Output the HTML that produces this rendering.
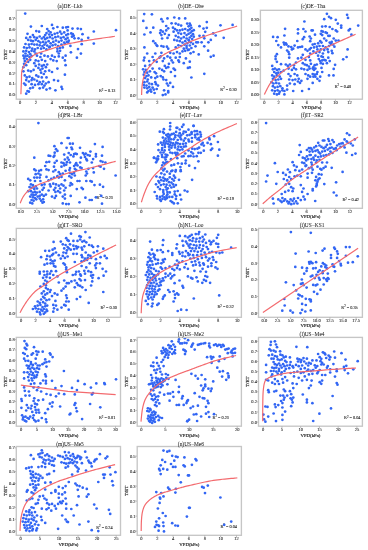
<!DOCTYPE html><html><head><meta charset="utf-8"><style>html,body{margin:0;padding:0;background:#fff;width:368px;height:550px;overflow:hidden}svg{display:block}text{font-family:"Liberation Serif",serif;fill:#262626;stroke:#262626;stroke-width:0.18px}.tk{stroke-width:0.08px}.ti{stroke-width:0.05px}.xl{stroke-width:0.16px}.r2{stroke-width:0.1px}</style></head><body><svg width="368" height="550" viewBox="0 0 368 550"><rect width="368" height="550" fill="#fff"/><g><clipPath id="ca"><rect x="16.30" y="10.30" width="104.20" height="88.90"/></clipPath><text class="r2" x="115.40" y="92.40" font-size="4.25" text-anchor="end">R<tspan font-size="3.2" dy="-1.6">2</tspan><tspan dy="1.6"> = 0.13</tspan></text><g clip-path="url(#ca)" fill="#3266f4"><circle cx="30.9" cy="26.6" r="1.36"/><circle cx="41.8" cy="26.0" r="1.36"/><circle cx="52.0" cy="24.9" r="1.36"/><circle cx="57.4" cy="27.0" r="1.36"/><circle cx="62.8" cy="27.7" r="1.36"/><circle cx="66.2" cy="27.4" r="1.36"/><circle cx="53.3" cy="28.3" r="1.36"/><circle cx="36.3" cy="31.1" r="1.36"/><circle cx="39.1" cy="31.7" r="1.36"/><circle cx="27.5" cy="33.8" r="1.36"/><circle cx="47.2" cy="29.0" r="1.36"/><circle cx="48.6" cy="31.1" r="1.36"/><circle cx="50.6" cy="32.4" r="1.36"/><circle cx="46.5" cy="33.1" r="1.36"/><circle cx="49.2" cy="34.5" r="1.36"/><circle cx="45.2" cy="35.1" r="1.36"/><circle cx="52.0" cy="35.1" r="1.36"/><circle cx="54.7" cy="33.8" r="1.36"/><circle cx="57.4" cy="33.1" r="1.36"/><circle cx="60.1" cy="31.7" r="1.36"/><circle cx="61.5" cy="33.8" r="1.36"/><circle cx="64.2" cy="32.4" r="1.36"/><circle cx="66.2" cy="35.1" r="1.36"/><circle cx="67.6" cy="30.4" r="1.36"/><circle cx="32.9" cy="35.1" r="1.36"/><circle cx="30.2" cy="37.2" r="1.36"/><circle cx="26.2" cy="37.9" r="1.36"/><circle cx="34.3" cy="37.2" r="1.36"/><circle cx="37.0" cy="37.9" r="1.36"/><circle cx="39.7" cy="36.5" r="1.36"/><circle cx="41.8" cy="38.5" r="1.36"/><circle cx="43.8" cy="37.2" r="1.36"/><circle cx="45.2" cy="39.2" r="1.36"/><circle cx="47.2" cy="37.9" r="1.36"/><circle cx="49.9" cy="37.2" r="1.36"/><circle cx="52.6" cy="38.5" r="1.36"/><circle cx="55.4" cy="37.2" r="1.36"/><circle cx="58.1" cy="36.5" r="1.36"/><circle cx="60.8" cy="37.9" r="1.36"/><circle cx="63.5" cy="37.2" r="1.36"/><circle cx="65.6" cy="39.2" r="1.36"/><circle cx="67.6" cy="37.9" r="1.36"/><circle cx="28.2" cy="39.9" r="1.36"/><circle cx="30.9" cy="40.6" r="1.36"/><circle cx="32.9" cy="41.2" r="1.36"/><circle cx="35.7" cy="39.9" r="1.36"/><circle cx="38.4" cy="41.2" r="1.36"/><circle cx="40.4" cy="42.6" r="1.36"/><circle cx="43.1" cy="41.9" r="1.36"/><circle cx="45.9" cy="42.6" r="1.36"/><circle cx="48.6" cy="41.2" r="1.36"/><circle cx="50.6" cy="43.3" r="1.36"/><circle cx="53.3" cy="41.9" r="1.36"/><circle cx="56.0" cy="40.6" r="1.36"/><circle cx="58.8" cy="41.9" r="1.36"/><circle cx="61.5" cy="40.6" r="1.36"/><circle cx="64.2" cy="42.6" r="1.36"/><circle cx="66.9" cy="41.9" r="1.36"/><circle cx="25.5" cy="44.0" r="1.36"/><circle cx="28.9" cy="44.6" r="1.36"/><circle cx="31.6" cy="44.0" r="1.36"/><circle cx="34.3" cy="44.6" r="1.36"/><circle cx="37.0" cy="44.6" r="1.36"/><circle cx="39.7" cy="45.3" r="1.36"/><circle cx="42.5" cy="46.0" r="1.36"/><circle cx="44.5" cy="44.6" r="1.36"/><circle cx="47.2" cy="45.6" r="1.36"/><circle cx="49.9" cy="46.7" r="1.36"/><circle cx="52.6" cy="45.3" r="1.36"/><circle cx="55.4" cy="44.6" r="1.36"/><circle cx="58.1" cy="46.0" r="1.36"/><circle cx="61.5" cy="44.6" r="1.36"/><circle cx="64.9" cy="44.0" r="1.36"/><circle cx="24.1" cy="47.4" r="1.36"/><circle cx="26.8" cy="48.0" r="1.36"/><circle cx="29.5" cy="47.4" r="1.36"/><circle cx="32.3" cy="48.7" r="1.36"/><circle cx="35.0" cy="49.4" r="1.36"/><circle cx="37.7" cy="48.0" r="1.36"/><circle cx="41.1" cy="48.7" r="1.36"/><circle cx="43.8" cy="48.0" r="1.36"/><circle cx="46.5" cy="49.4" r="1.36"/><circle cx="49.2" cy="47.4" r="1.36"/><circle cx="57.4" cy="48.7" r="1.36"/><circle cx="60.1" cy="48.0" r="1.36"/><circle cx="62.8" cy="47.4" r="1.36"/><circle cx="23.4" cy="51.4" r="1.36"/><circle cx="26.2" cy="50.8" r="1.36"/><circle cx="28.9" cy="52.1" r="1.36"/><circle cx="31.6" cy="50.8" r="1.36"/><circle cx="34.3" cy="51.4" r="1.36"/><circle cx="25.5" cy="53.5" r="1.36"/><circle cx="30.2" cy="54.2" r="1.36"/><circle cx="35.7" cy="53.5" r="1.36"/><circle cx="41.1" cy="53.5" r="1.36"/><circle cx="57.4" cy="51.4" r="1.36"/><circle cx="60.1" cy="50.8" r="1.36"/><circle cx="58.8" cy="53.5" r="1.36"/><circle cx="23.4" cy="55.7" r="1.36"/><circle cx="25.5" cy="56.4" r="1.36"/><circle cx="27.5" cy="55.7" r="1.36"/><circle cx="29.5" cy="57.0" r="1.36"/><circle cx="31.6" cy="56.1" r="1.36"/><circle cx="24.1" cy="58.4" r="1.36"/><circle cx="26.8" cy="59.1" r="1.36"/><circle cx="30.2" cy="59.8" r="1.36"/><circle cx="24.8" cy="61.1" r="1.36"/><circle cx="28.2" cy="61.8" r="1.36"/><circle cx="24.1" cy="63.8" r="1.36"/><circle cx="26.2" cy="65.2" r="1.36"/><circle cx="23.4" cy="67.2" r="1.36"/><circle cx="37.0" cy="55.7" r="1.36"/><circle cx="40.4" cy="57.0" r="1.36"/><circle cx="44.5" cy="55.7" r="1.36"/><circle cx="47.9" cy="56.4" r="1.36"/><circle cx="52.0" cy="55.7" r="1.36"/><circle cx="54.7" cy="57.0" r="1.36"/><circle cx="58.8" cy="56.4" r="1.36"/><circle cx="62.8" cy="57.7" r="1.36"/><circle cx="65.6" cy="55.7" r="1.36"/><circle cx="35.7" cy="60.4" r="1.36"/><circle cx="38.4" cy="61.1" r="1.36"/><circle cx="41.8" cy="59.8" r="1.36"/><circle cx="45.2" cy="61.1" r="1.36"/><circle cx="50.6" cy="59.1" r="1.36"/><circle cx="53.3" cy="60.4" r="1.36"/><circle cx="56.7" cy="61.1" r="1.36"/><circle cx="64.9" cy="60.4" r="1.36"/><circle cx="39.1" cy="64.5" r="1.36"/><circle cx="41.8" cy="65.9" r="1.36"/><circle cx="43.8" cy="65.2" r="1.36"/><circle cx="45.9" cy="67.2" r="1.36"/><circle cx="42.5" cy="68.6" r="1.36"/><circle cx="40.4" cy="69.9" r="1.36"/><circle cx="38.4" cy="67.9" r="1.36"/><circle cx="34.3" cy="63.2" r="1.36"/><circle cx="35.7" cy="65.9" r="1.36"/><circle cx="47.2" cy="64.5" r="1.36"/><circle cx="65.6" cy="65.2" r="1.36"/><circle cx="57.4" cy="68.6" r="1.36"/><circle cx="23.4" cy="71.3" r="1.36"/><circle cx="28.2" cy="70.6" r="1.36"/><circle cx="30.9" cy="71.3" r="1.36"/><circle cx="33.6" cy="69.9" r="1.36"/><circle cx="45.2" cy="71.3" r="1.36"/><circle cx="49.2" cy="70.6" r="1.36"/><circle cx="52.0" cy="72.0" r="1.36"/><circle cx="41.1" cy="72.7" r="1.36"/><circle cx="43.8" cy="74.0" r="1.36"/><circle cx="24.8" cy="75.4" r="1.36"/><circle cx="26.8" cy="77.4" r="1.36"/><circle cx="29.5" cy="76.7" r="1.36"/><circle cx="32.3" cy="78.1" r="1.36"/><circle cx="36.3" cy="75.4" r="1.36"/><circle cx="38.4" cy="76.7" r="1.36"/><circle cx="41.8" cy="77.4" r="1.36"/><circle cx="46.5" cy="77.4" r="1.36"/><circle cx="64.9" cy="74.7" r="1.36"/><circle cx="26.2" cy="80.1" r="1.36"/><circle cx="28.9" cy="81.5" r="1.36"/><circle cx="31.6" cy="80.1" r="1.36"/><circle cx="34.3" cy="79.5" r="1.36"/><circle cx="37.0" cy="80.8" r="1.36"/><circle cx="39.7" cy="82.2" r="1.36"/><circle cx="43.1" cy="81.5" r="1.36"/><circle cx="45.9" cy="83.5" r="1.36"/><circle cx="48.6" cy="82.2" r="1.36"/><circle cx="54.0" cy="80.1" r="1.36"/><circle cx="58.1" cy="80.8" r="1.36"/><circle cx="24.1" cy="83.5" r="1.36"/><circle cx="25.5" cy="84.9" r="1.36"/><circle cx="31.6" cy="84.2" r="1.36"/><circle cx="35.0" cy="84.9" r="1.36"/><circle cx="38.4" cy="84.2" r="1.36"/><circle cx="41.8" cy="84.2" r="1.36"/><circle cx="44.5" cy="85.6" r="1.36"/><circle cx="61.5" cy="86.9" r="1.36"/><circle cx="62.2" cy="89.0" r="1.36"/><circle cx="32.9" cy="87.6" r="1.36"/><circle cx="30.2" cy="88.3" r="1.36"/><circle cx="39.7" cy="88.3" r="1.36"/><circle cx="43.1" cy="87.6" r="1.36"/><circle cx="46.5" cy="89.6" r="1.36"/><circle cx="49.9" cy="88.3" r="1.36"/><circle cx="55.4" cy="90.3" r="1.36"/><circle cx="27.5" cy="91.0" r="1.36"/><circle cx="26.2" cy="93.7" r="1.36"/><circle cx="28.9" cy="91.7" r="1.36"/><circle cx="25.2" cy="13.6" r="1.36"/><circle cx="68.0" cy="27.0" r="1.36"/><circle cx="72.5" cy="28.6" r="1.36"/><circle cx="77.7" cy="28.6" r="1.36"/><circle cx="80.9" cy="29.1" r="1.36"/><circle cx="93.8" cy="31.5" r="1.36"/><circle cx="116.0" cy="30.2" r="1.36"/><circle cx="68.0" cy="34.2" r="1.36"/><circle cx="71.2" cy="33.4" r="1.36"/><circle cx="72.8" cy="34.2" r="1.36"/><circle cx="73.7" cy="35.8" r="1.36"/><circle cx="72.0" cy="36.7" r="1.36"/><circle cx="74.5" cy="38.3" r="1.36"/><circle cx="78.5" cy="38.3" r="1.36"/><circle cx="82.5" cy="34.2" r="1.36"/><circle cx="81.7" cy="39.9" r="1.36"/><circle cx="88.2" cy="37.8" r="1.36"/><circle cx="68.8" cy="40.7" r="1.36"/><circle cx="68.0" cy="42.3" r="1.36"/><circle cx="70.4" cy="45.9" r="1.36"/><circle cx="81.7" cy="44.2" r="1.36"/><circle cx="93.8" cy="43.6" r="1.36"/><circle cx="78.0" cy="49.1" r="1.36"/><circle cx="70.9" cy="52.3" r="1.36"/><circle cx="80.9" cy="53.6" r="1.36"/><circle cx="76.9" cy="57.7" r="1.36"/></g><polyline clip-path="url(#ca)" points="20.90,94.30 20.92,93.70 20.95,92.96 20.99,92.08 21.02,91.10 21.06,90.03 21.11,88.90 21.15,87.73 21.20,86.53 21.25,85.34 21.30,84.17 21.35,83.05 21.40,82.00 21.44,80.98 21.46,79.94 21.47,78.89 21.48,77.83 21.49,76.78 21.50,75.73 21.53,74.70 21.58,73.69 21.65,72.71 21.76,71.77 21.91,70.86 22.10,70.00 22.34,69.19 22.62,68.41 22.93,67.66 23.27,66.95 23.64,66.27 24.04,65.61 24.45,64.97 24.87,64.35 25.30,63.74 25.74,63.15 26.17,62.57 26.60,62.00 27.04,61.44 27.49,60.88 27.96,60.35 28.44,59.83 28.93,59.32 29.42,58.83 29.92,58.36 30.41,57.91 30.90,57.47 31.38,57.06 31.85,56.67 32.30,56.30 32.72,55.96 33.12,55.65 33.49,55.38 33.85,55.12 34.20,54.89 34.56,54.67 34.92,54.46 35.31,54.26 35.72,54.05 36.17,53.85 36.66,53.63 37.20,53.40 37.76,53.18 38.29,52.97 38.82,52.78 39.36,52.60 39.93,52.42 40.54,52.24 41.21,52.04 41.95,51.82 42.79,51.57 43.73,51.29 44.80,50.97 46.00,50.60 47.35,50.17 48.83,49.69 50.43,49.15 52.14,48.58 53.93,47.98 55.81,47.37 57.74,46.75 59.73,46.13 61.75,45.53 63.80,44.95 65.85,44.40 67.90,43.90 70.00,43.43 72.20,42.98 74.48,42.54 76.82,42.11 79.19,41.70 81.58,41.31 83.96,40.92 86.31,40.55 88.62,40.19 90.85,39.85 92.98,39.52 95.00,39.20 96.97,38.89 98.95,38.59 100.93,38.30 102.87,38.02 104.77,37.76 106.59,37.51 108.32,37.27 109.94,37.06 111.41,36.86 112.73,36.68 113.87,36.53 114.80,36.40" fill="none" stroke="#f36a6e" stroke-width="1.2" stroke-linejoin="round"/><rect x="16.30" y="10.30" width="104.20" height="88.90" fill="none" stroke="#c6c6c6" stroke-width="1.35"/><text class="tk" x="20.05" y="103.80" font-size="4.50" text-anchor="middle">0</text><text class="tk" x="35.95" y="103.80" font-size="4.50" text-anchor="middle">2</text><text class="tk" x="51.85" y="103.80" font-size="4.50" text-anchor="middle">4</text><text class="tk" x="67.75" y="103.80" font-size="4.50" text-anchor="middle">6</text><text class="tk" x="83.65" y="103.80" font-size="4.50" text-anchor="middle">8</text><text class="tk" x="99.55" y="103.80" font-size="4.50" text-anchor="middle">10</text><text class="tk" x="115.45" y="103.80" font-size="4.50" text-anchor="middle">12</text><text class="tk" x="14.70" y="96.40" font-size="4.50" text-anchor="end">0.0</text><text class="tk" x="14.70" y="85.49" font-size="4.50" text-anchor="end">0.1</text><text class="tk" x="14.70" y="74.58" font-size="4.50" text-anchor="end">0.2</text><text class="tk" x="14.70" y="63.67" font-size="4.50" text-anchor="end">0.3</text><text class="tk" x="14.70" y="52.76" font-size="4.50" text-anchor="end">0.4</text><text class="tk" x="14.70" y="41.85" font-size="4.50" text-anchor="end">0.5</text><text class="tk" x="14.70" y="30.94" font-size="4.50" text-anchor="end">0.6</text><text class="tk" x="14.70" y="20.03" font-size="4.50" text-anchor="end">0.7</text><path d="M20.05 99.50v1.6M35.95 99.50v1.6M51.85 99.50v1.6M67.75 99.50v1.6M83.65 99.50v1.6M99.55 99.50v1.6M115.45 99.50v1.6M16.00 94.90h-1.6M16.00 83.99h-1.6M16.00 73.08h-1.6M16.00 62.17h-1.6M16.00 51.26h-1.6M16.00 40.35h-1.6M16.00 29.44h-1.6M16.00 18.53h-1.6" stroke="#8a8a8a" stroke-width="0.55" fill="none"/><text class="ti" x="70.00" y="7.70" font-size="5.40" text-anchor="middle">(a)DE−Lkb</text><text class="xl" x="68.40" y="108.90" font-size="4.80" text-anchor="middle">VPD(kPa)</text><text transform="translate(6.60 54.75) rotate(-90)" font-size="4.90" text-anchor="middle">T/ET</text></g><g><clipPath id="cb"><rect x="137.20" y="10.30" width="104.20" height="88.90"/></clipPath><text class="r2" x="236.70" y="90.80" font-size="4.25" text-anchor="end">R<tspan font-size="3.2" dy="-1.6">2</tspan><tspan dy="1.6"> = 0.30</tspan></text><g clip-path="url(#cb)" fill="#3266f4"><circle cx="144.2" cy="14.1" r="1.36"/><circle cx="151.9" cy="14.3" r="1.36"/><circle cx="143.3" cy="20.9" r="1.36"/><circle cx="161.4" cy="19.2" r="1.36"/><circle cx="162.8" cy="21.5" r="1.36"/><circle cx="167.5" cy="18.4" r="1.36"/><circle cx="174.3" cy="17.5" r="1.36"/><circle cx="179.1" cy="18.4" r="1.36"/><circle cx="185.2" cy="18.4" r="1.36"/><circle cx="171.6" cy="23.3" r="1.36"/><circle cx="175.7" cy="23.6" r="1.36"/><circle cx="178.4" cy="24.7" r="1.36"/><circle cx="181.1" cy="25.6" r="1.36"/><circle cx="187.2" cy="23.6" r="1.36"/><circle cx="188.6" cy="26.3" r="1.36"/><circle cx="146.5" cy="27.9" r="1.36"/><circle cx="153.3" cy="27.7" r="1.36"/><circle cx="166.2" cy="26.0" r="1.36"/><circle cx="168.2" cy="28.3" r="1.36"/><circle cx="166.2" cy="30.4" r="1.36"/><circle cx="160.7" cy="30.4" r="1.36"/><circle cx="162.8" cy="31.7" r="1.36"/><circle cx="160.1" cy="33.1" r="1.36"/><circle cx="164.8" cy="33.8" r="1.36"/><circle cx="161.4" cy="35.1" r="1.36"/><circle cx="173.0" cy="27.7" r="1.36"/><circle cx="175.0" cy="29.0" r="1.36"/><circle cx="173.6" cy="31.7" r="1.36"/><circle cx="177.0" cy="30.4" r="1.36"/><circle cx="179.8" cy="30.4" r="1.36"/><circle cx="182.5" cy="29.7" r="1.36"/><circle cx="185.2" cy="29.0" r="1.36"/><circle cx="187.9" cy="30.4" r="1.36"/><circle cx="178.4" cy="33.1" r="1.36"/><circle cx="181.1" cy="33.8" r="1.36"/><circle cx="184.5" cy="33.1" r="1.36"/><circle cx="186.6" cy="35.1" r="1.36"/><circle cx="188.6" cy="33.8" r="1.36"/><circle cx="150.5" cy="32.4" r="1.36"/><circle cx="144.4" cy="34.5" r="1.36"/><circle cx="168.9" cy="35.1" r="1.36"/><circle cx="167.5" cy="37.9" r="1.36"/><circle cx="162.1" cy="38.5" r="1.36"/><circle cx="175.7" cy="35.8" r="1.36"/><circle cx="178.4" cy="37.2" r="1.36"/><circle cx="181.1" cy="38.5" r="1.36"/><circle cx="183.8" cy="37.2" r="1.36"/><circle cx="186.6" cy="38.5" r="1.36"/><circle cx="188.6" cy="39.9" r="1.36"/><circle cx="174.3" cy="39.9" r="1.36"/><circle cx="177.0" cy="40.6" r="1.36"/><circle cx="179.8" cy="41.2" r="1.36"/><circle cx="185.2" cy="41.2" r="1.36"/><circle cx="182.5" cy="42.6" r="1.36"/><circle cx="187.2" cy="43.3" r="1.36"/><circle cx="153.3" cy="41.2" r="1.36"/><circle cx="155.3" cy="43.3" r="1.36"/><circle cx="156.7" cy="45.3" r="1.36"/><circle cx="161.4" cy="46.0" r="1.36"/><circle cx="163.5" cy="46.7" r="1.36"/><circle cx="166.9" cy="46.7" r="1.36"/><circle cx="144.4" cy="47.4" r="1.36"/><circle cx="157.3" cy="46.0" r="1.36"/><circle cx="168.2" cy="48.7" r="1.36"/><circle cx="175.7" cy="47.4" r="1.36"/><circle cx="178.4" cy="45.3" r="1.36"/><circle cx="181.1" cy="46.0" r="1.36"/><circle cx="184.5" cy="44.6" r="1.36"/><circle cx="186.6" cy="46.0" r="1.36"/><circle cx="147.2" cy="53.5" r="1.36"/><circle cx="161.4" cy="52.8" r="1.36"/><circle cx="155.3" cy="53.5" r="1.36"/><circle cx="170.2" cy="52.8" r="1.36"/><circle cx="173.6" cy="53.5" r="1.36"/><circle cx="177.0" cy="52.1" r="1.36"/><circle cx="179.8" cy="53.5" r="1.36"/><circle cx="182.5" cy="51.4" r="1.36"/><circle cx="185.2" cy="50.8" r="1.36"/><circle cx="187.9" cy="50.1" r="1.36"/><circle cx="183.8" cy="48.7" r="1.36"/><circle cx="186.6" cy="48.0" r="1.36"/><circle cx="144.4" cy="57.7" r="1.36"/><circle cx="143.8" cy="60.4" r="1.36"/><circle cx="149.2" cy="61.1" r="1.36"/><circle cx="152.6" cy="57.0" r="1.36"/><circle cx="153.9" cy="60.4" r="1.36"/><circle cx="156.7" cy="61.8" r="1.36"/><circle cx="159.4" cy="57.7" r="1.36"/><circle cx="160.7" cy="56.4" r="1.36"/><circle cx="164.1" cy="58.4" r="1.36"/><circle cx="162.8" cy="61.1" r="1.36"/><circle cx="167.5" cy="56.4" r="1.36"/><circle cx="170.2" cy="57.7" r="1.36"/><circle cx="171.6" cy="60.4" r="1.36"/><circle cx="173.0" cy="62.5" r="1.36"/><circle cx="175.7" cy="57.7" r="1.36"/><circle cx="178.4" cy="60.4" r="1.36"/><circle cx="179.8" cy="57.0" r="1.36"/><circle cx="179.1" cy="61.8" r="1.36"/><circle cx="185.9" cy="58.4" r="1.36"/><circle cx="183.8" cy="63.2" r="1.36"/><circle cx="187.9" cy="67.9" r="1.36"/><circle cx="145.1" cy="65.9" r="1.36"/><circle cx="149.9" cy="65.2" r="1.36"/><circle cx="152.6" cy="68.6" r="1.36"/><circle cx="143.1" cy="69.3" r="1.36"/><circle cx="145.8" cy="69.9" r="1.36"/><circle cx="144.4" cy="72.0" r="1.36"/><circle cx="147.2" cy="72.7" r="1.36"/><circle cx="149.9" cy="71.3" r="1.36"/><circle cx="154.6" cy="72.0" r="1.36"/><circle cx="156.0" cy="73.3" r="1.36"/><circle cx="159.4" cy="68.6" r="1.36"/><circle cx="162.1" cy="69.9" r="1.36"/><circle cx="164.1" cy="71.3" r="1.36"/><circle cx="166.2" cy="67.9" r="1.36"/><circle cx="168.2" cy="67.2" r="1.36"/><circle cx="170.9" cy="72.0" r="1.36"/><circle cx="173.6" cy="68.6" r="1.36"/><circle cx="175.0" cy="69.9" r="1.36"/><circle cx="164.8" cy="65.9" r="1.36"/><circle cx="168.9" cy="63.8" r="1.36"/><circle cx="143.8" cy="74.7" r="1.36"/><circle cx="146.5" cy="76.1" r="1.36"/><circle cx="148.5" cy="75.4" r="1.36"/><circle cx="145.1" cy="78.1" r="1.36"/><circle cx="147.8" cy="79.5" r="1.36"/><circle cx="151.2" cy="77.4" r="1.36"/><circle cx="155.3" cy="78.1" r="1.36"/><circle cx="157.3" cy="76.7" r="1.36"/><circle cx="160.7" cy="76.1" r="1.36"/><circle cx="162.8" cy="77.4" r="1.36"/><circle cx="163.5" cy="79.5" r="1.36"/><circle cx="166.2" cy="80.1" r="1.36"/><circle cx="175.0" cy="76.1" r="1.36"/><circle cx="144.4" cy="82.2" r="1.36"/><circle cx="147.2" cy="81.5" r="1.36"/><circle cx="143.8" cy="84.9" r="1.36"/><circle cx="146.5" cy="85.6" r="1.36"/><circle cx="149.2" cy="83.5" r="1.36"/><circle cx="151.9" cy="84.2" r="1.36"/><circle cx="155.3" cy="82.2" r="1.36"/><circle cx="156.0" cy="84.2" r="1.36"/><circle cx="158.0" cy="85.6" r="1.36"/><circle cx="166.9" cy="83.5" r="1.36"/><circle cx="170.2" cy="82.9" r="1.36"/><circle cx="168.2" cy="85.6" r="1.36"/><circle cx="173.0" cy="86.9" r="1.36"/><circle cx="144.4" cy="87.6" r="1.36"/><circle cx="147.2" cy="88.3" r="1.36"/><circle cx="149.2" cy="86.9" r="1.36"/><circle cx="150.5" cy="89.6" r="1.36"/><circle cx="152.6" cy="87.6" r="1.36"/><circle cx="153.9" cy="89.6" r="1.36"/><circle cx="156.7" cy="89.0" r="1.36"/><circle cx="148.5" cy="91.0" r="1.36"/><circle cx="151.2" cy="91.7" r="1.36"/><circle cx="147.2" cy="92.4" r="1.36"/><circle cx="154.6" cy="93.0" r="1.36"/><circle cx="164.1" cy="90.3" r="1.36"/><circle cx="168.2" cy="91.0" r="1.36"/><circle cx="168.2" cy="92.4" r="1.36"/><circle cx="162.8" cy="95.1" r="1.36"/><circle cx="165.5" cy="94.4" r="1.36"/><circle cx="189.8" cy="23.7" r="1.36"/><circle cx="190.6" cy="25.3" r="1.36"/><circle cx="191.4" cy="27.8" r="1.36"/><circle cx="189.8" cy="29.4" r="1.36"/><circle cx="192.2" cy="31.0" r="1.36"/><circle cx="190.6" cy="32.6" r="1.36"/><circle cx="193.0" cy="34.2" r="1.36"/><circle cx="191.4" cy="35.8" r="1.36"/><circle cx="189.8" cy="37.5" r="1.36"/><circle cx="192.2" cy="39.1" r="1.36"/><circle cx="189.0" cy="40.7" r="1.36"/><circle cx="190.6" cy="42.3" r="1.36"/><circle cx="193.0" cy="43.9" r="1.36"/><circle cx="189.8" cy="45.5" r="1.36"/><circle cx="191.4" cy="48.0" r="1.36"/><circle cx="189.0" cy="49.6" r="1.36"/><circle cx="193.8" cy="30.2" r="1.36"/><circle cx="193.8" cy="36.7" r="1.36"/><circle cx="196.3" cy="42.3" r="1.36"/><circle cx="195.5" cy="46.3" r="1.36"/><circle cx="193.5" cy="52.0" r="1.36"/><circle cx="190.6" cy="53.3" r="1.36"/><circle cx="199.5" cy="26.2" r="1.36"/><circle cx="203.5" cy="28.6" r="1.36"/><circle cx="206.8" cy="22.1" r="1.36"/><circle cx="206.8" cy="27.8" r="1.36"/><circle cx="205.2" cy="31.8" r="1.36"/><circle cx="203.5" cy="35.8" r="1.36"/><circle cx="204.3" cy="38.3" r="1.36"/><circle cx="199.5" cy="35.8" r="1.36"/><circle cx="201.6" cy="42.3" r="1.36"/><circle cx="197.9" cy="42.3" r="1.36"/><circle cx="208.4" cy="42.3" r="1.36"/><circle cx="210.8" cy="39.9" r="1.36"/><circle cx="213.2" cy="33.4" r="1.36"/><circle cx="215.7" cy="35.5" r="1.36"/><circle cx="220.5" cy="25.3" r="1.36"/><circle cx="232.6" cy="24.9" r="1.36"/><circle cx="223.7" cy="37.8" r="1.36"/><circle cx="204.3" cy="46.3" r="1.36"/><circle cx="208.1" cy="50.7" r="1.36"/><circle cx="198.7" cy="54.4" r="1.36"/><circle cx="210.8" cy="56.8" r="1.36"/><circle cx="213.6" cy="55.7" r="1.36"/><circle cx="189.8" cy="61.7" r="1.36"/><circle cx="189.8" cy="67.4" r="1.36"/><circle cx="204.3" cy="73.8" r="1.36"/><circle cx="191.4" cy="77.5" r="1.36"/></g><polyline clip-path="url(#cb)" points="141.60,95.00 141.62,94.59 141.63,94.08 141.65,93.48 141.67,92.81 141.69,92.08 141.71,91.31 141.74,90.50 141.78,89.69 141.82,88.88 141.87,88.08 141.93,87.32 142.00,86.60 142.08,85.91 142.16,85.22 142.25,84.52 142.34,83.83 142.45,83.14 142.56,82.45 142.67,81.77 142.80,81.09 142.94,80.43 143.08,79.77 143.23,79.13 143.40,78.50 143.57,77.89 143.75,77.29 143.93,76.71 144.13,76.14 144.33,75.57 144.54,75.02 144.76,74.47 145.00,73.92 145.25,73.37 145.51,72.82 145.80,72.26 146.10,71.70 146.42,71.13 146.76,70.56 147.11,69.98 147.47,69.41 147.85,68.83 148.24,68.26 148.65,67.68 149.07,67.11 149.51,66.55 149.96,65.99 150.42,65.44 150.90,64.90 151.39,64.37 151.89,63.84 152.40,63.33 152.92,62.81 153.45,62.31 154.01,61.81 154.57,61.31 155.16,60.81 155.76,60.31 156.39,59.81 157.03,59.31 157.70,58.80 158.39,58.29 159.11,57.77 159.85,57.24 160.62,56.72 161.40,56.19 162.20,55.67 163.01,55.15 163.84,54.64 164.67,54.13 165.51,53.64 166.35,53.16 167.20,52.70 168.05,52.26 168.91,51.84 169.78,51.44 170.66,51.05 171.55,50.67 172.44,50.30 173.35,49.93 174.26,49.55 175.19,49.16 176.12,48.76 177.05,48.34 178.00,47.90 178.92,47.44 179.80,46.99 180.65,46.52 181.50,46.05 182.35,45.57 183.22,45.07 184.15,44.57 185.13,44.05 186.18,43.52 187.34,42.96 188.60,42.39 190.00,41.80 191.54,41.18 193.21,40.52 195.00,39.83 196.88,39.13 198.84,38.40 200.86,37.67 202.92,36.93 205.00,36.20 207.09,35.47 209.16,34.76 211.21,34.07 213.20,33.40 215.24,32.74 217.42,32.05 219.69,31.35 222.00,30.64 224.32,29.95 226.60,29.27 228.80,28.63 230.88,28.02 232.79,27.47 234.49,26.97 235.94,26.54 237.10,26.20" fill="none" stroke="#f36a6e" stroke-width="1.2" stroke-linejoin="round"/><rect x="137.20" y="10.30" width="104.20" height="88.90" fill="none" stroke="#c6c6c6" stroke-width="1.35"/><text class="tk" x="141.40" y="103.80" font-size="4.50" text-anchor="middle">0</text><text class="tk" x="157.26" y="103.80" font-size="4.50" text-anchor="middle">2</text><text class="tk" x="173.12" y="103.80" font-size="4.50" text-anchor="middle">4</text><text class="tk" x="188.98" y="103.80" font-size="4.50" text-anchor="middle">6</text><text class="tk" x="204.84" y="103.80" font-size="4.50" text-anchor="middle">8</text><text class="tk" x="220.70" y="103.80" font-size="4.50" text-anchor="middle">10</text><text class="tk" x="236.56" y="103.80" font-size="4.50" text-anchor="middle">12</text><text class="tk" x="135.60" y="96.50" font-size="4.50" text-anchor="end">0.0</text><text class="tk" x="135.60" y="81.08" font-size="4.50" text-anchor="end">0.1</text><text class="tk" x="135.60" y="65.66" font-size="4.50" text-anchor="end">0.2</text><text class="tk" x="135.60" y="50.24" font-size="4.50" text-anchor="end">0.3</text><text class="tk" x="135.60" y="34.82" font-size="4.50" text-anchor="end">0.4</text><text class="tk" x="135.60" y="19.40" font-size="4.50" text-anchor="end">0.5</text><path d="M141.40 99.50v1.6M157.26 99.50v1.6M173.12 99.50v1.6M188.98 99.50v1.6M204.84 99.50v1.6M220.70 99.50v1.6M236.56 99.50v1.6M136.90 95.00h-1.6M136.90 79.58h-1.6M136.90 64.16h-1.6M136.90 48.74h-1.6M136.90 33.32h-1.6M136.90 17.90h-1.6" stroke="#8a8a8a" stroke-width="0.55" fill="none"/><text class="ti" x="190.90" y="7.70" font-size="5.40" text-anchor="middle">(b)DE−Obe</text><text class="xl" x="189.30" y="108.90" font-size="4.80" text-anchor="middle">VPD(kPa)</text><text transform="translate(127.50 54.75) rotate(-90)" font-size="4.90" text-anchor="middle">T/ET</text></g><g><clipPath id="cc"><rect x="260.40" y="10.30" width="102.00" height="88.90"/></clipPath><text class="r2" x="351.10" y="87.80" font-size="4.25" text-anchor="end">R<tspan font-size="3.2" dy="-1.6">2</tspan><tspan dy="1.6"> = 0.40</tspan></text><g clip-path="url(#cc)" fill="#3266f4"><circle cx="304.4" cy="21.5" r="1.36"/><circle cx="285.1" cy="28.8" r="1.36"/><circle cx="298.0" cy="29.3" r="1.36"/><circle cx="303.4" cy="29.0" r="1.36"/><circle cx="305.5" cy="31.5" r="1.36"/><circle cx="311.6" cy="30.4" r="1.36"/><circle cx="298.0" cy="33.4" r="1.36"/><circle cx="284.4" cy="35.5" r="1.36"/><circle cx="273.1" cy="36.9" r="1.36"/><circle cx="277.6" cy="37.2" r="1.36"/><circle cx="276.3" cy="41.0" r="1.36"/><circle cx="302.8" cy="39.2" r="1.36"/><circle cx="304.1" cy="37.2" r="1.36"/><circle cx="309.6" cy="36.5" r="1.36"/><circle cx="310.9" cy="38.5" r="1.36"/><circle cx="310.2" cy="41.2" r="1.36"/><circle cx="297.3" cy="41.0" r="1.36"/><circle cx="283.7" cy="42.6" r="1.36"/><circle cx="285.8" cy="43.3" r="1.36"/><circle cx="284.4" cy="44.6" r="1.36"/><circle cx="286.5" cy="44.6" r="1.36"/><circle cx="278.3" cy="45.1" r="1.36"/><circle cx="281.0" cy="47.4" r="1.36"/><circle cx="288.5" cy="46.4" r="1.36"/><circle cx="291.2" cy="47.0" r="1.36"/><circle cx="294.6" cy="45.6" r="1.36"/><circle cx="298.0" cy="47.4" r="1.36"/><circle cx="300.0" cy="47.0" r="1.36"/><circle cx="302.1" cy="46.7" r="1.36"/><circle cx="291.9" cy="49.4" r="1.36"/><circle cx="293.2" cy="48.7" r="1.36"/><circle cx="287.1" cy="50.5" r="1.36"/><circle cx="288.5" cy="52.1" r="1.36"/><circle cx="305.5" cy="49.4" r="1.36"/><circle cx="307.5" cy="50.8" r="1.36"/><circle cx="309.6" cy="49.4" r="1.36"/><circle cx="310.9" cy="48.0" r="1.36"/><circle cx="276.9" cy="54.2" r="1.36"/><circle cx="289.2" cy="54.2" r="1.36"/><circle cx="310.2" cy="53.5" r="1.36"/><circle cx="302.8" cy="54.8" r="1.36"/><circle cx="275.6" cy="56.4" r="1.36"/><circle cx="275.6" cy="59.1" r="1.36"/><circle cx="276.9" cy="61.8" r="1.36"/><circle cx="289.2" cy="57.7" r="1.36"/><circle cx="298.0" cy="58.4" r="1.36"/><circle cx="301.4" cy="57.7" r="1.36"/><circle cx="305.5" cy="59.8" r="1.36"/><circle cx="308.9" cy="57.0" r="1.36"/><circle cx="310.2" cy="60.4" r="1.36"/><circle cx="272.2" cy="65.9" r="1.36"/><circle cx="281.0" cy="64.2" r="1.36"/><circle cx="285.8" cy="64.5" r="1.36"/><circle cx="287.8" cy="65.9" r="1.36"/><circle cx="289.9" cy="64.5" r="1.36"/><circle cx="293.9" cy="65.2" r="1.36"/><circle cx="296.0" cy="62.5" r="1.36"/><circle cx="302.8" cy="63.2" r="1.36"/><circle cx="304.8" cy="64.5" r="1.36"/><circle cx="306.8" cy="65.2" r="1.36"/><circle cx="308.9" cy="66.5" r="1.36"/><circle cx="310.9" cy="63.8" r="1.36"/><circle cx="272.9" cy="69.3" r="1.36"/><circle cx="274.9" cy="68.6" r="1.36"/><circle cx="276.9" cy="69.9" r="1.36"/><circle cx="279.0" cy="69.3" r="1.36"/><circle cx="274.2" cy="72.0" r="1.36"/><circle cx="276.3" cy="73.3" r="1.36"/><circle cx="278.3" cy="72.7" r="1.36"/><circle cx="281.0" cy="72.0" r="1.36"/><circle cx="283.7" cy="70.6" r="1.36"/><circle cx="288.5" cy="68.6" r="1.36"/><circle cx="291.9" cy="69.9" r="1.36"/><circle cx="293.9" cy="67.9" r="1.36"/><circle cx="296.0" cy="69.3" r="1.36"/><circle cx="301.4" cy="68.6" r="1.36"/><circle cx="304.1" cy="69.3" r="1.36"/><circle cx="307.5" cy="69.9" r="1.36"/><circle cx="309.6" cy="68.6" r="1.36"/><circle cx="272.2" cy="75.4" r="1.36"/><circle cx="274.2" cy="76.7" r="1.36"/><circle cx="276.9" cy="75.4" r="1.36"/><circle cx="279.7" cy="76.7" r="1.36"/><circle cx="272.9" cy="78.8" r="1.36"/><circle cx="275.6" cy="80.1" r="1.36"/><circle cx="278.3" cy="79.5" r="1.36"/><circle cx="281.0" cy="78.8" r="1.36"/><circle cx="288.5" cy="74.0" r="1.36"/><circle cx="290.5" cy="76.1" r="1.36"/><circle cx="294.6" cy="74.0" r="1.36"/><circle cx="297.3" cy="75.4" r="1.36"/><circle cx="305.5" cy="74.0" r="1.36"/><circle cx="308.2" cy="75.4" r="1.36"/><circle cx="310.2" cy="76.7" r="1.36"/><circle cx="271.5" cy="82.2" r="1.36"/><circle cx="273.5" cy="83.5" r="1.36"/><circle cx="276.3" cy="82.9" r="1.36"/><circle cx="279.0" cy="83.5" r="1.36"/><circle cx="289.2" cy="79.5" r="1.36"/><circle cx="292.6" cy="80.1" r="1.36"/><circle cx="295.3" cy="79.5" r="1.36"/><circle cx="298.7" cy="78.8" r="1.36"/><circle cx="298.0" cy="81.5" r="1.36"/><circle cx="301.4" cy="80.8" r="1.36"/><circle cx="307.5" cy="78.8" r="1.36"/><circle cx="272.9" cy="86.2" r="1.36"/><circle cx="274.9" cy="87.6" r="1.36"/><circle cx="277.6" cy="86.9" r="1.36"/><circle cx="280.3" cy="86.2" r="1.36"/><circle cx="282.4" cy="88.3" r="1.36"/><circle cx="287.1" cy="85.6" r="1.36"/><circle cx="289.9" cy="83.5" r="1.36"/><circle cx="294.6" cy="84.2" r="1.36"/><circle cx="300.0" cy="82.9" r="1.36"/><circle cx="272.2" cy="90.3" r="1.36"/><circle cx="274.9" cy="91.0" r="1.36"/><circle cx="277.6" cy="90.3" r="1.36"/><circle cx="279.7" cy="91.7" r="1.36"/><circle cx="282.4" cy="90.3" r="1.36"/><circle cx="284.4" cy="91.0" r="1.36"/><circle cx="287.1" cy="89.6" r="1.36"/><circle cx="274.2" cy="93.7" r="1.36"/><circle cx="276.9" cy="94.4" r="1.36"/><circle cx="279.0" cy="93.7" r="1.36"/><circle cx="284.4" cy="94.4" r="1.36"/><circle cx="293.2" cy="91.0" r="1.36"/><circle cx="302.1" cy="91.0" r="1.36"/><circle cx="308.9" cy="89.0" r="1.36"/><circle cx="326.9" cy="13.8" r="1.36"/><circle cx="329.0" cy="16.8" r="1.36"/><circle cx="331.0" cy="18.2" r="1.36"/><circle cx="335.8" cy="19.8" r="1.36"/><circle cx="324.2" cy="19.2" r="1.36"/><circle cx="347.1" cy="14.8" r="1.36"/><circle cx="348.0" cy="17.9" r="1.36"/><circle cx="337.8" cy="23.6" r="1.36"/><circle cx="341.2" cy="25.6" r="1.36"/><circle cx="341.2" cy="27.7" r="1.36"/><circle cx="358.2" cy="25.6" r="1.36"/><circle cx="322.2" cy="26.6" r="1.36"/><circle cx="325.6" cy="26.3" r="1.36"/><circle cx="329.7" cy="27.0" r="1.36"/><circle cx="332.4" cy="29.0" r="1.36"/><circle cx="350.0" cy="29.0" r="1.36"/><circle cx="348.7" cy="30.4" r="1.36"/><circle cx="335.8" cy="30.4" r="1.36"/><circle cx="337.1" cy="31.5" r="1.36"/><circle cx="312.7" cy="30.4" r="1.36"/><circle cx="321.5" cy="31.1" r="1.36"/><circle cx="322.9" cy="31.7" r="1.36"/><circle cx="320.8" cy="33.8" r="1.36"/><circle cx="322.2" cy="35.1" r="1.36"/><circle cx="325.6" cy="32.4" r="1.36"/><circle cx="326.9" cy="33.1" r="1.36"/><circle cx="328.3" cy="35.8" r="1.36"/><circle cx="329.7" cy="35.8" r="1.36"/><circle cx="315.0" cy="34.7" r="1.36"/><circle cx="351.4" cy="34.7" r="1.36"/><circle cx="324.2" cy="38.5" r="1.36"/><circle cx="326.3" cy="40.6" r="1.36"/><circle cx="333.7" cy="38.5" r="1.36"/><circle cx="335.8" cy="40.6" r="1.36"/><circle cx="338.5" cy="40.6" r="1.36"/><circle cx="320.2" cy="41.2" r="1.36"/><circle cx="321.5" cy="42.6" r="1.36"/><circle cx="318.1" cy="43.3" r="1.36"/><circle cx="314.7" cy="44.0" r="1.36"/><circle cx="312.7" cy="44.6" r="1.36"/><circle cx="329.7" cy="42.6" r="1.36"/><circle cx="331.7" cy="41.9" r="1.36"/><circle cx="331.0" cy="44.0" r="1.36"/><circle cx="333.1" cy="44.6" r="1.36"/><circle cx="316.8" cy="46.7" r="1.36"/><circle cx="319.5" cy="46.0" r="1.36"/><circle cx="322.9" cy="46.0" r="1.36"/><circle cx="325.6" cy="47.4" r="1.36"/><circle cx="329.0" cy="46.0" r="1.36"/><circle cx="334.4" cy="46.7" r="1.36"/><circle cx="314.0" cy="47.4" r="1.36"/><circle cx="317.4" cy="49.4" r="1.36"/><circle cx="320.8" cy="49.4" r="1.36"/><circle cx="324.2" cy="50.1" r="1.36"/><circle cx="327.6" cy="49.4" r="1.36"/><circle cx="328.3" cy="52.1" r="1.36"/><circle cx="331.7" cy="50.8" r="1.36"/><circle cx="313.4" cy="51.4" r="1.36"/><circle cx="316.1" cy="52.8" r="1.36"/><circle cx="319.5" cy="52.1" r="1.36"/><circle cx="322.9" cy="53.5" r="1.36"/><circle cx="332.4" cy="53.2" r="1.36"/><circle cx="347.6" cy="49.4" r="1.36"/><circle cx="318.1" cy="55.7" r="1.36"/><circle cx="321.5" cy="56.4" r="1.36"/><circle cx="322.9" cy="57.0" r="1.36"/><circle cx="328.3" cy="57.7" r="1.36"/><circle cx="318.8" cy="59.1" r="1.36"/><circle cx="320.2" cy="61.1" r="1.36"/><circle cx="322.2" cy="60.4" r="1.36"/><circle cx="324.2" cy="59.8" r="1.36"/><circle cx="325.6" cy="60.4" r="1.36"/><circle cx="329.7" cy="61.1" r="1.36"/><circle cx="326.9" cy="63.2" r="1.36"/><circle cx="320.8" cy="63.2" r="1.36"/><circle cx="322.9" cy="63.8" r="1.36"/><circle cx="343.2" cy="59.3" r="1.36"/><circle cx="346.6" cy="57.0" r="1.36"/><circle cx="335.1" cy="64.8" r="1.36"/><circle cx="314.7" cy="65.2" r="1.36"/><circle cx="316.8" cy="64.5" r="1.36"/><circle cx="313.4" cy="67.2" r="1.36"/><circle cx="312.7" cy="68.6" r="1.36"/><circle cx="315.4" cy="68.6" r="1.36"/><circle cx="314.0" cy="69.9" r="1.36"/><circle cx="321.5" cy="67.9" r="1.36"/><circle cx="333.7" cy="68.9" r="1.36"/><circle cx="317.4" cy="72.0" r="1.36"/><circle cx="322.2" cy="72.0" r="1.36"/><circle cx="312.7" cy="74.0" r="1.36"/><circle cx="314.7" cy="74.7" r="1.36"/><circle cx="316.8" cy="74.0" r="1.36"/><circle cx="315.4" cy="76.7" r="1.36"/><circle cx="313.4" cy="76.7" r="1.36"/><circle cx="320.2" cy="76.7" r="1.36"/><circle cx="317.4" cy="78.8" r="1.36"/><circle cx="319.5" cy="80.8" r="1.36"/><circle cx="329.0" cy="75.4" r="1.36"/><circle cx="333.5" cy="75.4" r="1.36"/><circle cx="312.7" cy="82.9" r="1.36"/></g><polyline clip-path="url(#cc)" points="264.30,94.60 264.46,94.28 264.66,93.87 264.89,93.39 265.16,92.84 265.44,92.26 265.74,91.64 266.06,91.00 266.38,90.36 266.70,89.72 267.01,89.11 267.31,88.53 267.60,88.00 267.87,87.51 268.13,87.03 268.38,86.57 268.62,86.11 268.87,85.66 269.12,85.22 269.38,84.79 269.64,84.36 269.93,83.92 270.23,83.49 270.55,83.05 270.90,82.60 271.27,82.15 271.65,81.71 272.05,81.28 272.46,80.84 272.89,80.41 273.33,79.97 273.79,79.53 274.26,79.08 274.75,78.63 275.25,78.16 275.77,77.69 276.30,77.20 276.85,76.69 277.43,76.17 278.02,75.63 278.63,75.08 279.26,74.52 279.89,73.96 280.54,73.39 281.20,72.83 281.87,72.28 282.54,71.74 283.22,71.21 283.90,70.70 284.59,70.20 285.30,69.71 286.03,69.23 286.77,68.75 287.51,68.28 288.26,67.81 289.01,67.36 289.76,66.91 290.49,66.47 291.21,66.04 291.92,65.61 292.60,65.20 293.25,64.81 293.87,64.44 294.46,64.09 295.03,63.75 295.59,63.42 296.16,63.10 296.73,62.77 297.31,62.44 297.93,62.09 298.57,61.72 299.26,61.32 300.00,60.90 300.75,60.46 301.49,60.02 302.22,59.57 302.97,59.11 303.74,58.63 304.54,58.14 305.40,57.63 306.33,57.09 307.34,56.52 308.45,55.92 309.66,55.28 311.00,54.60 312.48,53.86 314.12,53.07 315.87,52.23 317.73,51.35 319.67,50.44 321.67,49.51 323.71,48.57 325.76,47.63 327.81,46.69 329.83,45.76 331.80,44.87 333.70,44.00 335.62,43.13 337.65,42.22 339.74,41.28 341.87,40.34 343.99,39.40 346.07,38.49 348.07,37.61 349.95,36.78 351.68,36.02 353.23,35.34 354.54,34.77 355.60,34.30" fill="none" stroke="#f36a6e" stroke-width="1.2" stroke-linejoin="round"/><rect x="260.40" y="10.30" width="102.00" height="88.90" fill="none" stroke="#c6c6c6" stroke-width="1.35"/><text class="tk" x="264.30" y="103.80" font-size="4.50" text-anchor="middle">0</text><text class="tk" x="278.52" y="103.80" font-size="4.50" text-anchor="middle">2</text><text class="tk" x="292.74" y="103.80" font-size="4.50" text-anchor="middle">4</text><text class="tk" x="306.96" y="103.80" font-size="4.50" text-anchor="middle">6</text><text class="tk" x="321.18" y="103.80" font-size="4.50" text-anchor="middle">8</text><text class="tk" x="335.40" y="103.80" font-size="4.50" text-anchor="middle">10</text><text class="tk" x="349.62" y="103.80" font-size="4.50" text-anchor="middle">12</text><text class="tk" x="258.80" y="96.10" font-size="4.50" text-anchor="end">0.00</text><text class="tk" x="258.80" y="83.63" font-size="4.50" text-anchor="end">0.05</text><text class="tk" x="258.80" y="71.17" font-size="4.50" text-anchor="end">0.10</text><text class="tk" x="258.80" y="58.70" font-size="4.50" text-anchor="end">0.15</text><text class="tk" x="258.80" y="46.24" font-size="4.50" text-anchor="end">0.20</text><text class="tk" x="258.80" y="33.77" font-size="4.50" text-anchor="end">0.25</text><text class="tk" x="258.80" y="21.31" font-size="4.50" text-anchor="end">0.30</text><path d="M264.30 99.50v1.6M278.52 99.50v1.6M292.74 99.50v1.6M306.96 99.50v1.6M321.18 99.50v1.6M335.40 99.50v1.6M349.62 99.50v1.6M260.10 94.60h-1.6M260.10 82.13h-1.6M260.10 69.67h-1.6M260.10 57.20h-1.6M260.10 44.74h-1.6M260.10 32.27h-1.6M260.10 19.81h-1.6" stroke="#8a8a8a" stroke-width="0.55" fill="none"/><text class="ti" x="313.00" y="7.70" font-size="5.40" text-anchor="middle">(c)DE−Tha</text><text class="xl" x="311.40" y="108.90" font-size="4.80" text-anchor="middle">VPD(kPa)</text><text transform="translate(248.80 54.75) rotate(-90)" font-size="4.90" text-anchor="middle">T/ET</text></g><g><clipPath id="cd"><rect x="16.30" y="119.30" width="104.20" height="89.00"/></clipPath><text class="r2" x="112.90" y="198.70" font-size="4.25" text-anchor="end">R<tspan font-size="3.2" dy="-1.6">2</tspan><tspan dy="1.6"> = 0.23</tspan></text><g clip-path="url(#cd)" fill="#3266f4"><circle cx="38.4" cy="123.1" r="1.36"/><circle cx="61.5" cy="143.2" r="1.36"/><circle cx="67.6" cy="138.0" r="1.36"/><circle cx="54.4" cy="146.2" r="1.36"/><circle cx="56.0" cy="149.2" r="1.36"/><circle cx="57.4" cy="150.9" r="1.36"/><circle cx="66.6" cy="147.8" r="1.36"/><circle cx="54.7" cy="152.7" r="1.36"/><circle cx="34.3" cy="157.7" r="1.36"/><circle cx="48.6" cy="155.7" r="1.36"/><circle cx="50.3" cy="156.0" r="1.36"/><circle cx="53.6" cy="156.8" r="1.36"/><circle cx="54.4" cy="155.7" r="1.36"/><circle cx="64.2" cy="154.6" r="1.36"/><circle cx="67.6" cy="157.7" r="1.36"/><circle cx="64.9" cy="159.5" r="1.36"/><circle cx="46.5" cy="162.2" r="1.36"/><circle cx="49.2" cy="161.8" r="1.36"/><circle cx="56.7" cy="160.8" r="1.36"/><circle cx="54.7" cy="162.8" r="1.36"/><circle cx="61.5" cy="162.5" r="1.36"/><circle cx="63.5" cy="163.2" r="1.36"/><circle cx="66.9" cy="162.2" r="1.36"/><circle cx="34.3" cy="169.4" r="1.36"/><circle cx="35.7" cy="170.5" r="1.36"/><circle cx="39.1" cy="170.8" r="1.36"/><circle cx="41.1" cy="170.1" r="1.36"/><circle cx="35.7" cy="174.2" r="1.36"/><circle cx="38.4" cy="173.5" r="1.36"/><circle cx="40.4" cy="174.9" r="1.36"/><circle cx="45.2" cy="166.0" r="1.36"/><circle cx="46.5" cy="169.4" r="1.36"/><circle cx="48.6" cy="170.1" r="1.36"/><circle cx="54.0" cy="166.7" r="1.36"/><circle cx="55.4" cy="170.1" r="1.36"/><circle cx="53.3" cy="171.5" r="1.36"/><circle cx="58.8" cy="172.2" r="1.36"/><circle cx="61.5" cy="166.7" r="1.36"/><circle cx="64.2" cy="165.4" r="1.36"/><circle cx="66.2" cy="164.7" r="1.36"/><circle cx="60.1" cy="174.2" r="1.36"/><circle cx="62.8" cy="173.5" r="1.36"/><circle cx="65.6" cy="170.8" r="1.36"/><circle cx="28.2" cy="178.9" r="1.36"/><circle cx="30.2" cy="180.3" r="1.36"/><circle cx="34.3" cy="177.6" r="1.36"/><circle cx="37.0" cy="177.6" r="1.36"/><circle cx="39.7" cy="177.6" r="1.36"/><circle cx="35.0" cy="181.0" r="1.36"/><circle cx="40.4" cy="181.0" r="1.36"/><circle cx="46.5" cy="176.9" r="1.36"/><circle cx="48.6" cy="180.3" r="1.36"/><circle cx="51.3" cy="178.9" r="1.36"/><circle cx="54.0" cy="177.6" r="1.36"/><circle cx="57.4" cy="176.2" r="1.36"/><circle cx="58.8" cy="177.6" r="1.36"/><circle cx="61.5" cy="176.9" r="1.36"/><circle cx="30.9" cy="184.4" r="1.36"/><circle cx="32.9" cy="185.1" r="1.36"/><circle cx="29.5" cy="187.1" r="1.36"/><circle cx="31.6" cy="187.8" r="1.36"/><circle cx="33.6" cy="187.1" r="1.36"/><circle cx="35.7" cy="186.4" r="1.36"/><circle cx="34.3" cy="189.1" r="1.36"/><circle cx="37.0" cy="188.5" r="1.36"/><circle cx="41.8" cy="185.1" r="1.36"/><circle cx="44.5" cy="184.4" r="1.36"/><circle cx="43.8" cy="187.8" r="1.36"/><circle cx="42.5" cy="189.8" r="1.36"/><circle cx="49.9" cy="184.4" r="1.36"/><circle cx="50.6" cy="186.4" r="1.36"/><circle cx="53.3" cy="183.7" r="1.36"/><circle cx="56.0" cy="184.4" r="1.36"/><circle cx="55.4" cy="187.8" r="1.36"/><circle cx="58.8" cy="185.7" r="1.36"/><circle cx="61.5" cy="184.4" r="1.36"/><circle cx="63.5" cy="185.7" r="1.36"/><circle cx="64.9" cy="180.3" r="1.36"/><circle cx="65.6" cy="187.8" r="1.36"/><circle cx="60.1" cy="188.5" r="1.36"/><circle cx="28.2" cy="191.2" r="1.36"/><circle cx="30.9" cy="191.2" r="1.36"/><circle cx="32.9" cy="192.5" r="1.36"/><circle cx="35.0" cy="191.9" r="1.36"/><circle cx="37.0" cy="192.5" r="1.36"/><circle cx="39.7" cy="191.9" r="1.36"/><circle cx="31.6" cy="194.6" r="1.36"/><circle cx="33.6" cy="195.2" r="1.36"/><circle cx="35.7" cy="194.6" r="1.36"/><circle cx="30.2" cy="196.6" r="1.36"/><circle cx="32.9" cy="197.3" r="1.36"/><circle cx="35.0" cy="198.0" r="1.36"/><circle cx="37.7" cy="196.6" r="1.36"/><circle cx="39.7" cy="195.9" r="1.36"/><circle cx="41.8" cy="194.6" r="1.36"/><circle cx="43.8" cy="195.9" r="1.36"/><circle cx="45.9" cy="194.6" r="1.36"/><circle cx="48.6" cy="190.5" r="1.36"/><circle cx="54.0" cy="189.8" r="1.36"/><circle cx="55.4" cy="191.9" r="1.36"/><circle cx="58.1" cy="191.2" r="1.36"/><circle cx="60.1" cy="192.5" r="1.36"/><circle cx="64.2" cy="190.5" r="1.36"/><circle cx="31.6" cy="200.0" r="1.36"/><circle cx="33.6" cy="200.7" r="1.36"/><circle cx="36.3" cy="199.3" r="1.36"/><circle cx="39.7" cy="198.6" r="1.36"/><circle cx="41.1" cy="200.7" r="1.36"/><circle cx="43.1" cy="199.3" r="1.36"/><circle cx="43.8" cy="202.0" r="1.36"/><circle cx="52.0" cy="196.6" r="1.36"/><circle cx="54.7" cy="198.0" r="1.36"/><circle cx="56.0" cy="195.9" r="1.36"/><circle cx="62.8" cy="196.6" r="1.36"/><circle cx="64.9" cy="194.6" r="1.36"/><circle cx="64.9" cy="198.6" r="1.36"/><circle cx="30.2" cy="202.7" r="1.36"/><circle cx="32.3" cy="203.4" r="1.36"/><circle cx="42.5" cy="202.7" r="1.36"/><circle cx="62.8" cy="203.4" r="1.36"/><circle cx="66.2" cy="204.1" r="1.36"/><circle cx="68.7" cy="138.0" r="1.36"/><circle cx="70.0" cy="143.7" r="1.36"/><circle cx="72.8" cy="143.7" r="1.36"/><circle cx="71.4" cy="147.5" r="1.36"/><circle cx="72.1" cy="149.2" r="1.36"/><circle cx="80.0" cy="147.8" r="1.36"/><circle cx="94.9" cy="144.1" r="1.36"/><circle cx="102.6" cy="146.9" r="1.36"/><circle cx="68.7" cy="153.0" r="1.36"/><circle cx="70.7" cy="155.0" r="1.36"/><circle cx="74.1" cy="154.1" r="1.36"/><circle cx="75.5" cy="153.6" r="1.36"/><circle cx="76.8" cy="154.1" r="1.36"/><circle cx="73.4" cy="156.4" r="1.36"/><circle cx="82.9" cy="153.0" r="1.36"/><circle cx="84.3" cy="154.6" r="1.36"/><circle cx="85.7" cy="153.6" r="1.36"/><circle cx="87.7" cy="155.0" r="1.36"/><circle cx="89.7" cy="155.7" r="1.36"/><circle cx="85.0" cy="157.0" r="1.36"/><circle cx="90.4" cy="151.6" r="1.36"/><circle cx="95.9" cy="154.1" r="1.36"/><circle cx="95.9" cy="156.4" r="1.36"/><circle cx="102.0" cy="155.7" r="1.36"/><circle cx="80.9" cy="157.7" r="1.36"/><circle cx="86.3" cy="159.1" r="1.36"/><circle cx="87.0" cy="160.4" r="1.36"/><circle cx="93.1" cy="159.1" r="1.36"/><circle cx="100.6" cy="161.1" r="1.36"/><circle cx="102.6" cy="161.8" r="1.36"/><circle cx="105.4" cy="162.5" r="1.36"/><circle cx="80.2" cy="162.5" r="1.36"/><circle cx="68.7" cy="159.8" r="1.36"/><circle cx="70.0" cy="162.5" r="1.36"/><circle cx="76.2" cy="163.2" r="1.36"/><circle cx="91.8" cy="162.5" r="1.36"/><circle cx="70.0" cy="168.1" r="1.36"/><circle cx="74.1" cy="166.0" r="1.36"/><circle cx="75.5" cy="164.7" r="1.36"/><circle cx="77.5" cy="165.4" r="1.36"/><circle cx="74.8" cy="168.8" r="1.36"/><circle cx="76.2" cy="170.1" r="1.36"/><circle cx="80.2" cy="167.4" r="1.36"/><circle cx="81.6" cy="168.1" r="1.36"/><circle cx="88.4" cy="168.8" r="1.36"/><circle cx="93.1" cy="168.1" r="1.36"/><circle cx="99.2" cy="166.0" r="1.36"/><circle cx="100.6" cy="166.7" r="1.36"/><circle cx="104.0" cy="168.8" r="1.36"/><circle cx="69.4" cy="170.1" r="1.36"/><circle cx="70.0" cy="172.8" r="1.36"/><circle cx="72.1" cy="174.2" r="1.36"/><circle cx="74.1" cy="172.8" r="1.36"/><circle cx="74.8" cy="175.5" r="1.36"/><circle cx="86.3" cy="171.5" r="1.36"/><circle cx="87.0" cy="173.5" r="1.36"/><circle cx="85.7" cy="175.5" r="1.36"/><circle cx="93.8" cy="172.4" r="1.36"/><circle cx="115.6" cy="175.5" r="1.36"/><circle cx="69.4" cy="176.2" r="1.36"/><circle cx="71.4" cy="177.6" r="1.36"/><circle cx="77.5" cy="181.0" r="1.36"/><circle cx="79.5" cy="181.0" r="1.36"/><circle cx="86.3" cy="181.0" r="1.36"/><circle cx="90.4" cy="181.0" r="1.36"/><circle cx="91.8" cy="181.7" r="1.36"/><circle cx="70.7" cy="183.0" r="1.36"/><circle cx="72.1" cy="184.4" r="1.36"/><circle cx="70.0" cy="185.5" r="1.36"/><circle cx="94.5" cy="185.1" r="1.36"/><circle cx="99.9" cy="184.7" r="1.36"/><circle cx="103.1" cy="186.8" r="1.36"/><circle cx="76.8" cy="189.1" r="1.36"/><circle cx="81.6" cy="187.8" r="1.36"/><circle cx="82.9" cy="189.1" r="1.36"/><circle cx="70.7" cy="195.9" r="1.36"/><circle cx="85.4" cy="197.7" r="1.36"/><circle cx="89.7" cy="200.0" r="1.36"/><circle cx="91.8" cy="200.0" r="1.36"/><circle cx="95.9" cy="197.3" r="1.36"/><circle cx="101.3" cy="195.9" r="1.36"/><circle cx="79.5" cy="202.3" r="1.36"/><circle cx="102.0" cy="203.7" r="1.36"/><circle cx="68.7" cy="204.1" r="1.36"/></g><polyline clip-path="url(#cd)" points="20.20,203.20 20.33,202.91 20.48,202.53 20.66,202.10 20.86,201.60 21.08,201.07 21.31,200.51 21.56,199.93 21.82,199.34 22.08,198.76 22.36,198.21 22.63,197.68 22.90,197.20 23.17,196.75 23.45,196.31 23.74,195.89 24.03,195.47 24.32,195.06 24.63,194.65 24.95,194.25 25.27,193.86 25.61,193.46 25.96,193.07 26.32,192.69 26.70,192.30 27.09,191.91 27.48,191.53 27.89,191.15 28.30,190.77 28.73,190.40 29.16,190.03 29.61,189.67 30.08,189.30 30.56,188.95 31.05,188.59 31.57,188.24 32.10,187.90 32.65,187.56 33.23,187.22 33.82,186.89 34.43,186.57 35.06,186.24 35.69,185.92 36.34,185.61 37.00,185.30 37.67,184.99 38.34,184.69 39.02,184.39 39.70,184.10 40.38,183.81 41.08,183.54 41.78,183.27 42.49,183.01 43.20,182.75 43.92,182.50 44.66,182.25 45.39,181.99 46.14,181.73 46.89,181.46 47.64,181.19 48.40,180.90 49.17,180.60 49.94,180.30 50.73,180.00 51.52,179.69 52.32,179.37 53.12,179.05 53.93,178.73 54.74,178.40 55.55,178.08 56.37,177.75 57.18,177.43 58.00,177.10 58.77,176.78 59.48,176.46 60.14,176.15 60.78,175.84 61.42,175.53 62.09,175.21 62.81,174.89 63.60,174.56 64.49,174.22 65.51,173.86 66.67,173.49 68.00,173.10 69.52,172.69 71.22,172.27 73.07,171.83 75.04,171.37 77.11,170.91 79.26,170.44 81.45,169.96 83.66,169.47 85.87,168.98 88.04,168.49 90.16,167.99 92.20,167.50 94.26,166.98 96.43,166.43 98.68,165.85 100.96,165.25 103.23,164.65 105.46,164.05 107.61,163.47 109.63,162.93 111.49,162.43 113.15,161.98 114.57,161.60 115.70,161.30" fill="none" stroke="#f36a6e" stroke-width="1.2" stroke-linejoin="round"/><rect x="16.30" y="119.30" width="104.20" height="89.00" fill="none" stroke="#c6c6c6" stroke-width="1.35"/><text class="tk" x="20.90" y="212.90" font-size="4.50" text-anchor="middle">0.0</text><text class="tk" x="36.83" y="212.90" font-size="4.50" text-anchor="middle">2.5</text><text class="tk" x="52.75" y="212.90" font-size="4.50" text-anchor="middle">5.0</text><text class="tk" x="68.67" y="212.90" font-size="4.50" text-anchor="middle">7.5</text><text class="tk" x="84.60" y="212.90" font-size="4.50" text-anchor="middle">10.0</text><text class="tk" x="100.53" y="212.90" font-size="4.50" text-anchor="middle">12.5</text><text class="tk" x="116.45" y="212.90" font-size="4.50" text-anchor="middle">15.0</text><text class="tk" x="14.70" y="205.60" font-size="4.50" text-anchor="end">0.0</text><text class="tk" x="14.70" y="186.25" font-size="4.50" text-anchor="end">0.1</text><text class="tk" x="14.70" y="166.90" font-size="4.50" text-anchor="end">0.2</text><text class="tk" x="14.70" y="147.55" font-size="4.50" text-anchor="end">0.3</text><text class="tk" x="14.70" y="128.20" font-size="4.50" text-anchor="end">0.4</text><path d="M20.90 208.60v1.6M36.83 208.60v1.6M52.75 208.60v1.6M68.67 208.60v1.6M84.60 208.60v1.6M100.53 208.60v1.6M116.45 208.60v1.6M16.00 204.10h-1.6M16.00 184.75h-1.6M16.00 165.40h-1.6M16.00 146.05h-1.6M16.00 126.70h-1.6" stroke="#8a8a8a" stroke-width="0.55" fill="none"/><text class="ti" x="70.00" y="117.20" font-size="5.40" text-anchor="middle">(d)FR−LBr</text><text class="xl" x="68.40" y="218.22" font-size="4.80" text-anchor="middle">VPD(kPa)</text><text transform="translate(6.60 163.80) rotate(-90)" font-size="4.90" text-anchor="middle">T/ET</text></g><g><clipPath id="ce"><rect x="137.20" y="119.30" width="104.20" height="89.00"/></clipPath><text class="r2" x="233.80" y="200.20" font-size="4.25" text-anchor="end">R<tspan font-size="3.2" dy="-1.6">2</tspan><tspan dy="1.6"> = 0.19</tspan></text><g clip-path="url(#ce)" fill="#3266f4"><circle cx="170.2" cy="123.0" r="1.36"/><circle cx="170.2" cy="126.4" r="1.36"/><circle cx="170.0" cy="129.5" r="1.36"/><circle cx="176.5" cy="127.8" r="1.36"/><circle cx="163.9" cy="129.2" r="1.36"/><circle cx="159.8" cy="131.7" r="1.36"/><circle cx="162.9" cy="131.9" r="1.36"/><circle cx="163.9" cy="133.1" r="1.36"/><circle cx="176.1" cy="131.9" r="1.36"/><circle cx="166.3" cy="134.9" r="1.36"/><circle cx="168.3" cy="134.2" r="1.36"/><circle cx="170.0" cy="135.3" r="1.36"/><circle cx="171.7" cy="134.2" r="1.36"/><circle cx="173.7" cy="133.6" r="1.36"/><circle cx="175.4" cy="135.3" r="1.36"/><circle cx="167.6" cy="136.6" r="1.36"/><circle cx="169.3" cy="137.3" r="1.36"/><circle cx="162.9" cy="137.6" r="1.36"/><circle cx="165.6" cy="138.7" r="1.36"/><circle cx="168.6" cy="139.0" r="1.36"/><circle cx="171.0" cy="139.3" r="1.36"/><circle cx="173.7" cy="139.3" r="1.36"/><circle cx="175.1" cy="137.3" r="1.36"/><circle cx="164.2" cy="140.7" r="1.36"/><circle cx="166.6" cy="141.4" r="1.36"/><circle cx="169.0" cy="141.4" r="1.36"/><circle cx="160.8" cy="142.7" r="1.36"/><circle cx="163.5" cy="142.7" r="1.36"/><circle cx="165.6" cy="143.4" r="1.36"/><circle cx="168.0" cy="143.8" r="1.36"/><circle cx="170.7" cy="142.7" r="1.36"/><circle cx="173.1" cy="143.4" r="1.36"/><circle cx="176.1" cy="142.7" r="1.36"/><circle cx="158.1" cy="144.4" r="1.36"/><circle cx="162.2" cy="144.8" r="1.36"/><circle cx="164.6" cy="145.1" r="1.36"/><circle cx="170.0" cy="145.1" r="1.36"/><circle cx="172.4" cy="145.5" r="1.36"/><circle cx="175.1" cy="144.8" r="1.36"/><circle cx="183.5" cy="124.7" r="1.36"/><circle cx="182.1" cy="126.8" r="1.36"/><circle cx="193.6" cy="125.9" r="1.36"/><circle cx="177.3" cy="127.8" r="1.36"/><circle cx="179.7" cy="129.5" r="1.36"/><circle cx="188.5" cy="129.7" r="1.36"/><circle cx="183.8" cy="131.5" r="1.36"/><circle cx="185.8" cy="131.9" r="1.36"/><circle cx="191.6" cy="132.2" r="1.36"/><circle cx="194.7" cy="131.2" r="1.36"/><circle cx="197.0" cy="131.2" r="1.36"/><circle cx="200.1" cy="132.2" r="1.36"/><circle cx="179.7" cy="133.2" r="1.36"/><circle cx="183.1" cy="133.6" r="1.36"/><circle cx="187.2" cy="135.3" r="1.36"/><circle cx="189.6" cy="134.9" r="1.36"/><circle cx="191.6" cy="133.9" r="1.36"/><circle cx="195.0" cy="134.9" r="1.36"/><circle cx="197.4" cy="134.2" r="1.36"/><circle cx="200.8" cy="134.6" r="1.36"/><circle cx="178.4" cy="135.6" r="1.36"/><circle cx="181.1" cy="135.3" r="1.36"/><circle cx="180.1" cy="137.3" r="1.36"/><circle cx="185.2" cy="138.3" r="1.36"/><circle cx="191.9" cy="138.0" r="1.36"/><circle cx="195.3" cy="137.3" r="1.36"/><circle cx="198.7" cy="138.0" r="1.36"/><circle cx="200.8" cy="136.6" r="1.36"/><circle cx="177.7" cy="140.0" r="1.36"/><circle cx="181.1" cy="139.3" r="1.36"/><circle cx="183.8" cy="140.7" r="1.36"/><circle cx="188.5" cy="139.7" r="1.36"/><circle cx="188.9" cy="141.4" r="1.36"/><circle cx="191.9" cy="141.7" r="1.36"/><circle cx="197.4" cy="139.3" r="1.36"/><circle cx="199.4" cy="140.0" r="1.36"/><circle cx="177.7" cy="143.4" r="1.36"/><circle cx="180.1" cy="144.1" r="1.36"/><circle cx="183.1" cy="143.8" r="1.36"/><circle cx="185.8" cy="143.4" r="1.36"/><circle cx="201.5" cy="144.4" r="1.36"/><circle cx="162.2" cy="148.0" r="1.36"/><circle cx="164.9" cy="147.0" r="1.36"/><circle cx="169.0" cy="146.7" r="1.36"/><circle cx="171.4" cy="147.7" r="1.36"/><circle cx="175.1" cy="147.4" r="1.36"/><circle cx="158.5" cy="150.1" r="1.36"/><circle cx="161.9" cy="150.1" r="1.36"/><circle cx="164.6" cy="150.4" r="1.36"/><circle cx="169.3" cy="149.7" r="1.36"/><circle cx="160.5" cy="152.5" r="1.36"/><circle cx="163.5" cy="152.5" r="1.36"/><circle cx="170.3" cy="152.5" r="1.36"/><circle cx="172.4" cy="153.1" r="1.36"/><circle cx="175.1" cy="152.8" r="1.36"/><circle cx="161.9" cy="154.8" r="1.36"/><circle cx="165.6" cy="154.5" r="1.36"/><circle cx="167.3" cy="155.2" r="1.36"/><circle cx="176.1" cy="154.8" r="1.36"/><circle cx="154.0" cy="157.5" r="1.36"/><circle cx="162.2" cy="156.9" r="1.36"/><circle cx="164.6" cy="157.5" r="1.36"/><circle cx="166.3" cy="156.9" r="1.36"/><circle cx="158.1" cy="158.9" r="1.36"/><circle cx="165.6" cy="159.6" r="1.36"/><circle cx="171.0" cy="159.2" r="1.36"/><circle cx="157.1" cy="160.6" r="1.36"/><circle cx="156.1" cy="162.3" r="1.36"/><circle cx="163.2" cy="162.6" r="1.36"/><circle cx="167.6" cy="162.0" r="1.36"/><circle cx="166.3" cy="162.3" r="1.36"/><circle cx="162.2" cy="165.4" r="1.36"/><circle cx="164.6" cy="163.7" r="1.36"/><circle cx="171.4" cy="165.4" r="1.36"/><circle cx="174.1" cy="164.7" r="1.36"/><circle cx="161.5" cy="168.4" r="1.36"/><circle cx="164.6" cy="168.8" r="1.36"/><circle cx="172.4" cy="170.5" r="1.36"/><circle cx="175.8" cy="170.1" r="1.36"/><circle cx="178.4" cy="146.7" r="1.36"/><circle cx="181.1" cy="147.0" r="1.36"/><circle cx="183.8" cy="146.7" r="1.36"/><circle cx="185.8" cy="146.3" r="1.36"/><circle cx="177.7" cy="149.4" r="1.36"/><circle cx="179.7" cy="150.1" r="1.36"/><circle cx="182.4" cy="149.4" r="1.36"/><circle cx="177.3" cy="152.8" r="1.36"/><circle cx="178.4" cy="154.5" r="1.36"/><circle cx="188.5" cy="150.4" r="1.36"/><circle cx="192.3" cy="148.7" r="1.36"/><circle cx="194.7" cy="149.1" r="1.36"/><circle cx="197.4" cy="148.7" r="1.36"/><circle cx="199.1" cy="147.7" r="1.36"/><circle cx="191.3" cy="152.1" r="1.36"/><circle cx="193.0" cy="153.5" r="1.36"/><circle cx="185.2" cy="153.5" r="1.36"/><circle cx="198.4" cy="152.8" r="1.36"/><circle cx="200.8" cy="152.8" r="1.36"/><circle cx="181.8" cy="156.5" r="1.36"/><circle cx="183.5" cy="156.2" r="1.36"/><circle cx="188.5" cy="156.2" r="1.36"/><circle cx="190.6" cy="155.9" r="1.36"/><circle cx="193.6" cy="156.5" r="1.36"/><circle cx="196.7" cy="156.2" r="1.36"/><circle cx="177.3" cy="158.2" r="1.36"/><circle cx="185.8" cy="160.6" r="1.36"/><circle cx="198.4" cy="161.3" r="1.36"/><circle cx="178.0" cy="163.3" r="1.36"/><circle cx="181.8" cy="163.7" r="1.36"/><circle cx="185.5" cy="163.3" r="1.36"/><circle cx="189.2" cy="165.7" r="1.36"/><circle cx="180.4" cy="167.1" r="1.36"/><circle cx="195.0" cy="168.1" r="1.36"/><circle cx="180.7" cy="170.1" r="1.36"/><circle cx="163.3" cy="170.4" r="1.36"/><circle cx="167.0" cy="171.6" r="1.36"/><circle cx="171.4" cy="171.2" r="1.36"/><circle cx="175.5" cy="171.6" r="1.36"/><circle cx="161.3" cy="173.3" r="1.36"/><circle cx="164.5" cy="174.5" r="1.36"/><circle cx="169.8" cy="173.7" r="1.36"/><circle cx="173.9" cy="175.7" r="1.36"/><circle cx="156.4" cy="176.5" r="1.36"/><circle cx="160.0" cy="177.3" r="1.36"/><circle cx="163.3" cy="177.7" r="1.36"/><circle cx="164.9" cy="179.0" r="1.36"/><circle cx="167.4" cy="179.4" r="1.36"/><circle cx="169.8" cy="177.3" r="1.36"/><circle cx="172.3" cy="179.0" r="1.36"/><circle cx="175.1" cy="177.7" r="1.36"/><circle cx="158.4" cy="181.0" r="1.36"/><circle cx="161.3" cy="180.2" r="1.36"/><circle cx="163.7" cy="181.0" r="1.36"/><circle cx="166.6" cy="180.6" r="1.36"/><circle cx="169.0" cy="182.2" r="1.36"/><circle cx="171.4" cy="182.6" r="1.36"/><circle cx="173.9" cy="180.6" r="1.36"/><circle cx="159.2" cy="182.6" r="1.36"/><circle cx="156.0" cy="184.3" r="1.36"/><circle cx="160.9" cy="185.1" r="1.36"/><circle cx="163.7" cy="184.3" r="1.36"/><circle cx="166.6" cy="184.7" r="1.36"/><circle cx="169.8" cy="185.5" r="1.36"/><circle cx="173.1" cy="184.3" r="1.36"/><circle cx="175.9" cy="185.1" r="1.36"/><circle cx="158.0" cy="187.1" r="1.36"/><circle cx="160.0" cy="189.2" r="1.36"/><circle cx="165.7" cy="187.1" r="1.36"/><circle cx="167.8" cy="188.3" r="1.36"/><circle cx="171.4" cy="187.5" r="1.36"/><circle cx="173.9" cy="186.7" r="1.36"/><circle cx="163.3" cy="190.0" r="1.36"/><circle cx="166.6" cy="189.6" r="1.36"/><circle cx="154.7" cy="192.0" r="1.36"/><circle cx="163.3" cy="192.0" r="1.36"/><circle cx="167.4" cy="192.0" r="1.36"/><circle cx="169.8" cy="192.4" r="1.36"/><circle cx="174.7" cy="191.6" r="1.36"/><circle cx="163.7" cy="194.0" r="1.36"/><circle cx="167.4" cy="194.4" r="1.36"/><circle cx="156.8" cy="196.1" r="1.36"/><circle cx="160.0" cy="196.9" r="1.36"/><circle cx="162.5" cy="196.1" r="1.36"/><circle cx="164.5" cy="197.3" r="1.36"/><circle cx="166.6" cy="196.1" r="1.36"/><circle cx="169.4" cy="196.9" r="1.36"/><circle cx="172.3" cy="196.9" r="1.36"/><circle cx="174.7" cy="194.4" r="1.36"/><circle cx="176.3" cy="196.1" r="1.36"/><circle cx="157.2" cy="198.5" r="1.36"/><circle cx="160.0" cy="199.7" r="1.36"/><circle cx="162.5" cy="198.9" r="1.36"/><circle cx="165.3" cy="199.3" r="1.36"/><circle cx="167.0" cy="198.1" r="1.36"/><circle cx="160.9" cy="201.0" r="1.36"/><circle cx="170.6" cy="201.0" r="1.36"/><circle cx="172.3" cy="202.2" r="1.36"/><circle cx="173.9" cy="203.4" r="1.36"/><circle cx="175.9" cy="198.9" r="1.36"/><circle cx="180.7" cy="171.2" r="1.36"/><circle cx="179.0" cy="179.8" r="1.36"/><circle cx="192.1" cy="179.8" r="1.36"/><circle cx="177.7" cy="191.0" r="1.36"/><circle cx="184.7" cy="190.5" r="1.36"/><circle cx="187.4" cy="191.6" r="1.36"/><circle cx="180.1" cy="194.9" r="1.36"/><circle cx="181.1" cy="199.5" r="1.36"/><circle cx="177.8" cy="203.3" r="1.36"/><circle cx="209.2" cy="138.0" r="1.36"/><circle cx="209.6" cy="139.4" r="1.36"/><circle cx="214.1" cy="136.2" r="1.36"/><circle cx="202.7" cy="142.9" r="1.36"/><circle cx="203.8" cy="145.6" r="1.36"/><circle cx="207.6" cy="142.9" r="1.36"/><circle cx="210.9" cy="144.2" r="1.36"/><circle cx="217.9" cy="142.0" r="1.36"/><circle cx="210.9" cy="150.0" r="1.36"/><circle cx="212.2" cy="148.6" r="1.36"/><circle cx="203.8" cy="150.7" r="1.36"/><circle cx="219.3" cy="149.7" r="1.36"/><circle cx="217.9" cy="155.7" r="1.36"/><circle cx="193.5" cy="125.8" r="1.36"/><circle cx="154.0" cy="157.9" r="1.36"/><circle cx="156.4" cy="158.7" r="1.36"/><circle cx="158.1" cy="156.3" r="1.36"/></g><polyline clip-path="url(#ce)" points="141.40,202.20 141.53,201.81 141.68,201.32 141.85,200.76 142.05,200.12 142.26,199.43 142.49,198.69 142.74,197.92 143.00,197.13 143.26,196.33 143.54,195.54 143.82,194.75 144.10,194.00 144.39,193.25 144.69,192.48 145.00,191.69 145.31,190.88 145.64,190.07 145.98,189.25 146.33,188.43 146.69,187.62 147.05,186.81 147.43,186.02 147.81,185.25 148.20,184.50 148.60,183.77 149.01,183.04 149.43,182.33 149.85,181.62 150.29,180.92 150.73,180.23 151.18,179.55 151.65,178.88 152.12,178.22 152.60,177.57 153.10,176.93 153.60,176.30 154.12,175.68 154.65,175.08 155.20,174.49 155.76,173.90 156.33,173.33 156.91,172.77 157.50,172.21 158.08,171.66 158.67,171.12 159.25,170.58 159.83,170.04 160.40,169.50 160.96,168.97 161.52,168.44 162.07,167.93 162.61,167.42 163.16,166.91 163.71,166.41 164.27,165.91 164.83,165.41 165.40,164.92 165.99,164.41 166.58,163.91 167.20,163.40 167.83,162.88 168.49,162.36 169.15,161.84 169.83,161.31 170.52,160.78 171.21,160.26 171.91,159.73 172.61,159.21 173.32,158.70 174.02,158.19 174.71,157.69 175.40,157.20 176.09,156.72 176.79,156.23 177.49,155.75 178.20,155.28 178.91,154.81 179.61,154.34 180.31,153.89 181.00,153.44 181.68,153.01 182.34,152.59 182.98,152.19 183.60,151.80 184.18,151.44 184.72,151.12 185.23,150.83 185.71,150.56 186.19,150.29 186.66,150.04 187.13,149.78 187.63,149.50 188.15,149.20 188.72,148.88 189.33,148.51 190.00,148.10 190.72,147.65 191.45,147.17 192.22,146.66 193.01,146.13 193.83,145.57 194.68,145.00 195.56,144.41 196.48,143.81 197.43,143.19 198.41,142.57 199.44,141.94 200.50,141.30 201.60,140.65 202.73,139.99 203.90,139.31 205.10,138.62 206.33,137.92 207.60,137.21 208.91,136.48 210.25,135.76 211.63,135.02 213.05,134.28 214.50,133.54 216.00,132.80 217.62,132.02 219.41,131.19 221.34,130.31 223.34,129.41 225.38,128.51 227.42,127.62 229.40,126.76 231.28,125.94 233.02,125.19 234.56,124.52 235.87,123.95 236.90,123.50" fill="none" stroke="#f36a6e" stroke-width="1.2" stroke-linejoin="round"/><rect x="137.20" y="119.30" width="104.20" height="89.00" fill="none" stroke="#c6c6c6" stroke-width="1.35"/><text class="tk" x="141.40" y="212.90" font-size="4.50" text-anchor="middle">0</text><text class="tk" x="160.56" y="212.90" font-size="4.50" text-anchor="middle">2</text><text class="tk" x="179.72" y="212.90" font-size="4.50" text-anchor="middle">4</text><text class="tk" x="198.88" y="212.90" font-size="4.50" text-anchor="middle">6</text><text class="tk" x="218.04" y="212.90" font-size="4.50" text-anchor="middle">8</text><text class="tk" x="237.20" y="212.90" font-size="4.50" text-anchor="middle">10</text><text class="tk" x="135.60" y="205.30" font-size="4.50" text-anchor="end">0.0</text><text class="tk" x="135.60" y="191.72" font-size="4.50" text-anchor="end">0.1</text><text class="tk" x="135.60" y="178.14" font-size="4.50" text-anchor="end">0.2</text><text class="tk" x="135.60" y="164.56" font-size="4.50" text-anchor="end">0.3</text><text class="tk" x="135.60" y="150.98" font-size="4.50" text-anchor="end">0.4</text><text class="tk" x="135.60" y="137.40" font-size="4.50" text-anchor="end">0.5</text><text class="tk" x="135.60" y="123.82" font-size="4.50" text-anchor="end">0.6</text><path d="M141.40 208.60v1.6M160.56 208.60v1.6M179.72 208.60v1.6M198.88 208.60v1.6M218.04 208.60v1.6M237.20 208.60v1.6M136.90 203.80h-1.6M136.90 190.22h-1.6M136.90 176.64h-1.6M136.90 163.06h-1.6M136.90 149.48h-1.6M136.90 135.90h-1.6M136.90 122.32h-1.6" stroke="#8a8a8a" stroke-width="0.55" fill="none"/><text class="ti" x="190.90" y="117.20" font-size="5.40" text-anchor="middle">(e)IT−Lav</text><text class="xl" x="189.30" y="218.22" font-size="4.80" text-anchor="middle">VPD(kPa)</text><text transform="translate(127.50 163.80) rotate(-90)" font-size="4.90" text-anchor="middle">T/ET</text></g><g><clipPath id="cf"><rect x="258.50" y="119.30" width="103.90" height="89.00"/></clipPath><text class="r2" x="358.90" y="201.30" font-size="4.25" text-anchor="end">R<tspan font-size="3.2" dy="-1.6">2</tspan><tspan dy="1.6"> = 0.42</tspan></text><g clip-path="url(#cf)" fill="#3266f4"><circle cx="266.1" cy="123.1" r="1.36"/><circle cx="299.7" cy="145.1" r="1.36"/><circle cx="300.8" cy="151.9" r="1.36"/><circle cx="299.1" cy="155.0" r="1.36"/><circle cx="306.9" cy="150.0" r="1.36"/><circle cx="308.9" cy="148.2" r="1.36"/><circle cx="309.6" cy="151.6" r="1.36"/><circle cx="302.8" cy="157.7" r="1.36"/><circle cx="304.8" cy="158.4" r="1.36"/><circle cx="306.9" cy="156.4" r="1.36"/><circle cx="308.2" cy="159.1" r="1.36"/><circle cx="306.2" cy="160.4" r="1.36"/><circle cx="302.1" cy="162.5" r="1.36"/><circle cx="304.2" cy="163.2" r="1.36"/><circle cx="292.6" cy="162.2" r="1.36"/><circle cx="274.9" cy="163.2" r="1.36"/><circle cx="309.6" cy="155.0" r="1.36"/><circle cx="347.0" cy="133.3" r="1.36"/><circle cx="349.4" cy="135.0" r="1.36"/><circle cx="344.6" cy="139.4" r="1.36"/><circle cx="346.7" cy="141.4" r="1.36"/><circle cx="348.0" cy="142.8" r="1.36"/><circle cx="350.8" cy="143.5" r="1.36"/><circle cx="352.8" cy="145.5" r="1.36"/><circle cx="354.8" cy="139.4" r="1.36"/><circle cx="352.1" cy="155.0" r="1.36"/><circle cx="355.5" cy="153.6" r="1.36"/><circle cx="346.4" cy="152.7" r="1.36"/><circle cx="322.9" cy="140.5" r="1.36"/><circle cx="324.3" cy="140.5" r="1.36"/><circle cx="328.3" cy="139.1" r="1.36"/><circle cx="329.0" cy="141.0" r="1.36"/><circle cx="332.4" cy="140.1" r="1.36"/><circle cx="333.8" cy="142.1" r="1.36"/><circle cx="330.4" cy="144.1" r="1.36"/><circle cx="327.0" cy="144.8" r="1.36"/><circle cx="325.6" cy="146.9" r="1.36"/><circle cx="323.6" cy="148.2" r="1.36"/><circle cx="321.5" cy="146.9" r="1.36"/><circle cx="319.5" cy="145.5" r="1.36"/><circle cx="318.2" cy="142.8" r="1.36"/><circle cx="316.1" cy="146.2" r="1.36"/><circle cx="314.1" cy="147.5" r="1.36"/><circle cx="312.0" cy="149.6" r="1.36"/><circle cx="310.7" cy="148.2" r="1.36"/><circle cx="312.7" cy="151.6" r="1.36"/><circle cx="315.4" cy="150.9" r="1.36"/><circle cx="317.5" cy="150.2" r="1.36"/><circle cx="318.8" cy="152.3" r="1.36"/><circle cx="320.2" cy="153.6" r="1.36"/><circle cx="322.2" cy="151.6" r="1.36"/><circle cx="324.9" cy="150.9" r="1.36"/><circle cx="327.7" cy="149.6" r="1.36"/><circle cx="329.7" cy="148.2" r="1.36"/><circle cx="331.7" cy="147.5" r="1.36"/><circle cx="333.8" cy="148.9" r="1.36"/><circle cx="335.8" cy="148.2" r="1.36"/><circle cx="337.2" cy="145.5" r="1.36"/><circle cx="339.2" cy="144.1" r="1.36"/><circle cx="341.2" cy="143.5" r="1.36"/><circle cx="342.6" cy="143.2" r="1.36"/><circle cx="344.0" cy="145.5" r="1.36"/><circle cx="344.6" cy="147.5" r="1.36"/><circle cx="340.6" cy="146.9" r="1.36"/><circle cx="336.5" cy="150.2" r="1.36"/><circle cx="330.4" cy="151.6" r="1.36"/><circle cx="332.4" cy="153.0" r="1.36"/><circle cx="329.0" cy="154.3" r="1.36"/><circle cx="326.3" cy="155.0" r="1.36"/><circle cx="323.6" cy="155.7" r="1.36"/><circle cx="320.9" cy="156.4" r="1.36"/><circle cx="318.2" cy="157.0" r="1.36"/><circle cx="315.4" cy="155.7" r="1.36"/><circle cx="313.4" cy="157.7" r="1.36"/><circle cx="311.4" cy="159.1" r="1.36"/><circle cx="310.7" cy="155.0" r="1.36"/><circle cx="314.1" cy="159.8" r="1.36"/><circle cx="316.8" cy="160.4" r="1.36"/><circle cx="319.5" cy="159.8" r="1.36"/><circle cx="316.1" cy="162.5" r="1.36"/><circle cx="322.2" cy="162.5" r="1.36"/><circle cx="327.0" cy="162.5" r="1.36"/><circle cx="311.4" cy="162.5" r="1.36"/><circle cx="312.0" cy="164.7" r="1.36"/><circle cx="311.4" cy="167.4" r="1.36"/><circle cx="312.7" cy="169.7" r="1.36"/><circle cx="312.0" cy="172.8" r="1.36"/><circle cx="317.5" cy="166.7" r="1.36"/><circle cx="320.2" cy="168.8" r="1.36"/><circle cx="321.5" cy="169.7" r="1.36"/><circle cx="323.6" cy="168.1" r="1.36"/><circle cx="325.6" cy="166.7" r="1.36"/><circle cx="331.7" cy="167.8" r="1.36"/><circle cx="318.8" cy="174.2" r="1.36"/><circle cx="321.5" cy="174.6" r="1.36"/><circle cx="342.6" cy="171.9" r="1.36"/><circle cx="316.1" cy="176.9" r="1.36"/><circle cx="319.5" cy="178.3" r="1.36"/><circle cx="318.2" cy="179.6" r="1.36"/><circle cx="315.4" cy="180.3" r="1.36"/><circle cx="317.5" cy="181.7" r="1.36"/><circle cx="316.8" cy="183.7" r="1.36"/><circle cx="316.8" cy="185.1" r="1.36"/><circle cx="316.1" cy="186.4" r="1.36"/><circle cx="312.7" cy="189.1" r="1.36"/><circle cx="312.7" cy="190.5" r="1.36"/><circle cx="324.3" cy="184.1" r="1.36"/><circle cx="336.1" cy="182.3" r="1.36"/><circle cx="333.8" cy="192.5" r="1.36"/><circle cx="336.5" cy="195.5" r="1.36"/><circle cx="315.2" cy="201.0" r="1.36"/><circle cx="277.7" cy="172.0" r="1.36"/><circle cx="267.5" cy="175.6" r="1.36"/><circle cx="266.1" cy="181.5" r="1.36"/><circle cx="276.3" cy="183.8" r="1.36"/><circle cx="283.1" cy="172.9" r="1.36"/><circle cx="287.9" cy="169.5" r="1.36"/><circle cx="285.8" cy="174.9" r="1.36"/><circle cx="289.9" cy="172.2" r="1.36"/><circle cx="294.0" cy="165.4" r="1.36"/><circle cx="296.7" cy="166.8" r="1.36"/><circle cx="305.5" cy="166.1" r="1.36"/><circle cx="295.3" cy="170.2" r="1.36"/><circle cx="299.4" cy="170.9" r="1.36"/><circle cx="302.1" cy="169.5" r="1.36"/><circle cx="307.6" cy="173.6" r="1.36"/><circle cx="289.2" cy="177.0" r="1.36"/><circle cx="287.2" cy="180.4" r="1.36"/><circle cx="291.2" cy="179.0" r="1.36"/><circle cx="294.6" cy="176.3" r="1.36"/><circle cx="297.4" cy="175.6" r="1.36"/><circle cx="300.8" cy="176.3" r="1.36"/><circle cx="307.6" cy="177.7" r="1.36"/><circle cx="283.8" cy="179.0" r="1.36"/><circle cx="285.8" cy="184.5" r="1.36"/><circle cx="289.2" cy="183.8" r="1.36"/><circle cx="291.2" cy="187.2" r="1.36"/><circle cx="293.3" cy="188.5" r="1.36"/><circle cx="285.1" cy="191.9" r="1.36"/><circle cx="288.5" cy="190.6" r="1.36"/><circle cx="281.7" cy="194.0" r="1.36"/><circle cx="292.6" cy="191.2" r="1.36"/><circle cx="300.8" cy="185.1" r="1.36"/><circle cx="303.5" cy="188.5" r="1.36"/><circle cx="302.1" cy="191.9" r="1.36"/><circle cx="307.6" cy="194.0" r="1.36"/><circle cx="272.9" cy="198.7" r="1.36"/><circle cx="273.6" cy="203.5" r="1.36"/><circle cx="278.3" cy="199.4" r="1.36"/><circle cx="280.4" cy="200.8" r="1.36"/><circle cx="282.4" cy="198.0" r="1.36"/><circle cx="283.8" cy="200.8" r="1.36"/><circle cx="281.7" cy="202.1" r="1.36"/><circle cx="285.1" cy="199.4" r="1.36"/><circle cx="287.2" cy="201.4" r="1.36"/><circle cx="289.2" cy="202.1" r="1.36"/><circle cx="290.6" cy="199.4" r="1.36"/><circle cx="292.6" cy="200.8" r="1.36"/><circle cx="294.0" cy="198.7" r="1.36"/><circle cx="296.0" cy="201.4" r="1.36"/><circle cx="298.0" cy="198.0" r="1.36"/><circle cx="300.8" cy="200.1" r="1.36"/><circle cx="303.5" cy="196.7" r="1.36"/><circle cx="304.8" cy="199.4" r="1.36"/><circle cx="288.5" cy="203.5" r="1.36"/><circle cx="291.2" cy="204.2" r="1.36"/><circle cx="297.4" cy="203.5" r="1.36"/><circle cx="294.0" cy="203.5" r="1.36"/><circle cx="306.2" cy="165.4" r="1.36"/><circle cx="308.9" cy="168.2" r="1.36"/></g><polyline clip-path="url(#cf)" points="262.70,203.80 263.09,203.46 263.58,203.03 264.14,202.53 264.78,201.97 265.47,201.37 266.21,200.72 266.98,200.05 267.77,199.36 268.57,198.67 269.36,197.99 270.15,197.33 270.90,196.70 271.65,196.09 272.41,195.48 273.18,194.87 273.97,194.25 274.77,193.63 275.57,193.01 276.38,192.39 277.19,191.76 277.99,191.13 278.80,190.49 279.60,189.85 280.40,189.20 281.19,188.54 281.97,187.88 282.74,187.20 283.51,186.52 284.29,185.84 285.06,185.15 285.84,184.46 286.63,183.78 287.43,183.10 288.24,182.42 289.06,181.76 289.90,181.10 290.76,180.45 291.66,179.80 292.57,179.15 293.49,178.50 294.43,177.86 295.37,177.22 296.31,176.60 297.24,175.97 298.16,175.36 299.07,174.76 299.95,174.17 300.80,173.60 301.59,173.06 302.31,172.58 302.98,172.14 303.61,171.72 304.24,171.31 304.87,170.89 305.53,170.46 306.24,169.99 307.02,169.48 307.90,168.90 308.88,168.25 310.00,167.50 311.23,166.67 312.54,165.78 313.91,164.84 315.37,163.84 316.89,162.80 318.48,161.71 320.14,160.58 321.87,159.41 323.66,158.22 325.51,157.00 327.43,155.76 329.40,154.50 331.56,153.15 333.98,151.65 336.59,150.05 339.34,148.38 342.15,146.68 344.96,144.99 347.71,143.34 350.31,141.77 352.72,140.33 354.87,139.04 356.68,137.95 358.10,137.10" fill="none" stroke="#f36a6e" stroke-width="1.2" stroke-linejoin="round"/><rect x="258.50" y="119.30" width="103.90" height="89.00" fill="none" stroke="#c6c6c6" stroke-width="1.35"/><text class="tk" x="263.40" y="212.90" font-size="4.50" text-anchor="middle">0</text><text class="tk" x="277.84" y="212.90" font-size="4.50" text-anchor="middle">2</text><text class="tk" x="292.28" y="212.90" font-size="4.50" text-anchor="middle">4</text><text class="tk" x="306.72" y="212.90" font-size="4.50" text-anchor="middle">6</text><text class="tk" x="321.16" y="212.90" font-size="4.50" text-anchor="middle">8</text><text class="tk" x="335.60" y="212.90" font-size="4.50" text-anchor="middle">10</text><text class="tk" x="350.04" y="212.90" font-size="4.50" text-anchor="middle">12</text><text class="tk" x="256.90" y="205.60" font-size="4.50" text-anchor="end">0.0</text><text class="tk" x="256.90" y="195.38" font-size="4.50" text-anchor="end">0.1</text><text class="tk" x="256.90" y="185.15" font-size="4.50" text-anchor="end">0.2</text><text class="tk" x="256.90" y="174.93" font-size="4.50" text-anchor="end">0.3</text><text class="tk" x="256.90" y="164.70" font-size="4.50" text-anchor="end">0.4</text><text class="tk" x="256.90" y="154.47" font-size="4.50" text-anchor="end">0.5</text><text class="tk" x="256.90" y="144.25" font-size="4.50" text-anchor="end">0.6</text><text class="tk" x="256.90" y="134.03" font-size="4.50" text-anchor="end">0.7</text><text class="tk" x="256.90" y="123.80" font-size="4.50" text-anchor="end">0.8</text><path d="M263.40 208.60v1.6M277.84 208.60v1.6M292.28 208.60v1.6M306.72 208.60v1.6M321.16 208.60v1.6M335.60 208.60v1.6M350.04 208.60v1.6M258.20 204.10h-1.6M258.20 193.88h-1.6M258.20 183.65h-1.6M258.20 173.43h-1.6M258.20 163.20h-1.6M258.20 152.97h-1.6M258.20 142.75h-1.6M258.20 132.53h-1.6M258.20 122.30h-1.6" stroke="#8a8a8a" stroke-width="0.55" fill="none"/><text class="ti" x="312.05" y="117.20" font-size="5.40" text-anchor="middle">(f)IT−SR2</text><text class="xl" x="310.45" y="218.22" font-size="4.80" text-anchor="middle">VPD(kPa)</text><text transform="translate(248.80 163.80) rotate(-90)" font-size="4.90" text-anchor="middle">T/ET</text></g><g><clipPath id="cg"><rect x="16.30" y="228.40" width="104.20" height="88.90"/></clipPath><text class="r2" x="116.90" y="309.20" font-size="4.25" text-anchor="end">R<tspan font-size="3.2" dy="-1.6">2</tspan><tspan dy="1.6"> = 0.30</tspan></text><g clip-path="url(#cg)" fill="#3266f4"><circle cx="66.2" cy="238.2" r="1.36"/><circle cx="67.6" cy="240.2" r="1.36"/><circle cx="53.6" cy="241.9" r="1.36"/><circle cx="60.8" cy="241.6" r="1.36"/><circle cx="62.8" cy="244.3" r="1.36"/><circle cx="65.6" cy="245.0" r="1.36"/><circle cx="67.6" cy="247.0" r="1.36"/><circle cx="54.7" cy="248.4" r="1.36"/><circle cx="52.6" cy="249.7" r="1.36"/><circle cx="64.2" cy="248.4" r="1.36"/><circle cx="66.9" cy="250.4" r="1.36"/><circle cx="45.2" cy="250.8" r="1.36"/><circle cx="49.2" cy="250.8" r="1.36"/><circle cx="56.0" cy="252.5" r="1.36"/><circle cx="58.8" cy="255.2" r="1.36"/><circle cx="63.5" cy="252.5" r="1.36"/><circle cx="66.2" cy="253.1" r="1.36"/><circle cx="41.1" cy="257.2" r="1.36"/><circle cx="47.2" cy="255.9" r="1.36"/><circle cx="49.9" cy="256.5" r="1.36"/><circle cx="52.0" cy="255.2" r="1.36"/><circle cx="53.3" cy="253.8" r="1.36"/><circle cx="62.8" cy="255.9" r="1.36"/><circle cx="64.9" cy="257.9" r="1.36"/><circle cx="67.6" cy="256.5" r="1.36"/><circle cx="46.5" cy="259.2" r="1.36"/><circle cx="50.6" cy="259.9" r="1.36"/><circle cx="52.6" cy="261.3" r="1.36"/><circle cx="54.7" cy="260.6" r="1.36"/><circle cx="60.8" cy="258.6" r="1.36"/><circle cx="50.6" cy="263.3" r="1.36"/><circle cx="53.3" cy="263.6" r="1.36"/><circle cx="47.2" cy="263.6" r="1.36"/><circle cx="44.5" cy="264.7" r="1.36"/><circle cx="54.0" cy="266.0" r="1.36"/><circle cx="55.4" cy="266.7" r="1.36"/><circle cx="63.5" cy="263.3" r="1.36"/><circle cx="64.9" cy="264.7" r="1.36"/><circle cx="66.2" cy="267.4" r="1.36"/><circle cx="39.7" cy="271.8" r="1.36"/><circle cx="43.8" cy="271.5" r="1.36"/><circle cx="47.2" cy="271.5" r="1.36"/><circle cx="51.3" cy="271.2" r="1.36"/><circle cx="56.0" cy="271.2" r="1.36"/><circle cx="66.2" cy="269.4" r="1.36"/><circle cx="66.9" cy="272.2" r="1.36"/><circle cx="39.7" cy="273.7" r="1.36"/><circle cx="44.5" cy="275.0" r="1.36"/><circle cx="47.2" cy="274.4" r="1.36"/><circle cx="49.9" cy="273.7" r="1.36"/><circle cx="53.3" cy="275.0" r="1.36"/><circle cx="57.4" cy="276.4" r="1.36"/><circle cx="43.1" cy="277.8" r="1.36"/><circle cx="46.5" cy="277.1" r="1.36"/><circle cx="49.9" cy="277.8" r="1.36"/><circle cx="45.2" cy="280.5" r="1.36"/><circle cx="47.2" cy="281.8" r="1.36"/><circle cx="43.8" cy="283.9" r="1.36"/><circle cx="45.9" cy="285.2" r="1.36"/><circle cx="40.4" cy="286.6" r="1.36"/><circle cx="58.8" cy="282.5" r="1.36"/><circle cx="64.2" cy="280.5" r="1.36"/><circle cx="66.9" cy="283.2" r="1.36"/><circle cx="65.6" cy="286.6" r="1.36"/><circle cx="61.5" cy="290.7" r="1.36"/><circle cx="63.5" cy="288.6" r="1.36"/><circle cx="45.9" cy="287.9" r="1.36"/><circle cx="47.9" cy="289.3" r="1.36"/><circle cx="50.6" cy="290.0" r="1.36"/><circle cx="49.9" cy="292.0" r="1.36"/><circle cx="43.8" cy="291.3" r="1.36"/><circle cx="41.8" cy="293.4" r="1.36"/><circle cx="45.2" cy="294.7" r="1.36"/><circle cx="47.2" cy="293.4" r="1.36"/><circle cx="54.7" cy="293.4" r="1.36"/><circle cx="57.4" cy="294.7" r="1.36"/><circle cx="52.0" cy="296.1" r="1.36"/><circle cx="66.2" cy="295.4" r="1.36"/><circle cx="66.9" cy="298.1" r="1.36"/><circle cx="43.1" cy="296.8" r="1.36"/><circle cx="41.1" cy="299.5" r="1.36"/><circle cx="44.5" cy="298.1" r="1.36"/><circle cx="46.5" cy="300.2" r="1.36"/><circle cx="49.2" cy="299.5" r="1.36"/><circle cx="55.4" cy="300.9" r="1.36"/><circle cx="37.7" cy="301.5" r="1.36"/><circle cx="39.7" cy="302.9" r="1.36"/><circle cx="43.1" cy="302.2" r="1.36"/><circle cx="45.2" cy="303.6" r="1.36"/><circle cx="66.2" cy="301.5" r="1.36"/><circle cx="64.2" cy="304.9" r="1.36"/><circle cx="35.0" cy="306.3" r="1.36"/><circle cx="37.7" cy="305.6" r="1.36"/><circle cx="40.4" cy="304.9" r="1.36"/><circle cx="42.5" cy="307.0" r="1.36"/><circle cx="45.2" cy="306.3" r="1.36"/><circle cx="47.2" cy="305.6" r="1.36"/><circle cx="53.3" cy="304.9" r="1.36"/><circle cx="56.0" cy="305.6" r="1.36"/><circle cx="32.9" cy="309.0" r="1.36"/><circle cx="35.7" cy="308.3" r="1.36"/><circle cx="38.4" cy="309.0" r="1.36"/><circle cx="41.1" cy="309.7" r="1.36"/><circle cx="43.8" cy="309.0" r="1.36"/><circle cx="46.5" cy="309.7" r="1.36"/><circle cx="54.0" cy="308.3" r="1.36"/><circle cx="57.4" cy="309.7" r="1.36"/><circle cx="61.5" cy="307.6" r="1.36"/><circle cx="65.6" cy="305.6" r="1.36"/><circle cx="37.0" cy="311.7" r="1.36"/><circle cx="39.7" cy="312.4" r="1.36"/><circle cx="42.5" cy="311.0" r="1.36"/><circle cx="45.2" cy="312.4" r="1.36"/><circle cx="47.2" cy="311.0" r="1.36"/><circle cx="53.3" cy="311.7" r="1.36"/><circle cx="40.4" cy="314.4" r="1.36"/><circle cx="43.8" cy="313.8" r="1.36"/><circle cx="71.0" cy="233.7" r="1.36"/><circle cx="85.4" cy="232.1" r="1.36"/><circle cx="79.5" cy="236.2" r="1.36"/><circle cx="80.9" cy="236.8" r="1.36"/><circle cx="89.7" cy="237.5" r="1.36"/><circle cx="68.7" cy="240.9" r="1.36"/><circle cx="73.4" cy="240.9" r="1.36"/><circle cx="77.5" cy="240.9" r="1.36"/><circle cx="80.2" cy="239.5" r="1.36"/><circle cx="82.3" cy="241.6" r="1.36"/><circle cx="84.3" cy="240.9" r="1.36"/><circle cx="86.3" cy="242.3" r="1.36"/><circle cx="70.0" cy="244.3" r="1.36"/><circle cx="73.4" cy="245.7" r="1.36"/><circle cx="76.2" cy="246.3" r="1.36"/><circle cx="78.2" cy="247.0" r="1.36"/><circle cx="81.6" cy="247.7" r="1.36"/><circle cx="84.3" cy="246.3" r="1.36"/><circle cx="89.1" cy="245.0" r="1.36"/><circle cx="91.8" cy="245.7" r="1.36"/><circle cx="93.1" cy="247.0" r="1.36"/><circle cx="97.9" cy="246.3" r="1.36"/><circle cx="103.3" cy="248.7" r="1.36"/><circle cx="68.7" cy="248.4" r="1.36"/><circle cx="70.7" cy="249.7" r="1.36"/><circle cx="74.1" cy="249.1" r="1.36"/><circle cx="76.8" cy="248.4" r="1.36"/><circle cx="82.3" cy="249.7" r="1.36"/><circle cx="85.7" cy="252.5" r="1.36"/><circle cx="93.8" cy="252.5" r="1.36"/><circle cx="97.2" cy="251.1" r="1.36"/><circle cx="73.4" cy="253.8" r="1.36"/><circle cx="76.8" cy="253.8" r="1.36"/><circle cx="81.6" cy="255.2" r="1.36"/><circle cx="88.4" cy="255.2" r="1.36"/><circle cx="90.4" cy="255.9" r="1.36"/><circle cx="82.3" cy="257.2" r="1.36"/><circle cx="85.0" cy="258.6" r="1.36"/><circle cx="87.7" cy="257.9" r="1.36"/><circle cx="91.1" cy="257.9" r="1.36"/><circle cx="100.6" cy="257.2" r="1.36"/><circle cx="104.7" cy="255.9" r="1.36"/><circle cx="106.7" cy="258.2" r="1.36"/><circle cx="95.9" cy="259.2" r="1.36"/><circle cx="74.8" cy="262.0" r="1.36"/><circle cx="81.6" cy="261.3" r="1.36"/><circle cx="84.3" cy="260.6" r="1.36"/><circle cx="87.0" cy="259.9" r="1.36"/><circle cx="89.7" cy="263.3" r="1.36"/><circle cx="96.5" cy="263.3" r="1.36"/><circle cx="99.9" cy="263.3" r="1.36"/><circle cx="95.2" cy="265.4" r="1.36"/><circle cx="81.6" cy="266.0" r="1.36"/><circle cx="86.3" cy="267.4" r="1.36"/><circle cx="95.9" cy="268.1" r="1.36"/><circle cx="102.6" cy="268.8" r="1.36"/><circle cx="76.2" cy="271.8" r="1.36"/><circle cx="78.9" cy="271.5" r="1.36"/><circle cx="84.3" cy="270.8" r="1.36"/><circle cx="88.4" cy="271.2" r="1.36"/><circle cx="91.1" cy="272.2" r="1.36"/><circle cx="106.0" cy="271.5" r="1.36"/><circle cx="72.8" cy="275.0" r="1.36"/><circle cx="75.5" cy="274.4" r="1.36"/><circle cx="80.2" cy="274.4" r="1.36"/><circle cx="80.9" cy="275.7" r="1.36"/><circle cx="85.0" cy="273.7" r="1.36"/><circle cx="91.1" cy="275.7" r="1.36"/><circle cx="93.1" cy="275.0" r="1.36"/><circle cx="92.5" cy="277.8" r="1.36"/><circle cx="98.6" cy="278.2" r="1.36"/><circle cx="103.6" cy="275.7" r="1.36"/><circle cx="71.4" cy="281.4" r="1.36"/><circle cx="74.8" cy="280.5" r="1.36"/><circle cx="79.5" cy="279.1" r="1.36"/><circle cx="80.9" cy="280.5" r="1.36"/><circle cx="85.0" cy="280.1" r="1.36"/><circle cx="92.2" cy="281.4" r="1.36"/><circle cx="68.7" cy="283.2" r="1.36"/><circle cx="76.8" cy="283.2" r="1.36"/><circle cx="78.2" cy="285.2" r="1.36"/><circle cx="80.2" cy="285.9" r="1.36"/><circle cx="82.3" cy="287.3" r="1.36"/><circle cx="74.8" cy="287.3" r="1.36"/><circle cx="91.1" cy="285.5" r="1.36"/><circle cx="85.7" cy="290.0" r="1.36"/><circle cx="103.3" cy="292.0" r="1.36"/><circle cx="80.2" cy="296.8" r="1.36"/><circle cx="76.8" cy="299.1" r="1.36"/><circle cx="88.7" cy="302.9" r="1.36"/><circle cx="68.7" cy="309.7" r="1.36"/><circle cx="68.7" cy="301.5" r="1.36"/></g><polyline clip-path="url(#cg)" points="20.00,312.70 20.16,312.41 20.35,312.06 20.56,311.65 20.80,311.19 21.07,310.69 21.36,310.16 21.66,309.59 21.99,309.01 22.32,308.41 22.67,307.80 23.03,307.20 23.40,306.60 23.78,305.99 24.18,305.36 24.60,304.70 25.03,304.03 25.48,303.34 25.94,302.64 26.41,301.93 26.89,301.23 27.38,300.53 27.88,299.84 28.39,299.16 28.90,298.50 29.42,297.85 29.94,297.19 30.48,296.53 31.02,295.88 31.58,295.23 32.14,294.58 32.71,293.95 33.29,293.32 33.88,292.71 34.48,292.12 35.08,291.55 35.70,291.00 36.33,290.48 36.96,289.99 37.60,289.54 38.25,289.10 38.91,288.67 39.58,288.26 40.26,287.84 40.95,287.43 41.65,287.00 42.35,286.56 43.07,286.09 43.80,285.60 44.53,285.09 45.24,284.57 45.95,284.05 46.67,283.51 47.40,282.97 48.14,282.41 48.90,281.85 49.70,281.27 50.53,280.67 51.40,280.07 52.32,279.44 53.30,278.80 54.31,278.15 55.34,277.50 56.39,276.84 57.46,276.17 58.58,275.49 59.73,274.79 60.94,274.07 62.20,273.32 63.54,272.54 64.94,271.73 66.43,270.89 68.00,270.00 69.69,269.06 71.49,268.06 73.39,267.02 75.37,265.94 77.43,264.83 79.52,263.70 81.66,262.56 83.80,261.41 85.95,260.28 88.07,259.16 90.16,258.06 92.20,257.00 94.28,255.93 96.48,254.80 98.76,253.65 101.07,252.48 103.39,251.32 105.66,250.19 107.85,249.10 109.91,248.07 111.81,247.13 113.50,246.29 114.95,245.58 116.10,245.00" fill="none" stroke="#f36a6e" stroke-width="1.2" stroke-linejoin="round"/><rect x="16.30" y="228.40" width="104.20" height="88.90" fill="none" stroke="#c6c6c6" stroke-width="1.35"/><text class="tk" x="21.10" y="321.90" font-size="4.50" text-anchor="middle">0</text><text class="tk" x="35.58" y="321.90" font-size="4.50" text-anchor="middle">2</text><text class="tk" x="50.06" y="321.90" font-size="4.50" text-anchor="middle">4</text><text class="tk" x="64.54" y="321.90" font-size="4.50" text-anchor="middle">6</text><text class="tk" x="79.02" y="321.90" font-size="4.50" text-anchor="middle">8</text><text class="tk" x="93.50" y="321.90" font-size="4.50" text-anchor="middle">10</text><text class="tk" x="107.98" y="321.90" font-size="4.50" text-anchor="middle">12</text><text class="tk" x="14.70" y="314.60" font-size="4.50" text-anchor="end">0.0</text><text class="tk" x="14.70" y="299.80" font-size="4.50" text-anchor="end">0.1</text><text class="tk" x="14.70" y="285.00" font-size="4.50" text-anchor="end">0.2</text><text class="tk" x="14.70" y="270.20" font-size="4.50" text-anchor="end">0.3</text><text class="tk" x="14.70" y="255.40" font-size="4.50" text-anchor="end">0.4</text><text class="tk" x="14.70" y="240.60" font-size="4.50" text-anchor="end">0.5</text><path d="M21.10 317.60v1.6M35.58 317.60v1.6M50.06 317.60v1.6M64.54 317.60v1.6M79.02 317.60v1.6M93.50 317.60v1.6M107.98 317.60v1.6M16.00 313.10h-1.6M16.00 298.30h-1.6M16.00 283.50h-1.6M16.00 268.70h-1.6M16.00 253.90h-1.6M16.00 239.10h-1.6" stroke="#8a8a8a" stroke-width="0.55" fill="none"/><text class="ti" x="70.00" y="226.80" font-size="5.40" text-anchor="middle">(g)IT−SRO</text><text class="xl" x="68.40" y="327.44" font-size="4.80" text-anchor="middle">VPD(kPa)</text><text transform="translate(6.60 272.85) rotate(-90)" font-size="4.90" text-anchor="middle">T/ET</text></g><g><clipPath id="ch"><rect x="137.20" y="228.40" width="104.20" height="88.90"/></clipPath><text class="r2" x="233.80" y="308.40" font-size="4.25" text-anchor="end">R<tspan font-size="3.2" dy="-1.6">2</tspan><tspan dy="1.6"> = 0.32</tspan></text><g clip-path="url(#ch)" fill="#3266f4"><circle cx="179.8" cy="235.9" r="1.36"/><circle cx="185.2" cy="236.2" r="1.36"/><circle cx="187.9" cy="237.5" r="1.36"/><circle cx="150.1" cy="241.6" r="1.36"/><circle cx="163.2" cy="240.2" r="1.36"/><circle cx="162.8" cy="245.0" r="1.36"/><circle cx="182.5" cy="240.9" r="1.36"/><circle cx="185.9" cy="241.6" r="1.36"/><circle cx="187.2" cy="243.6" r="1.36"/><circle cx="188.6" cy="245.7" r="1.36"/><circle cx="183.2" cy="245.7" r="1.36"/><circle cx="177.0" cy="244.3" r="1.36"/><circle cx="176.4" cy="248.4" r="1.36"/><circle cx="151.9" cy="249.7" r="1.36"/><circle cx="157.3" cy="250.4" r="1.36"/><circle cx="160.7" cy="250.0" r="1.36"/><circle cx="162.8" cy="252.2" r="1.36"/><circle cx="168.2" cy="251.1" r="1.36"/><circle cx="172.3" cy="253.1" r="1.36"/><circle cx="172.3" cy="254.9" r="1.36"/><circle cx="179.1" cy="251.8" r="1.36"/><circle cx="179.8" cy="253.8" r="1.36"/><circle cx="182.5" cy="252.5" r="1.36"/><circle cx="185.9" cy="251.1" r="1.36"/><circle cx="187.9" cy="253.1" r="1.36"/><circle cx="149.2" cy="253.1" r="1.36"/><circle cx="150.5" cy="254.5" r="1.36"/><circle cx="153.3" cy="253.8" r="1.36"/><circle cx="154.6" cy="255.2" r="1.36"/><circle cx="182.5" cy="255.9" r="1.36"/><circle cx="185.2" cy="256.5" r="1.36"/><circle cx="188.6" cy="255.2" r="1.36"/><circle cx="148.5" cy="257.2" r="1.36"/><circle cx="150.5" cy="258.6" r="1.36"/><circle cx="153.9" cy="257.2" r="1.36"/><circle cx="155.3" cy="259.2" r="1.36"/><circle cx="149.9" cy="260.6" r="1.36"/><circle cx="151.9" cy="261.3" r="1.36"/><circle cx="147.8" cy="262.0" r="1.36"/><circle cx="158.0" cy="259.9" r="1.36"/><circle cx="162.8" cy="259.9" r="1.36"/><circle cx="164.8" cy="259.2" r="1.36"/><circle cx="163.5" cy="262.0" r="1.36"/><circle cx="161.4" cy="263.3" r="1.36"/><circle cx="158.0" cy="263.3" r="1.36"/><circle cx="156.0" cy="264.0" r="1.36"/><circle cx="147.2" cy="264.7" r="1.36"/><circle cx="149.9" cy="265.4" r="1.36"/><circle cx="152.6" cy="264.7" r="1.36"/><circle cx="177.0" cy="260.6" r="1.36"/><circle cx="179.1" cy="262.6" r="1.36"/><circle cx="182.5" cy="261.3" r="1.36"/><circle cx="185.9" cy="264.0" r="1.36"/><circle cx="175.0" cy="264.7" r="1.36"/><circle cx="177.7" cy="265.4" r="1.36"/><circle cx="148.5" cy="267.4" r="1.36"/><circle cx="151.2" cy="268.1" r="1.36"/><circle cx="148.5" cy="270.1" r="1.36"/><circle cx="150.5" cy="271.5" r="1.36"/><circle cx="153.9" cy="268.8" r="1.36"/><circle cx="156.0" cy="270.8" r="1.36"/><circle cx="160.7" cy="267.4" r="1.36"/><circle cx="162.1" cy="268.8" r="1.36"/><circle cx="165.5" cy="268.1" r="1.36"/><circle cx="169.6" cy="266.7" r="1.36"/><circle cx="172.3" cy="268.8" r="1.36"/><circle cx="174.3" cy="270.1" r="1.36"/><circle cx="177.0" cy="268.1" r="1.36"/><circle cx="179.8" cy="269.4" r="1.36"/><circle cx="184.5" cy="267.4" r="1.36"/><circle cx="187.9" cy="268.8" r="1.36"/><circle cx="158.7" cy="271.5" r="1.36"/><circle cx="147.2" cy="272.2" r="1.36"/><circle cx="145.8" cy="275.0" r="1.36"/><circle cx="149.2" cy="274.4" r="1.36"/><circle cx="151.9" cy="273.7" r="1.36"/><circle cx="153.9" cy="275.0" r="1.36"/><circle cx="156.0" cy="275.7" r="1.36"/><circle cx="158.0" cy="274.4" r="1.36"/><circle cx="147.8" cy="277.1" r="1.36"/><circle cx="150.5" cy="277.8" r="1.36"/><circle cx="153.3" cy="277.1" r="1.36"/><circle cx="155.3" cy="278.4" r="1.36"/><circle cx="147.2" cy="279.8" r="1.36"/><circle cx="149.9" cy="280.5" r="1.36"/><circle cx="152.6" cy="279.8" r="1.36"/><circle cx="156.0" cy="280.5" r="1.36"/><circle cx="159.4" cy="279.1" r="1.36"/><circle cx="162.8" cy="278.4" r="1.36"/><circle cx="165.5" cy="277.1" r="1.36"/><circle cx="168.2" cy="275.7" r="1.36"/><circle cx="170.9" cy="278.4" r="1.36"/><circle cx="172.3" cy="276.4" r="1.36"/><circle cx="174.3" cy="275.0" r="1.36"/><circle cx="148.5" cy="282.5" r="1.36"/><circle cx="151.2" cy="283.2" r="1.36"/><circle cx="153.9" cy="282.5" r="1.36"/><circle cx="156.7" cy="283.9" r="1.36"/><circle cx="160.1" cy="282.5" r="1.36"/><circle cx="161.4" cy="281.2" r="1.36"/><circle cx="163.5" cy="280.5" r="1.36"/><circle cx="147.2" cy="285.2" r="1.36"/><circle cx="149.9" cy="285.9" r="1.36"/><circle cx="152.6" cy="285.9" r="1.36"/><circle cx="155.3" cy="286.6" r="1.36"/><circle cx="158.7" cy="285.9" r="1.36"/><circle cx="160.7" cy="285.2" r="1.36"/><circle cx="146.5" cy="287.9" r="1.36"/><circle cx="149.2" cy="288.6" r="1.36"/><circle cx="151.9" cy="288.6" r="1.36"/><circle cx="154.6" cy="289.3" r="1.36"/><circle cx="159.4" cy="289.3" r="1.36"/><circle cx="158.0" cy="290.7" r="1.36"/><circle cx="147.2" cy="291.3" r="1.36"/><circle cx="149.9" cy="292.0" r="1.36"/><circle cx="152.6" cy="291.3" r="1.36"/><circle cx="155.3" cy="292.0" r="1.36"/><circle cx="146.5" cy="294.1" r="1.36"/><circle cx="149.2" cy="294.7" r="1.36"/><circle cx="151.9" cy="294.1" r="1.36"/><circle cx="154.6" cy="294.7" r="1.36"/><circle cx="156.7" cy="294.1" r="1.36"/><circle cx="147.8" cy="296.8" r="1.36"/><circle cx="151.2" cy="297.5" r="1.36"/><circle cx="153.9" cy="296.8" r="1.36"/><circle cx="148.5" cy="298.8" r="1.36"/><circle cx="152.6" cy="299.5" r="1.36"/><circle cx="145.8" cy="300.9" r="1.36"/><circle cx="147.8" cy="304.2" r="1.36"/><circle cx="152.6" cy="303.6" r="1.36"/><circle cx="151.9" cy="306.3" r="1.36"/><circle cx="157.3" cy="304.9" r="1.36"/><circle cx="158.7" cy="303.6" r="1.36"/><circle cx="163.5" cy="296.8" r="1.36"/><circle cx="164.8" cy="295.4" r="1.36"/><circle cx="162.8" cy="298.8" r="1.36"/><circle cx="168.2" cy="290.0" r="1.36"/><circle cx="169.6" cy="292.0" r="1.36"/><circle cx="173.6" cy="291.3" r="1.36"/><circle cx="175.0" cy="294.7" r="1.36"/><circle cx="177.0" cy="293.4" r="1.36"/><circle cx="178.4" cy="294.7" r="1.36"/><circle cx="175.0" cy="298.1" r="1.36"/><circle cx="173.6" cy="301.5" r="1.36"/><circle cx="174.6" cy="283.2" r="1.36"/><circle cx="179.5" cy="280.5" r="1.36"/><circle cx="182.5" cy="285.9" r="1.36"/><circle cx="183.2" cy="287.7" r="1.36"/><circle cx="187.9" cy="276.4" r="1.36"/><circle cx="177.7" cy="311.0" r="1.36"/><circle cx="181.1" cy="309.7" r="1.36"/><circle cx="186.6" cy="310.0" r="1.36"/><circle cx="165.5" cy="273.7" r="1.36"/><circle cx="170.2" cy="273.7" r="1.36"/><circle cx="199.2" cy="232.1" r="1.36"/><circle cx="198.5" cy="234.1" r="1.36"/><circle cx="195.8" cy="234.1" r="1.36"/><circle cx="191.7" cy="234.8" r="1.36"/><circle cx="189.7" cy="236.2" r="1.36"/><circle cx="205.3" cy="234.5" r="1.36"/><circle cx="218.2" cy="234.8" r="1.36"/><circle cx="216.9" cy="237.8" r="1.36"/><circle cx="193.1" cy="238.2" r="1.36"/><circle cx="196.5" cy="238.9" r="1.36"/><circle cx="199.9" cy="238.2" r="1.36"/><circle cx="202.6" cy="236.8" r="1.36"/><circle cx="203.9" cy="239.5" r="1.36"/><circle cx="189.7" cy="240.2" r="1.36"/><circle cx="192.4" cy="240.9" r="1.36"/><circle cx="195.8" cy="241.6" r="1.36"/><circle cx="199.2" cy="241.6" r="1.36"/><circle cx="202.6" cy="241.6" r="1.36"/><circle cx="206.0" cy="242.9" r="1.36"/><circle cx="209.4" cy="240.9" r="1.36"/><circle cx="211.4" cy="242.3" r="1.36"/><circle cx="210.7" cy="244.3" r="1.36"/><circle cx="213.5" cy="240.9" r="1.36"/><circle cx="216.2" cy="243.6" r="1.36"/><circle cx="218.2" cy="244.0" r="1.36"/><circle cx="190.4" cy="244.3" r="1.36"/><circle cx="193.8" cy="245.0" r="1.36"/><circle cx="196.5" cy="245.7" r="1.36"/><circle cx="199.9" cy="245.0" r="1.36"/><circle cx="203.3" cy="245.7" r="1.36"/><circle cx="206.7" cy="247.0" r="1.36"/><circle cx="189.7" cy="247.7" r="1.36"/><circle cx="192.4" cy="248.4" r="1.36"/><circle cx="195.8" cy="248.4" r="1.36"/><circle cx="199.2" cy="247.7" r="1.36"/><circle cx="202.6" cy="249.1" r="1.36"/><circle cx="208.0" cy="249.1" r="1.36"/><circle cx="218.2" cy="247.0" r="1.36"/><circle cx="231.1" cy="247.7" r="1.36"/><circle cx="191.0" cy="251.1" r="1.36"/><circle cx="194.4" cy="251.1" r="1.36"/><circle cx="197.8" cy="251.8" r="1.36"/><circle cx="201.2" cy="251.1" r="1.36"/><circle cx="204.6" cy="252.5" r="1.36"/><circle cx="209.4" cy="252.5" r="1.36"/><circle cx="212.1" cy="251.8" r="1.36"/><circle cx="216.2" cy="252.5" r="1.36"/><circle cx="219.6" cy="253.1" r="1.36"/><circle cx="222.3" cy="252.5" r="1.36"/><circle cx="189.7" cy="254.5" r="1.36"/><circle cx="193.1" cy="255.2" r="1.36"/><circle cx="197.2" cy="255.2" r="1.36"/><circle cx="201.2" cy="254.5" r="1.36"/><circle cx="205.3" cy="254.5" r="1.36"/><circle cx="190.4" cy="258.6" r="1.36"/><circle cx="193.8" cy="257.9" r="1.36"/><circle cx="197.8" cy="259.2" r="1.36"/><circle cx="201.9" cy="257.9" r="1.36"/><circle cx="206.0" cy="257.2" r="1.36"/><circle cx="209.4" cy="258.6" r="1.36"/><circle cx="212.8" cy="257.2" r="1.36"/><circle cx="213.5" cy="259.9" r="1.36"/><circle cx="208.0" cy="260.6" r="1.36"/><circle cx="191.7" cy="262.0" r="1.36"/><circle cx="195.1" cy="261.3" r="1.36"/><circle cx="199.2" cy="262.6" r="1.36"/><circle cx="203.3" cy="263.3" r="1.36"/><circle cx="211.4" cy="263.3" r="1.36"/><circle cx="216.2" cy="262.0" r="1.36"/><circle cx="193.1" cy="265.4" r="1.36"/><circle cx="195.8" cy="264.7" r="1.36"/><circle cx="199.9" cy="265.4" r="1.36"/><circle cx="203.9" cy="264.7" r="1.36"/><circle cx="208.0" cy="266.7" r="1.36"/><circle cx="211.4" cy="266.0" r="1.36"/><circle cx="215.5" cy="267.4" r="1.36"/><circle cx="217.5" cy="268.8" r="1.36"/><circle cx="202.6" cy="268.8" r="1.36"/><circle cx="194.4" cy="270.8" r="1.36"/><circle cx="200.5" cy="271.5" r="1.36"/><circle cx="206.0" cy="271.8" r="1.36"/><circle cx="191.0" cy="277.8" r="1.36"/><circle cx="192.4" cy="278.7" r="1.36"/><circle cx="196.5" cy="277.3" r="1.36"/><circle cx="205.3" cy="276.0" r="1.36"/><circle cx="207.3" cy="276.8" r="1.36"/><circle cx="203.9" cy="279.8" r="1.36"/><circle cx="206.0" cy="280.9" r="1.36"/><circle cx="197.8" cy="281.4" r="1.36"/><circle cx="202.3" cy="282.8" r="1.36"/><circle cx="210.1" cy="282.8" r="1.36"/><circle cx="219.2" cy="295.4" r="1.36"/><circle cx="193.8" cy="298.5" r="1.36"/></g><polyline clip-path="url(#ch)" points="141.20,313.30 141.22,312.82 141.25,312.21 141.28,311.49 141.31,310.68 141.34,309.80 141.38,308.88 141.42,307.92 141.47,306.97 141.52,306.03 141.58,305.12 141.64,304.27 141.70,303.50 141.77,302.79 141.84,302.09 141.91,301.42 141.98,300.77 142.06,300.13 142.14,299.50 142.23,298.88 142.33,298.28 142.43,297.68 142.55,297.08 142.67,296.49 142.80,295.90 142.94,295.31 143.09,294.73 143.25,294.16 143.41,293.60 143.59,293.04 143.77,292.49 143.96,291.95 144.15,291.41 144.35,290.88 144.56,290.35 144.78,289.82 145.00,289.30 145.23,288.78 145.46,288.27 145.69,287.77 145.93,287.27 146.18,286.77 146.43,286.28 146.70,285.79 146.97,285.31 147.26,284.83 147.56,284.35 147.87,283.88 148.20,283.40 148.54,282.93 148.90,282.45 149.27,281.98 149.64,281.51 150.04,281.05 150.44,280.59 150.85,280.13 151.28,279.67 151.72,279.22 152.17,278.78 152.63,278.34 153.10,277.90 153.59,277.47 154.09,277.04 154.61,276.62 155.14,276.20 155.68,275.79 156.23,275.37 156.79,274.97 157.36,274.57 157.94,274.17 158.52,273.77 159.11,273.39 159.70,273.00 160.29,272.62 160.86,272.26 161.43,271.91 162.01,271.56 162.59,271.22 163.18,270.88 163.79,270.54 164.43,270.19 165.09,269.84 165.78,269.47 166.52,269.09 167.30,268.70 168.14,268.28 169.03,267.84 169.98,267.38 170.96,266.91 171.98,266.43 173.01,265.95 174.04,265.47 175.08,265.00 176.11,264.54 177.11,264.10 178.07,263.69 179.00,263.30 179.84,262.95 180.59,262.65 181.26,262.39 181.90,262.14 182.52,261.91 183.16,261.69 183.85,261.45 184.60,261.20 185.45,260.92 186.44,260.60 187.58,260.23 188.90,259.80 190.42,259.30 192.13,258.73 193.98,258.12 195.96,257.46 198.04,256.77 200.20,256.06 202.40,255.35 204.63,254.66 206.84,253.98 209.03,253.33 211.16,252.74 213.20,252.20 215.26,251.70 217.43,251.22 219.68,250.75 221.96,250.30 224.24,249.88 226.47,249.47 228.61,249.10 230.64,248.75 232.50,248.44 234.15,248.15 235.57,247.91 236.70,247.70" fill="none" stroke="#f36a6e" stroke-width="1.2" stroke-linejoin="round"/><rect x="137.20" y="228.40" width="104.20" height="88.90" fill="none" stroke="#c6c6c6" stroke-width="1.35"/><text class="tk" x="141.40" y="321.90" font-size="4.50" text-anchor="middle">0</text><text class="tk" x="160.56" y="321.90" font-size="4.50" text-anchor="middle">2</text><text class="tk" x="179.72" y="321.90" font-size="4.50" text-anchor="middle">4</text><text class="tk" x="198.88" y="321.90" font-size="4.50" text-anchor="middle">6</text><text class="tk" x="218.04" y="321.90" font-size="4.50" text-anchor="middle">8</text><text class="tk" x="237.20" y="321.90" font-size="4.50" text-anchor="middle">10</text><text class="tk" x="135.60" y="314.30" font-size="4.50" text-anchor="end">0.0</text><text class="tk" x="135.60" y="296.12" font-size="4.50" text-anchor="end">0.1</text><text class="tk" x="135.60" y="277.95" font-size="4.50" text-anchor="end">0.2</text><text class="tk" x="135.60" y="259.78" font-size="4.50" text-anchor="end">0.3</text><text class="tk" x="135.60" y="241.60" font-size="4.50" text-anchor="end">0.4</text><path d="M141.40 317.60v1.6M160.56 317.60v1.6M179.72 317.60v1.6M198.88 317.60v1.6M218.04 317.60v1.6M237.20 317.60v1.6M136.90 312.80h-1.6M136.90 294.62h-1.6M136.90 276.45h-1.6M136.90 258.28h-1.6M136.90 240.10h-1.6" stroke="#8a8a8a" stroke-width="0.55" fill="none"/><text class="ti" x="190.90" y="226.80" font-size="5.40" text-anchor="middle">(h)NL−Loo</text><text class="xl" x="189.30" y="327.44" font-size="4.80" text-anchor="middle">VPD(kPa)</text><text transform="translate(127.50 272.85) rotate(-90)" font-size="4.90" text-anchor="middle">T/ET</text></g><g><clipPath id="ci"><rect x="258.50" y="228.40" width="103.90" height="88.90"/></clipPath><text class="r2" x="357.70" y="308.70" font-size="4.25" text-anchor="end">R<tspan font-size="3.2" dy="-1.6">2</tspan><tspan dy="1.6"> = 0.35</tspan></text><g clip-path="url(#ci)" fill="#3266f4"><circle cx="290.9" cy="232.1" r="1.36"/><circle cx="295.6" cy="253.6" r="1.36"/><circle cx="308.6" cy="251.5" r="1.36"/><circle cx="309.1" cy="262.0" r="1.36"/><circle cx="309.5" cy="263.7" r="1.36"/><circle cx="295.3" cy="266.9" r="1.36"/><circle cx="302.1" cy="267.7" r="1.36"/><circle cx="306.9" cy="268.2" r="1.36"/><circle cx="306.6" cy="270.9" r="1.36"/><circle cx="304.2" cy="273.7" r="1.36"/><circle cx="285.9" cy="282.3" r="1.36"/><circle cx="301.8" cy="279.5" r="1.36"/><circle cx="293.7" cy="285.1" r="1.36"/><circle cx="300.9" cy="283.9" r="1.36"/><circle cx="302.6" cy="283.1" r="1.36"/><circle cx="303.7" cy="285.1" r="1.36"/><circle cx="306.6" cy="287.6" r="1.36"/><circle cx="296.1" cy="290.4" r="1.36"/><circle cx="298.5" cy="294.5" r="1.36"/><circle cx="299.8" cy="295.3" r="1.36"/><circle cx="302.1" cy="296.4" r="1.36"/><circle cx="298.2" cy="298.5" r="1.36"/><circle cx="305.8" cy="298.8" r="1.36"/><circle cx="309.5" cy="299.3" r="1.36"/><circle cx="284.3" cy="299.0" r="1.36"/><circle cx="302.1" cy="303.9" r="1.36"/><circle cx="305.8" cy="305.0" r="1.36"/><circle cx="284.7" cy="305.5" r="1.36"/><circle cx="282.3" cy="310.7" r="1.36"/><circle cx="290.4" cy="310.7" r="1.36"/><circle cx="292.8" cy="312.6" r="1.36"/><circle cx="300.5" cy="313.1" r="1.36"/><circle cx="305.3" cy="311.5" r="1.36"/><circle cx="302.1" cy="309.8" r="1.36"/><circle cx="310.8" cy="232.8" r="1.36"/><circle cx="324.5" cy="248.7" r="1.36"/><circle cx="322.6" cy="250.6" r="1.36"/><circle cx="315.7" cy="253.0" r="1.36"/><circle cx="334.2" cy="247.7" r="1.36"/><circle cx="335.0" cy="249.0" r="1.36"/><circle cx="337.1" cy="251.4" r="1.36"/><circle cx="337.8" cy="253.8" r="1.36"/><circle cx="345.9" cy="247.1" r="1.36"/><circle cx="349.6" cy="247.1" r="1.36"/><circle cx="331.0" cy="255.1" r="1.36"/><circle cx="331.0" cy="257.9" r="1.36"/><circle cx="337.1" cy="257.9" r="1.36"/><circle cx="345.9" cy="255.8" r="1.36"/><circle cx="357.8" cy="256.3" r="1.36"/><circle cx="310.8" cy="261.9" r="1.36"/><circle cx="312.4" cy="263.2" r="1.36"/><circle cx="316.1" cy="262.2" r="1.36"/><circle cx="322.9" cy="263.2" r="1.36"/><circle cx="324.5" cy="264.3" r="1.36"/><circle cx="326.2" cy="265.5" r="1.36"/><circle cx="339.1" cy="261.1" r="1.36"/><circle cx="340.7" cy="263.9" r="1.36"/><circle cx="341.0" cy="265.5" r="1.36"/><circle cx="348.0" cy="262.7" r="1.36"/><circle cx="352.8" cy="262.2" r="1.36"/><circle cx="332.6" cy="264.3" r="1.36"/><circle cx="333.4" cy="266.4" r="1.36"/><circle cx="334.2" cy="266.8" r="1.36"/><circle cx="321.3" cy="266.4" r="1.36"/><circle cx="325.3" cy="267.1" r="1.36"/><circle cx="327.0" cy="268.4" r="1.36"/><circle cx="313.2" cy="268.4" r="1.36"/><circle cx="315.7" cy="268.1" r="1.36"/><circle cx="319.7" cy="270.3" r="1.36"/><circle cx="318.1" cy="271.9" r="1.36"/><circle cx="322.9" cy="271.3" r="1.36"/><circle cx="322.6" cy="273.2" r="1.36"/><circle cx="327.8" cy="273.6" r="1.36"/><circle cx="335.0" cy="271.3" r="1.36"/><circle cx="310.8" cy="276.5" r="1.36"/><circle cx="312.4" cy="275.7" r="1.36"/><circle cx="314.8" cy="278.1" r="1.36"/><circle cx="318.9" cy="277.8" r="1.36"/><circle cx="316.5" cy="274.8" r="1.36"/><circle cx="319.7" cy="279.7" r="1.36"/><circle cx="323.7" cy="278.1" r="1.36"/><circle cx="326.2" cy="279.4" r="1.36"/><circle cx="327.8" cy="278.1" r="1.36"/><circle cx="328.6" cy="278.9" r="1.36"/><circle cx="327.0" cy="281.0" r="1.36"/><circle cx="313.2" cy="284.9" r="1.36"/><circle cx="315.7" cy="285.4" r="1.36"/><circle cx="317.3" cy="284.5" r="1.36"/><circle cx="323.7" cy="284.5" r="1.36"/><circle cx="320.5" cy="289.7" r="1.36"/><circle cx="314.0" cy="291.8" r="1.36"/><circle cx="317.3" cy="293.9" r="1.36"/><circle cx="310.8" cy="299.9" r="1.36"/><circle cx="310.8" cy="301.5" r="1.36"/><circle cx="310.8" cy="310.4" r="1.36"/></g><polyline clip-path="url(#ci)" points="262.90,312.60 358.10,248.20" fill="none" stroke="#f36a6e" stroke-width="1.2" stroke-linejoin="round"/><rect x="258.50" y="228.40" width="103.90" height="88.90" fill="none" stroke="#c6c6c6" stroke-width="1.35"/><text class="tk" x="264.40" y="321.90" font-size="4.50" text-anchor="middle">0.0</text><text class="tk" x="277.50" y="321.90" font-size="4.50" text-anchor="middle">2.5</text><text class="tk" x="290.60" y="321.90" font-size="4.50" text-anchor="middle">5.0</text><text class="tk" x="303.70" y="321.90" font-size="4.50" text-anchor="middle">7.5</text><text class="tk" x="316.80" y="321.90" font-size="4.50" text-anchor="middle">10.0</text><text class="tk" x="329.90" y="321.90" font-size="4.50" text-anchor="middle">12.5</text><text class="tk" x="343.00" y="321.90" font-size="4.50" text-anchor="middle">15.0</text><text class="tk" x="356.10" y="321.90" font-size="4.50" text-anchor="middle">17.5</text><text class="tk" x="256.90" y="314.60" font-size="4.50" text-anchor="end">0.0</text><text class="tk" x="256.90" y="297.96" font-size="4.50" text-anchor="end">0.1</text><text class="tk" x="256.90" y="281.32" font-size="4.50" text-anchor="end">0.2</text><text class="tk" x="256.90" y="264.68" font-size="4.50" text-anchor="end">0.3</text><text class="tk" x="256.90" y="248.04" font-size="4.50" text-anchor="end">0.4</text><text class="tk" x="256.90" y="231.40" font-size="4.50" text-anchor="end">0.5</text><path d="M264.40 317.60v1.6M277.50 317.60v1.6M290.60 317.60v1.6M303.70 317.60v1.6M316.80 317.60v1.6M329.90 317.60v1.6M343.00 317.60v1.6M356.10 317.60v1.6M258.20 313.10h-1.6M258.20 296.46h-1.6M258.20 279.82h-1.6M258.20 263.18h-1.6M258.20 246.54h-1.6M258.20 229.90h-1.6" stroke="#8a8a8a" stroke-width="0.55" fill="none"/><text class="ti" x="312.05" y="226.80" font-size="5.40" text-anchor="middle">(i)US−KS1</text><text class="xl" x="310.45" y="327.44" font-size="4.80" text-anchor="middle">VPD(kPa)</text><text transform="translate(248.80 272.85) rotate(-90)" font-size="4.90" text-anchor="middle">T/ET</text></g><g><clipPath id="cj"><rect x="16.30" y="337.40" width="104.20" height="88.80"/></clipPath><text class="r2" x="115.30" y="419.30" font-size="4.25" text-anchor="end">R<tspan font-size="3.2" dy="-1.6">2</tspan><tspan dy="1.6"> = 0.01</tspan></text><g clip-path="url(#cj)" fill="#3266f4"><circle cx="24.5" cy="341.1" r="1.36"/><circle cx="26.4" cy="343.8" r="1.36"/><circle cx="27.2" cy="345.4" r="1.36"/><circle cx="24.8" cy="347.9" r="1.36"/><circle cx="26.2" cy="349.2" r="1.36"/><circle cx="34.0" cy="347.2" r="1.36"/><circle cx="23.2" cy="353.0" r="1.36"/><circle cx="24.8" cy="354.0" r="1.36"/><circle cx="27.5" cy="356.0" r="1.36"/><circle cx="31.6" cy="354.7" r="1.36"/><circle cx="32.9" cy="353.3" r="1.36"/><circle cx="36.3" cy="351.3" r="1.36"/><circle cx="38.4" cy="351.9" r="1.36"/><circle cx="37.0" cy="354.7" r="1.36"/><circle cx="42.7" cy="351.7" r="1.36"/><circle cx="49.9" cy="353.3" r="1.36"/><circle cx="50.6" cy="354.7" r="1.36"/><circle cx="52.6" cy="357.1" r="1.36"/><circle cx="24.1" cy="358.7" r="1.36"/><circle cx="25.5" cy="360.8" r="1.36"/><circle cx="28.2" cy="360.8" r="1.36"/><circle cx="30.9" cy="362.1" r="1.36"/><circle cx="35.7" cy="358.7" r="1.36"/><circle cx="45.2" cy="359.4" r="1.36"/><circle cx="46.5" cy="362.1" r="1.36"/><circle cx="49.2" cy="361.5" r="1.36"/><circle cx="44.5" cy="362.8" r="1.36"/><circle cx="42.5" cy="364.2" r="1.36"/><circle cx="26.8" cy="365.5" r="1.36"/><circle cx="28.9" cy="366.2" r="1.36"/><circle cx="30.9" cy="364.2" r="1.36"/><circle cx="32.9" cy="364.9" r="1.36"/><circle cx="35.7" cy="363.5" r="1.36"/><circle cx="37.7" cy="365.5" r="1.36"/><circle cx="39.7" cy="365.5" r="1.36"/><circle cx="28.2" cy="368.2" r="1.36"/><circle cx="30.2" cy="368.9" r="1.36"/><circle cx="32.3" cy="367.6" r="1.36"/><circle cx="34.3" cy="368.9" r="1.36"/><circle cx="37.0" cy="368.2" r="1.36"/><circle cx="39.1" cy="368.9" r="1.36"/><circle cx="46.5" cy="366.6" r="1.36"/><circle cx="24.1" cy="372.3" r="1.36"/><circle cx="27.5" cy="372.3" r="1.36"/><circle cx="30.9" cy="371.6" r="1.36"/><circle cx="32.9" cy="373.0" r="1.36"/><circle cx="35.7" cy="371.6" r="1.36"/><circle cx="37.7" cy="372.3" r="1.36"/><circle cx="29.5" cy="374.4" r="1.36"/><circle cx="32.3" cy="375.0" r="1.36"/><circle cx="34.3" cy="375.7" r="1.36"/><circle cx="37.0" cy="375.0" r="1.36"/><circle cx="45.2" cy="374.4" r="1.36"/><circle cx="45.9" cy="376.4" r="1.36"/><circle cx="24.1" cy="378.4" r="1.36"/><circle cx="28.2" cy="377.1" r="1.36"/><circle cx="31.6" cy="378.4" r="1.36"/><circle cx="34.3" cy="377.8" r="1.36"/><circle cx="36.3" cy="377.1" r="1.36"/><circle cx="28.9" cy="380.5" r="1.36"/><circle cx="32.3" cy="380.5" r="1.36"/><circle cx="43.1" cy="380.5" r="1.36"/><circle cx="45.9" cy="380.8" r="1.36"/><circle cx="52.0" cy="380.8" r="1.36"/><circle cx="63.9" cy="371.0" r="1.36"/><circle cx="30.9" cy="384.0" r="1.36"/><circle cx="34.3" cy="383.4" r="1.36"/><circle cx="40.4" cy="383.4" r="1.36"/><circle cx="45.9" cy="383.4" r="1.36"/><circle cx="24.1" cy="387.4" r="1.36"/><circle cx="33.6" cy="387.4" r="1.36"/><circle cx="38.4" cy="387.4" r="1.36"/><circle cx="55.4" cy="388.1" r="1.36"/><circle cx="61.5" cy="386.1" r="1.36"/><circle cx="24.8" cy="390.8" r="1.36"/><circle cx="28.9" cy="391.5" r="1.36"/><circle cx="37.0" cy="390.2" r="1.36"/><circle cx="41.1" cy="391.5" r="1.36"/><circle cx="46.5" cy="394.0" r="1.36"/><circle cx="50.6" cy="394.9" r="1.36"/><circle cx="56.0" cy="396.3" r="1.36"/><circle cx="58.8" cy="393.5" r="1.36"/><circle cx="64.2" cy="394.2" r="1.36"/><circle cx="25.5" cy="395.6" r="1.36"/><circle cx="29.5" cy="395.6" r="1.36"/><circle cx="34.3" cy="398.3" r="1.36"/><circle cx="38.4" cy="400.3" r="1.36"/><circle cx="43.1" cy="399.7" r="1.36"/><circle cx="21.4" cy="399.0" r="1.36"/><circle cx="21.8" cy="401.0" r="1.36"/><circle cx="33.6" cy="401.0" r="1.36"/><circle cx="35.0" cy="403.7" r="1.36"/><circle cx="49.9" cy="403.7" r="1.36"/><circle cx="52.6" cy="402.4" r="1.36"/><circle cx="52.0" cy="406.5" r="1.36"/><circle cx="26.8" cy="405.1" r="1.36"/><circle cx="31.6" cy="405.8" r="1.36"/><circle cx="37.0" cy="404.4" r="1.36"/><circle cx="60.1" cy="406.5" r="1.36"/><circle cx="21.4" cy="407.8" r="1.36"/><circle cx="28.2" cy="407.8" r="1.36"/><circle cx="30.9" cy="408.5" r="1.36"/><circle cx="35.0" cy="407.1" r="1.36"/><circle cx="35.7" cy="409.9" r="1.36"/><circle cx="38.4" cy="409.9" r="1.36"/><circle cx="26.2" cy="410.5" r="1.36"/><circle cx="32.3" cy="411.9" r="1.36"/><circle cx="36.3" cy="412.6" r="1.36"/><circle cx="39.1" cy="412.6" r="1.36"/><circle cx="47.9" cy="409.2" r="1.36"/><circle cx="45.2" cy="413.2" r="1.36"/><circle cx="22.1" cy="415.3" r="1.36"/><circle cx="23.4" cy="417.3" r="1.36"/><circle cx="25.5" cy="416.6" r="1.36"/><circle cx="27.5" cy="418.0" r="1.36"/><circle cx="22.8" cy="419.4" r="1.36"/><circle cx="24.8" cy="420.7" r="1.36"/><circle cx="26.2" cy="421.4" r="1.36"/><circle cx="28.9" cy="418.7" r="1.36"/><circle cx="30.2" cy="416.6" r="1.36"/><circle cx="32.9" cy="418.0" r="1.36"/><circle cx="34.3" cy="420.0" r="1.36"/><circle cx="35.7" cy="421.4" r="1.36"/><circle cx="38.4" cy="420.7" r="1.36"/><circle cx="41.8" cy="418.0" r="1.36"/><circle cx="45.9" cy="419.4" r="1.36"/><circle cx="46.5" cy="422.1" r="1.36"/><circle cx="33.6" cy="415.3" r="1.36"/><circle cx="78.0" cy="380.9" r="1.36"/><circle cx="84.6" cy="384.2" r="1.36"/><circle cx="96.3" cy="383.4" r="1.36"/><circle cx="104.3" cy="383.0" r="1.36"/><circle cx="104.8" cy="384.2" r="1.36"/><circle cx="116.0" cy="379.3" r="1.36"/><circle cx="72.0" cy="387.9" r="1.36"/><circle cx="76.9" cy="390.0" r="1.36"/><circle cx="90.9" cy="387.6" r="1.36"/><circle cx="74.8" cy="394.4" r="1.36"/><circle cx="91.9" cy="394.4" r="1.36"/><circle cx="93.0" cy="393.2" r="1.36"/><circle cx="75.3" cy="403.2" r="1.36"/><circle cx="74.5" cy="404.9" r="1.36"/><circle cx="90.1" cy="404.0" r="1.36"/><circle cx="100.3" cy="407.3" r="1.36"/><circle cx="76.1" cy="408.1" r="1.36"/><circle cx="76.9" cy="411.3" r="1.36"/><circle cx="70.4" cy="413.7" r="1.36"/><circle cx="69.6" cy="414.5" r="1.36"/><circle cx="82.1" cy="419.1" r="1.36"/></g><polyline clip-path="url(#cj)" points="20.86,385.14 67.86,391.29 115.66,394.67" fill="none" stroke="#f36a6e" stroke-width="1.2" stroke-linejoin="round"/><rect x="16.30" y="337.40" width="104.20" height="88.80" fill="none" stroke="#c6c6c6" stroke-width="1.35"/><text class="tk" x="21.10" y="430.80" font-size="4.50" text-anchor="middle">0</text><text class="tk" x="36.84" y="430.80" font-size="4.50" text-anchor="middle">5</text><text class="tk" x="52.57" y="430.80" font-size="4.50" text-anchor="middle">10</text><text class="tk" x="68.31" y="430.80" font-size="4.50" text-anchor="middle">15</text><text class="tk" x="84.04" y="430.80" font-size="4.50" text-anchor="middle">20</text><text class="tk" x="99.78" y="430.80" font-size="4.50" text-anchor="middle">25</text><text class="tk" x="115.51" y="430.80" font-size="4.50" text-anchor="middle">30</text><text class="tk" x="14.70" y="423.60" font-size="4.50" text-anchor="end">0.0</text><text class="tk" x="14.70" y="413.29" font-size="4.50" text-anchor="end">0.1</text><text class="tk" x="14.70" y="402.98" font-size="4.50" text-anchor="end">0.2</text><text class="tk" x="14.70" y="392.67" font-size="4.50" text-anchor="end">0.3</text><text class="tk" x="14.70" y="382.36" font-size="4.50" text-anchor="end">0.4</text><text class="tk" x="14.70" y="372.05" font-size="4.50" text-anchor="end">0.5</text><text class="tk" x="14.70" y="361.74" font-size="4.50" text-anchor="end">0.6</text><text class="tk" x="14.70" y="351.43" font-size="4.50" text-anchor="end">0.7</text><text class="tk" x="14.70" y="341.12" font-size="4.50" text-anchor="end">0.8</text><path d="M21.10 426.50v1.6M36.84 426.50v1.6M52.57 426.50v1.6M68.31 426.50v1.6M84.04 426.50v1.6M99.78 426.50v1.6M115.51 426.50v1.6M16.00 422.10h-1.6M16.00 411.79h-1.6M16.00 401.48h-1.6M16.00 391.17h-1.6M16.00 380.86h-1.6M16.00 370.55h-1.6M16.00 360.24h-1.6M16.00 349.93h-1.6M16.00 339.62h-1.6" stroke="#8a8a8a" stroke-width="0.55" fill="none"/><text class="ti" x="70.00" y="336.30" font-size="5.40" text-anchor="middle">(j)US−Me1</text><text class="xl" x="68.40" y="436.56" font-size="4.80" text-anchor="middle">VPD(kPa)</text><text transform="translate(6.60 381.80) rotate(-90)" font-size="4.90" text-anchor="middle">T/ET</text></g><g><clipPath id="ck"><rect x="137.20" y="337.40" width="104.20" height="88.80"/></clipPath><text class="r2" x="229.00" y="419.00" font-size="4.25" text-anchor="end">R<tspan font-size="3.2" dy="-1.6">2</tspan><tspan dy="1.6"> = 0.23</tspan></text><g clip-path="url(#ck)" fill="#3266f4"><circle cx="184.6" cy="342.8" r="1.36"/><circle cx="182.1" cy="343.4" r="1.36"/><circle cx="186.5" cy="343.1" r="1.36"/><circle cx="178.5" cy="341.6" r="1.36"/><circle cx="180.2" cy="343.4" r="1.36"/><circle cx="184.9" cy="338.2" r="1.36"/><circle cx="188.1" cy="340.2" r="1.36"/><circle cx="179.0" cy="339.4" r="1.36"/><circle cx="184.8" cy="350.4" r="1.36"/><circle cx="183.4" cy="349.7" r="1.36"/><circle cx="185.0" cy="354.1" r="1.36"/><circle cx="185.7" cy="351.4" r="1.36"/><circle cx="182.7" cy="396.2" r="1.36"/><circle cx="178.8" cy="392.0" r="1.36"/><circle cx="178.8" cy="392.1" r="1.36"/><circle cx="179.0" cy="386.8" r="1.36"/><circle cx="179.0" cy="404.9" r="1.36"/><circle cx="188.0" cy="400.1" r="1.36"/><circle cx="186.5" cy="403.1" r="1.36"/><circle cx="182.0" cy="398.4" r="1.36"/><circle cx="183.7" cy="404.9" r="1.36"/><circle cx="187.2" cy="401.2" r="1.36"/><circle cx="189.1" cy="419.7" r="1.36"/><circle cx="187.2" cy="421.3" r="1.36"/><circle cx="187.5" cy="420.9" r="1.36"/><circle cx="171.8" cy="341.3" r="1.36"/><circle cx="168.5" cy="345.2" r="1.36"/><circle cx="173.4" cy="344.6" r="1.36"/><circle cx="175.0" cy="346.8" r="1.36"/><circle cx="163.1" cy="347.9" r="1.36"/><circle cx="165.8" cy="349.0" r="1.36"/><circle cx="169.6" cy="347.9" r="1.36"/><circle cx="171.8" cy="349.0" r="1.36"/><circle cx="175.0" cy="350.0" r="1.36"/><circle cx="161.5" cy="351.1" r="1.36"/><circle cx="163.1" cy="352.8" r="1.36"/><circle cx="165.3" cy="351.7" r="1.36"/><circle cx="166.9" cy="353.3" r="1.36"/><circle cx="169.6" cy="352.2" r="1.36"/><circle cx="172.3" cy="353.8" r="1.36"/><circle cx="175.0" cy="353.3" r="1.36"/><circle cx="162.0" cy="353.3" r="1.36"/><circle cx="165.8" cy="354.9" r="1.36"/><circle cx="168.5" cy="354.9" r="1.36"/><circle cx="174.0" cy="352.2" r="1.36"/><circle cx="156.6" cy="357.7" r="1.36"/><circle cx="164.7" cy="357.1" r="1.36"/><circle cx="168.0" cy="357.7" r="1.36"/><circle cx="163.1" cy="359.8" r="1.36"/><circle cx="161.5" cy="362.0" r="1.36"/><circle cx="153.3" cy="362.5" r="1.36"/><circle cx="157.1" cy="363.1" r="1.36"/><circle cx="151.1" cy="365.8" r="1.36"/><circle cx="153.3" cy="366.3" r="1.36"/><circle cx="158.7" cy="365.8" r="1.36"/><circle cx="163.6" cy="366.1" r="1.36"/><circle cx="154.4" cy="370.2" r="1.36"/><circle cx="157.1" cy="369.6" r="1.36"/><circle cx="159.8" cy="368.5" r="1.36"/><circle cx="160.4" cy="371.8" r="1.36"/><circle cx="156.0" cy="372.9" r="1.36"/><circle cx="162.0" cy="374.5" r="1.36"/><circle cx="165.8" cy="374.0" r="1.36"/><circle cx="168.0" cy="375.0" r="1.36"/><circle cx="151.1" cy="375.0" r="1.36"/><circle cx="152.2" cy="377.8" r="1.36"/><circle cx="156.0" cy="377.8" r="1.36"/><circle cx="158.2" cy="378.8" r="1.36"/><circle cx="161.5" cy="378.3" r="1.36"/><circle cx="163.6" cy="379.4" r="1.36"/><circle cx="166.3" cy="377.8" r="1.36"/><circle cx="168.5" cy="378.8" r="1.36"/><circle cx="151.7" cy="380.5" r="1.36"/><circle cx="156.6" cy="380.5" r="1.36"/><circle cx="159.8" cy="379.9" r="1.36"/><circle cx="163.1" cy="381.0" r="1.36"/><circle cx="175.6" cy="379.9" r="1.36"/><circle cx="170.7" cy="346.2" r="1.36"/><circle cx="167.4" cy="350.6" r="1.36"/><circle cx="164.2" cy="350.0" r="1.36"/><circle cx="149.0" cy="384.3" r="1.36"/><circle cx="150.6" cy="383.8" r="1.36"/><circle cx="152.2" cy="383.3" r="1.36"/><circle cx="153.3" cy="384.9" r="1.36"/><circle cx="154.4" cy="382.7" r="1.36"/><circle cx="156.0" cy="384.9" r="1.36"/><circle cx="157.1" cy="382.2" r="1.36"/><circle cx="158.2" cy="384.3" r="1.36"/><circle cx="158.7" cy="383.3" r="1.36"/><circle cx="159.8" cy="381.6" r="1.36"/><circle cx="160.9" cy="383.8" r="1.36"/><circle cx="161.5" cy="382.7" r="1.36"/><circle cx="163.1" cy="381.6" r="1.36"/><circle cx="164.7" cy="380.5" r="1.36"/><circle cx="153.3" cy="386.5" r="1.36"/><circle cx="154.9" cy="387.6" r="1.36"/><circle cx="156.6" cy="387.1" r="1.36"/><circle cx="158.2" cy="386.5" r="1.36"/><circle cx="160.9" cy="387.1" r="1.36"/><circle cx="162.5" cy="385.4" r="1.36"/><circle cx="167.4" cy="384.3" r="1.36"/><circle cx="151.1" cy="389.8" r="1.36"/><circle cx="153.3" cy="390.3" r="1.36"/><circle cx="159.8" cy="392.5" r="1.36"/><circle cx="150.6" cy="394.1" r="1.36"/><circle cx="152.2" cy="395.8" r="1.36"/><circle cx="154.4" cy="394.7" r="1.36"/><circle cx="156.0" cy="396.8" r="1.36"/><circle cx="158.2" cy="396.3" r="1.36"/><circle cx="151.7" cy="399.0" r="1.36"/><circle cx="153.3" cy="400.1" r="1.36"/><circle cx="154.9" cy="399.0" r="1.36"/><circle cx="157.7" cy="400.1" r="1.36"/><circle cx="156.0" cy="402.3" r="1.36"/><circle cx="159.3" cy="403.4" r="1.36"/><circle cx="154.9" cy="405.0" r="1.36"/><circle cx="156.6" cy="406.1" r="1.36"/><circle cx="164.2" cy="394.7" r="1.36"/><circle cx="168.0" cy="393.6" r="1.36"/><circle cx="170.2" cy="393.6" r="1.36"/><circle cx="172.9" cy="392.0" r="1.36"/><circle cx="173.4" cy="396.8" r="1.36"/><circle cx="169.6" cy="400.7" r="1.36"/><circle cx="176.7" cy="405.0" r="1.36"/><circle cx="147.9" cy="408.3" r="1.36"/><circle cx="150.0" cy="408.8" r="1.36"/><circle cx="147.3" cy="411.0" r="1.36"/><circle cx="149.0" cy="411.5" r="1.36"/><circle cx="150.6" cy="409.9" r="1.36"/><circle cx="152.2" cy="412.6" r="1.36"/><circle cx="153.8" cy="411.5" r="1.36"/><circle cx="155.5" cy="412.6" r="1.36"/><circle cx="151.1" cy="414.8" r="1.36"/><circle cx="153.3" cy="415.3" r="1.36"/><circle cx="154.9" cy="414.2" r="1.36"/><circle cx="150.0" cy="417.0" r="1.36"/><circle cx="151.7" cy="417.5" r="1.36"/><circle cx="153.3" cy="418.0" r="1.36"/><circle cx="156.0" cy="417.0" r="1.36"/><circle cx="158.2" cy="415.9" r="1.36"/><circle cx="159.8" cy="417.5" r="1.36"/><circle cx="162.0" cy="418.0" r="1.36"/><circle cx="147.9" cy="418.6" r="1.36"/><circle cx="149.0" cy="420.8" r="1.36"/><circle cx="151.1" cy="420.2" r="1.36"/><circle cx="153.3" cy="420.8" r="1.36"/><circle cx="154.9" cy="421.8" r="1.36"/><circle cx="150.0" cy="421.8" r="1.36"/><circle cx="158.7" cy="420.2" r="1.36"/><circle cx="152.2" cy="422.9" r="1.36"/><circle cx="148.4" cy="415.9" r="1.36"/><circle cx="154.4" cy="419.1" r="1.36"/><circle cx="150.6" cy="419.1" r="1.36"/><circle cx="192.2" cy="345.1" r="1.36"/><circle cx="193.0" cy="343.5" r="1.36"/><circle cx="191.4" cy="346.7" r="1.36"/><circle cx="194.7" cy="349.6" r="1.36"/><circle cx="197.9" cy="344.8" r="1.36"/><circle cx="199.5" cy="344.3" r="1.36"/><circle cx="201.1" cy="343.8" r="1.36"/><circle cx="203.5" cy="343.5" r="1.36"/><circle cx="205.2" cy="343.1" r="1.36"/><circle cx="209.2" cy="343.5" r="1.36"/><circle cx="209.2" cy="345.9" r="1.36"/><circle cx="210.0" cy="347.5" r="1.36"/><circle cx="214.0" cy="345.1" r="1.36"/><circle cx="215.7" cy="344.3" r="1.36"/><circle cx="217.3" cy="345.9" r="1.36"/><circle cx="218.9" cy="344.8" r="1.36"/><circle cx="220.5" cy="345.1" r="1.36"/><circle cx="221.3" cy="347.0" r="1.36"/><circle cx="222.9" cy="344.8" r="1.36"/><circle cx="223.7" cy="345.9" r="1.36"/><circle cx="225.3" cy="349.6" r="1.36"/><circle cx="227.0" cy="349.1" r="1.36"/><circle cx="228.6" cy="348.6" r="1.36"/><circle cx="227.8" cy="353.2" r="1.36"/><circle cx="231.8" cy="350.7" r="1.36"/><circle cx="233.4" cy="349.1" r="1.36"/><circle cx="235.0" cy="348.6" r="1.36"/><circle cx="232.6" cy="353.2" r="1.36"/><circle cx="235.0" cy="352.8" r="1.36"/><circle cx="231.0" cy="352.3" r="1.36"/><circle cx="207.1" cy="357.2" r="1.36"/><circle cx="210.8" cy="356.7" r="1.36"/><circle cx="211.6" cy="358.8" r="1.36"/><circle cx="213.2" cy="357.2" r="1.36"/><circle cx="211.6" cy="362.8" r="1.36"/><circle cx="218.9" cy="361.2" r="1.36"/><circle cx="219.7" cy="356.4" r="1.36"/><circle cx="224.5" cy="358.8" r="1.36"/><circle cx="232.6" cy="356.4" r="1.36"/><circle cx="217.3" cy="367.7" r="1.36"/><circle cx="219.7" cy="371.7" r="1.36"/><circle cx="222.9" cy="371.2" r="1.36"/><circle cx="222.1" cy="376.6" r="1.36"/><circle cx="227.8" cy="373.3" r="1.36"/><circle cx="228.6" cy="375.8" r="1.36"/><circle cx="228.6" cy="377.4" r="1.36"/><circle cx="226.2" cy="379.8" r="1.36"/><circle cx="191.4" cy="373.8" r="1.36"/><circle cx="195.5" cy="375.8" r="1.36"/><circle cx="197.9" cy="378.7" r="1.36"/><circle cx="201.6" cy="375.0" r="1.36"/><circle cx="205.2" cy="379.3" r="1.36"/><circle cx="213.2" cy="381.4" r="1.36"/><circle cx="201.1" cy="385.5" r="1.36"/><circle cx="205.2" cy="384.7" r="1.36"/><circle cx="205.2" cy="386.3" r="1.36"/><circle cx="203.5" cy="388.4" r="1.36"/><circle cx="208.4" cy="388.7" r="1.36"/><circle cx="211.6" cy="388.7" r="1.36"/><circle cx="210.8" cy="391.1" r="1.36"/><circle cx="202.7" cy="390.3" r="1.36"/><circle cx="194.7" cy="393.2" r="1.36"/><circle cx="199.5" cy="396.8" r="1.36"/><circle cx="202.7" cy="398.1" r="1.36"/><circle cx="204.3" cy="398.4" r="1.36"/><circle cx="207.6" cy="400.8" r="1.36"/><circle cx="208.4" cy="403.2" r="1.36"/><circle cx="193.0" cy="406.5" r="1.36"/><circle cx="190.6" cy="408.1" r="1.36"/><circle cx="197.9" cy="405.7" r="1.36"/><circle cx="206.0" cy="406.8" r="1.36"/><circle cx="193.8" cy="414.5" r="1.36"/><circle cx="196.3" cy="414.2" r="1.36"/><circle cx="201.1" cy="416.5" r="1.36"/><circle cx="206.0" cy="413.7" r="1.36"/><circle cx="208.4" cy="412.1" r="1.36"/><circle cx="209.2" cy="417.0" r="1.36"/><circle cx="214.0" cy="414.2" r="1.36"/><circle cx="197.1" cy="421.0" r="1.36"/></g><polyline clip-path="url(#ck)" points="141.00,421.60 141.06,421.00 141.14,420.23 141.22,419.32 141.31,418.31 141.42,417.21 141.53,416.04 141.65,414.85 141.79,413.65 141.93,412.47 142.08,411.33 142.23,410.27 142.40,409.30 142.57,408.40 142.75,407.53 142.93,406.68 143.13,405.85 143.33,405.04 143.54,404.24 143.76,403.47 144.00,402.71 144.25,401.96 144.51,401.23 144.80,400.51 145.10,399.80 145.42,399.11 145.76,398.44 146.11,397.79 146.47,397.16 146.85,396.54 147.24,395.93 147.65,395.33 148.07,394.74 148.51,394.16 148.96,393.57 149.42,392.99 149.90,392.40 150.39,391.81 150.89,391.22 151.40,390.64 151.92,390.06 152.45,389.49 153.01,388.92 153.57,388.35 154.16,387.79 154.76,387.24 155.39,386.69 156.03,386.14 156.70,385.60 157.39,385.06 158.11,384.53 158.85,384.00 159.62,383.47 160.40,382.94 161.20,382.43 162.01,381.91 162.84,381.41 163.67,380.92 164.51,380.43 165.35,379.96 166.20,379.50 167.05,379.05 167.91,378.62 168.78,378.20 169.66,377.79 170.55,377.39 171.44,377.00 172.35,376.61 173.26,376.23 174.19,375.85 175.12,375.47 176.05,375.09 177.00,374.70 177.96,374.31 178.94,373.93 179.93,373.55 180.93,373.17 181.94,372.79 182.96,372.42 183.97,372.05 184.99,371.67 186.01,371.30 187.02,370.93 188.01,370.57 189.00,370.20 189.96,369.84 190.90,369.48 191.82,369.14 192.72,368.79 193.62,368.45 194.53,368.11 195.45,367.76 196.39,367.41 197.36,367.05 198.36,366.68 199.40,366.30 200.50,365.90 201.64,365.49 202.80,365.06 203.99,364.62 205.20,364.17 206.44,363.71 207.71,363.24 209.01,362.78 210.34,362.31 211.71,361.85 213.10,361.39 214.53,360.94 216.00,360.50 217.58,360.05 219.32,359.59 221.17,359.10 223.10,358.62 225.07,358.14 227.02,357.66 228.92,357.21 230.72,356.78 232.38,356.39 233.86,356.04 235.11,355.74 236.10,355.50" fill="none" stroke="#f36a6e" stroke-width="1.2" stroke-linejoin="round"/><rect x="137.20" y="337.40" width="104.20" height="88.80" fill="none" stroke="#c6c6c6" stroke-width="1.35"/><text class="tk" x="141.40" y="430.80" font-size="4.50" text-anchor="middle">0</text><text class="tk" x="165.35" y="430.80" font-size="4.50" text-anchor="middle">5</text><text class="tk" x="189.30" y="430.80" font-size="4.50" text-anchor="middle">10</text><text class="tk" x="213.25" y="430.80" font-size="4.50" text-anchor="middle">15</text><text class="tk" x="237.20" y="430.80" font-size="4.50" text-anchor="middle">20</text><text class="tk" x="135.60" y="423.60" font-size="4.50" text-anchor="end">0.0</text><text class="tk" x="135.60" y="411.91" font-size="4.50" text-anchor="end">0.1</text><text class="tk" x="135.60" y="400.22" font-size="4.50" text-anchor="end">0.2</text><text class="tk" x="135.60" y="388.53" font-size="4.50" text-anchor="end">0.3</text><text class="tk" x="135.60" y="376.84" font-size="4.50" text-anchor="end">0.4</text><text class="tk" x="135.60" y="365.15" font-size="4.50" text-anchor="end">0.5</text><text class="tk" x="135.60" y="353.46" font-size="4.50" text-anchor="end">0.6</text><text class="tk" x="135.60" y="341.77" font-size="4.50" text-anchor="end">0.7</text><path d="M141.40 426.50v1.6M165.35 426.50v1.6M189.30 426.50v1.6M213.25 426.50v1.6M237.20 426.50v1.6M136.90 422.10h-1.6M136.90 410.41h-1.6M136.90 398.72h-1.6M136.90 387.03h-1.6M136.90 375.34h-1.6M136.90 363.65h-1.6M136.90 351.96h-1.6M136.90 340.27h-1.6" stroke="#8a8a8a" stroke-width="0.55" fill="none"/><text class="ti" x="190.90" y="336.30" font-size="5.40" text-anchor="middle">(k)US−Me2</text><text class="xl" x="189.30" y="436.56" font-size="4.80" text-anchor="middle">VPD(kPa)</text><text transform="translate(127.50 381.80) rotate(-90)" font-size="4.90" text-anchor="middle">T/ET</text></g><g><clipPath id="cl"><rect x="258.50" y="337.40" width="103.90" height="88.80"/></clipPath><text class="r2" x="360.50" y="419.30" font-size="4.25" text-anchor="end">R<tspan font-size="3.2" dy="-1.6">2</tspan><tspan dy="1.6"> = 0.04</tspan></text><g clip-path="url(#cl)" fill="#3266f4"><circle cx="270.9" cy="341.8" r="1.36"/><circle cx="274.9" cy="341.3" r="1.36"/><circle cx="270.6" cy="344.9" r="1.36"/><circle cx="276.0" cy="344.5" r="1.36"/><circle cx="277.0" cy="347.2" r="1.36"/><circle cx="296.4" cy="346.8" r="1.36"/><circle cx="307.3" cy="347.2" r="1.36"/><circle cx="269.5" cy="349.2" r="1.36"/><circle cx="270.9" cy="350.6" r="1.36"/><circle cx="273.6" cy="350.6" r="1.36"/><circle cx="275.6" cy="351.7" r="1.36"/><circle cx="280.1" cy="351.3" r="1.36"/><circle cx="268.8" cy="355.3" r="1.36"/><circle cx="272.2" cy="354.7" r="1.36"/><circle cx="274.9" cy="356.0" r="1.36"/><circle cx="277.0" cy="356.7" r="1.36"/><circle cx="280.4" cy="354.7" r="1.36"/><circle cx="282.4" cy="355.3" r="1.36"/><circle cx="283.8" cy="357.4" r="1.36"/><circle cx="285.8" cy="356.7" r="1.36"/><circle cx="289.9" cy="357.4" r="1.36"/><circle cx="271.5" cy="358.7" r="1.36"/><circle cx="273.6" cy="358.7" r="1.36"/><circle cx="277.7" cy="359.4" r="1.36"/><circle cx="279.7" cy="360.1" r="1.36"/><circle cx="281.7" cy="359.4" r="1.36"/><circle cx="285.1" cy="360.8" r="1.36"/><circle cx="286.5" cy="362.1" r="1.36"/><circle cx="290.6" cy="362.1" r="1.36"/><circle cx="297.4" cy="358.7" r="1.36"/><circle cx="299.4" cy="359.4" r="1.36"/><circle cx="301.4" cy="360.1" r="1.36"/><circle cx="303.5" cy="358.1" r="1.36"/><circle cx="306.9" cy="358.7" r="1.36"/><circle cx="298.0" cy="361.5" r="1.36"/><circle cx="300.8" cy="362.1" r="1.36"/><circle cx="304.2" cy="361.5" r="1.36"/><circle cx="306.2" cy="363.5" r="1.36"/><circle cx="308.9" cy="362.8" r="1.36"/><circle cx="266.1" cy="364.9" r="1.36"/><circle cx="273.6" cy="362.1" r="1.36"/><circle cx="274.9" cy="364.2" r="1.36"/><circle cx="277.0" cy="364.9" r="1.36"/><circle cx="279.0" cy="363.5" r="1.36"/><circle cx="280.4" cy="365.5" r="1.36"/><circle cx="283.1" cy="364.2" r="1.36"/><circle cx="284.5" cy="366.2" r="1.36"/><circle cx="287.2" cy="365.5" r="1.36"/><circle cx="289.9" cy="364.9" r="1.36"/><circle cx="292.6" cy="366.2" r="1.36"/><circle cx="296.0" cy="364.9" r="1.36"/><circle cx="298.7" cy="366.2" r="1.36"/><circle cx="302.1" cy="365.5" r="1.36"/><circle cx="308.2" cy="365.5" r="1.36"/><circle cx="272.2" cy="367.6" r="1.36"/><circle cx="274.3" cy="368.2" r="1.36"/><circle cx="276.3" cy="367.6" r="1.36"/><circle cx="279.0" cy="368.9" r="1.36"/><circle cx="281.7" cy="367.6" r="1.36"/><circle cx="285.8" cy="368.9" r="1.36"/><circle cx="289.2" cy="368.2" r="1.36"/><circle cx="293.3" cy="367.6" r="1.36"/><circle cx="300.8" cy="368.9" r="1.36"/><circle cx="304.8" cy="368.2" r="1.36"/><circle cx="308.2" cy="369.6" r="1.36"/><circle cx="266.1" cy="372.3" r="1.36"/><circle cx="270.9" cy="371.0" r="1.36"/><circle cx="273.6" cy="371.0" r="1.36"/><circle cx="276.3" cy="371.6" r="1.36"/><circle cx="279.0" cy="371.0" r="1.36"/><circle cx="281.7" cy="372.3" r="1.36"/><circle cx="284.5" cy="371.0" r="1.36"/><circle cx="290.6" cy="373.0" r="1.36"/><circle cx="294.0" cy="372.3" r="1.36"/><circle cx="297.4" cy="371.6" r="1.36"/><circle cx="300.8" cy="373.0" r="1.36"/><circle cx="303.5" cy="372.3" r="1.36"/><circle cx="306.9" cy="371.0" r="1.36"/><circle cx="272.2" cy="374.4" r="1.36"/><circle cx="277.7" cy="373.7" r="1.36"/><circle cx="281.1" cy="374.4" r="1.36"/><circle cx="271.5" cy="376.4" r="1.36"/><circle cx="285.1" cy="377.1" r="1.36"/><circle cx="294.0" cy="376.4" r="1.36"/><circle cx="298.7" cy="377.8" r="1.36"/><circle cx="304.8" cy="376.4" r="1.36"/><circle cx="308.9" cy="374.4" r="1.36"/><circle cx="266.1" cy="379.8" r="1.36"/><circle cx="268.2" cy="380.5" r="1.36"/><circle cx="274.9" cy="379.1" r="1.36"/><circle cx="277.7" cy="381.2" r="1.36"/><circle cx="282.4" cy="379.1" r="1.36"/><circle cx="287.2" cy="380.5" r="1.36"/><circle cx="302.1" cy="380.5" r="1.36"/><circle cx="306.9" cy="379.8" r="1.36"/><circle cx="272.2" cy="382.7" r="1.36"/><circle cx="274.9" cy="384.0" r="1.36"/><circle cx="279.0" cy="384.0" r="1.36"/><circle cx="283.1" cy="382.7" r="1.36"/><circle cx="292.6" cy="383.4" r="1.36"/><circle cx="296.7" cy="384.0" r="1.36"/><circle cx="268.2" cy="390.2" r="1.36"/><circle cx="268.8" cy="392.2" r="1.36"/><circle cx="274.3" cy="391.5" r="1.36"/><circle cx="276.3" cy="390.8" r="1.36"/><circle cx="283.8" cy="389.5" r="1.36"/><circle cx="285.1" cy="391.2" r="1.36"/><circle cx="289.9" cy="391.2" r="1.36"/><circle cx="293.3" cy="388.1" r="1.36"/><circle cx="308.9" cy="388.1" r="1.36"/><circle cx="280.4" cy="395.6" r="1.36"/><circle cx="283.1" cy="395.6" r="1.36"/><circle cx="284.5" cy="397.6" r="1.36"/><circle cx="287.2" cy="395.6" r="1.36"/><circle cx="291.2" cy="394.2" r="1.36"/><circle cx="302.8" cy="394.5" r="1.36"/><circle cx="283.8" cy="399.7" r="1.36"/><circle cx="290.6" cy="398.3" r="1.36"/><circle cx="291.9" cy="399.7" r="1.36"/><circle cx="293.3" cy="397.6" r="1.36"/><circle cx="281.1" cy="401.0" r="1.36"/><circle cx="282.4" cy="403.1" r="1.36"/><circle cx="292.6" cy="402.4" r="1.36"/><circle cx="306.9" cy="399.7" r="1.36"/><circle cx="306.9" cy="402.4" r="1.36"/><circle cx="265.4" cy="406.5" r="1.36"/><circle cx="267.5" cy="406.9" r="1.36"/><circle cx="274.9" cy="404.4" r="1.36"/><circle cx="275.6" cy="407.1" r="1.36"/><circle cx="278.3" cy="405.1" r="1.36"/><circle cx="282.4" cy="407.5" r="1.36"/><circle cx="291.2" cy="406.2" r="1.36"/><circle cx="285.1" cy="411.6" r="1.36"/><circle cx="273.6" cy="413.5" r="1.36"/><circle cx="263.4" cy="414.6" r="1.36"/><circle cx="282.4" cy="414.9" r="1.36"/><circle cx="268.2" cy="416.6" r="1.36"/><circle cx="264.1" cy="419.4" r="1.36"/><circle cx="265.4" cy="421.7" r="1.36"/><circle cx="276.0" cy="421.1" r="1.36"/><circle cx="282.4" cy="419.8" r="1.36"/><circle cx="318.1" cy="354.0" r="1.36"/><circle cx="322.9" cy="352.3" r="1.36"/><circle cx="324.5" cy="353.2" r="1.36"/><circle cx="325.3" cy="354.4" r="1.36"/><circle cx="334.2" cy="351.5" r="1.36"/><circle cx="341.5" cy="353.2" r="1.36"/><circle cx="319.7" cy="357.2" r="1.36"/><circle cx="321.3" cy="358.8" r="1.36"/><circle cx="320.5" cy="361.2" r="1.36"/><circle cx="326.2" cy="358.0" r="1.36"/><circle cx="328.6" cy="355.6" r="1.36"/><circle cx="330.2" cy="357.2" r="1.36"/><circle cx="329.4" cy="359.6" r="1.36"/><circle cx="335.0" cy="357.7" r="1.36"/><circle cx="345.5" cy="359.6" r="1.36"/><circle cx="357.7" cy="361.2" r="1.36"/><circle cx="312.4" cy="360.4" r="1.36"/><circle cx="310.8" cy="363.7" r="1.36"/><circle cx="316.5" cy="360.4" r="1.36"/><circle cx="314.8" cy="365.3" r="1.36"/><circle cx="317.3" cy="366.1" r="1.36"/><circle cx="315.7" cy="367.7" r="1.36"/><circle cx="322.1" cy="362.8" r="1.36"/><circle cx="323.7" cy="364.5" r="1.36"/><circle cx="321.3" cy="364.5" r="1.36"/><circle cx="327.8" cy="366.1" r="1.36"/><circle cx="327.0" cy="367.7" r="1.36"/><circle cx="333.4" cy="364.1" r="1.36"/><circle cx="343.9" cy="366.9" r="1.36"/><circle cx="346.3" cy="365.8" r="1.36"/><circle cx="310.8" cy="370.9" r="1.36"/><circle cx="313.2" cy="370.1" r="1.36"/><circle cx="312.4" cy="373.8" r="1.36"/><circle cx="317.3" cy="373.3" r="1.36"/><circle cx="319.7" cy="370.1" r="1.36"/><circle cx="318.1" cy="371.7" r="1.36"/><circle cx="330.2" cy="369.3" r="1.36"/><circle cx="336.7" cy="369.3" r="1.36"/><circle cx="336.7" cy="371.2" r="1.36"/><circle cx="344.7" cy="370.1" r="1.36"/><circle cx="353.3" cy="369.3" r="1.36"/><circle cx="348.0" cy="373.3" r="1.36"/><circle cx="322.1" cy="375.0" r="1.36"/><circle cx="325.3" cy="375.0" r="1.36"/><circle cx="330.2" cy="372.5" r="1.36"/><circle cx="335.0" cy="376.6" r="1.36"/><circle cx="311.6" cy="380.6" r="1.36"/><circle cx="322.1" cy="380.6" r="1.36"/><circle cx="319.7" cy="382.2" r="1.36"/><circle cx="321.3" cy="383.8" r="1.36"/><circle cx="336.7" cy="383.0" r="1.36"/><circle cx="337.5" cy="384.7" r="1.36"/><circle cx="310.8" cy="385.5" r="1.36"/><circle cx="332.6" cy="396.0" r="1.36"/><circle cx="312.4" cy="403.2" r="1.36"/><circle cx="331.0" cy="408.4" r="1.36"/><circle cx="319.4" cy="413.7" r="1.36"/><circle cx="313.2" cy="421.0" r="1.36"/></g><polyline clip-path="url(#cl)" points="262.70,421.30 262.70,420.34 262.71,419.12 262.71,417.66 262.71,416.03 262.71,414.26 262.72,412.40 262.72,410.50 262.73,408.61 262.74,406.76 262.76,405.02 262.78,403.41 262.80,402.00 262.82,400.73 262.85,399.53 262.87,398.40 262.90,397.32 262.93,396.29 262.96,395.31 263.00,394.36 263.04,393.45 263.10,392.56 263.15,391.70 263.22,390.84 263.30,390.00 263.39,389.17 263.48,388.36 263.57,387.57 263.68,386.80 263.79,386.06 263.91,385.35 264.03,384.67 264.17,384.02 264.31,383.41 264.46,382.83 264.63,382.30 264.80,381.80 264.98,381.35 265.18,380.96 265.38,380.62 265.59,380.31 265.81,380.05 266.04,379.81 266.28,379.59 266.53,379.39 266.79,379.19 267.05,379.00 267.32,378.81 267.60,378.60 267.86,378.40 268.09,378.23 268.29,378.07 268.49,377.93 268.70,377.79 268.93,377.66 269.19,377.53 269.51,377.40 269.90,377.25 270.36,377.09 270.93,376.91 271.60,376.70 272.40,376.46 273.31,376.20 274.33,375.91 275.42,375.60 276.59,375.28 277.80,374.96 279.05,374.64 280.31,374.33 281.57,374.04 282.82,373.76 284.04,373.51 285.20,373.30 286.34,373.12 287.49,372.96 288.66,372.82 289.82,372.69 290.99,372.58 292.15,372.49 293.30,372.40 294.44,372.32 295.57,372.24 296.67,372.16 297.75,372.08 298.80,372.00 299.78,371.92 300.66,371.85 301.46,371.79 302.23,371.74 302.98,371.69 303.74,371.64 304.53,371.59 305.39,371.53 306.34,371.47 307.41,371.39 308.62,371.30 310.00,371.20 311.57,371.08 313.31,370.94 315.19,370.79 317.19,370.63 319.28,370.46 321.44,370.28 323.63,370.10 325.83,369.93 328.01,369.76 330.16,369.59 332.23,369.44 334.20,369.30 336.17,369.17 338.22,369.03 340.33,368.90 342.45,368.77 344.56,368.65 346.61,368.53 348.58,368.42 350.44,368.31 352.14,368.22 353.66,368.13 354.95,368.06 356.00,368.00" fill="none" stroke="#f36a6e" stroke-width="1.2" stroke-linejoin="round"/><rect x="258.50" y="337.40" width="103.90" height="88.80" fill="none" stroke="#c6c6c6" stroke-width="1.35"/><text class="tk" x="263.20" y="430.80" font-size="4.50" text-anchor="middle">0</text><text class="tk" x="281.94" y="430.80" font-size="4.50" text-anchor="middle">5</text><text class="tk" x="300.68" y="430.80" font-size="4.50" text-anchor="middle">10</text><text class="tk" x="319.42" y="430.80" font-size="4.50" text-anchor="middle">15</text><text class="tk" x="338.16" y="430.80" font-size="4.50" text-anchor="middle">20</text><text class="tk" x="356.90" y="430.80" font-size="4.50" text-anchor="middle">25</text><text class="tk" x="256.90" y="423.60" font-size="4.50" text-anchor="end">0.0</text><text class="tk" x="256.90" y="413.50" font-size="4.50" text-anchor="end">0.1</text><text class="tk" x="256.90" y="403.40" font-size="4.50" text-anchor="end">0.2</text><text class="tk" x="256.90" y="393.30" font-size="4.50" text-anchor="end">0.3</text><text class="tk" x="256.90" y="383.20" font-size="4.50" text-anchor="end">0.4</text><text class="tk" x="256.90" y="373.10" font-size="4.50" text-anchor="end">0.5</text><text class="tk" x="256.90" y="363.00" font-size="4.50" text-anchor="end">0.6</text><text class="tk" x="256.90" y="352.90" font-size="4.50" text-anchor="end">0.7</text><text class="tk" x="256.90" y="342.80" font-size="4.50" text-anchor="end">0.8</text><path d="M263.20 426.50v1.6M281.94 426.50v1.6M300.68 426.50v1.6M319.42 426.50v1.6M338.16 426.50v1.6M356.90 426.50v1.6M258.20 422.10h-1.6M258.20 412.00h-1.6M258.20 401.90h-1.6M258.20 391.80h-1.6M258.20 381.70h-1.6M258.20 371.60h-1.6M258.20 361.50h-1.6M258.20 351.40h-1.6M258.20 341.30h-1.6" stroke="#8a8a8a" stroke-width="0.55" fill="none"/><text class="ti" x="312.05" y="336.30" font-size="5.40" text-anchor="middle">(l)US−Me4</text><text class="xl" x="310.45" y="436.56" font-size="4.80" text-anchor="middle">VPD(kPa)</text><text transform="translate(248.80 381.80) rotate(-90)" font-size="4.90" text-anchor="middle">T/ET</text></g><g><clipPath id="cm"><rect x="16.30" y="446.50" width="104.20" height="88.80"/></clipPath><text class="r2" x="112.60" y="528.50" font-size="4.25" text-anchor="end">R<tspan font-size="3.2" dy="-1.6">2</tspan><tspan dy="1.6"> = 0.24</tspan></text><g clip-path="url(#cm)" fill="#3266f4"><circle cx="41.8" cy="450.3" r="1.36"/><circle cx="38.4" cy="454.4" r="1.36"/><circle cx="40.4" cy="453.5" r="1.36"/><circle cx="42.5" cy="452.8" r="1.36"/><circle cx="30.9" cy="455.2" r="1.36"/><circle cx="39.7" cy="456.9" r="1.36"/><circle cx="41.8" cy="457.5" r="1.36"/><circle cx="45.2" cy="455.5" r="1.36"/><circle cx="47.2" cy="454.4" r="1.36"/><circle cx="49.2" cy="456.2" r="1.36"/><circle cx="52.0" cy="457.5" r="1.36"/><circle cx="54.7" cy="458.9" r="1.36"/><circle cx="58.1" cy="455.5" r="1.36"/><circle cx="60.1" cy="456.2" r="1.36"/><circle cx="62.8" cy="456.9" r="1.36"/><circle cx="64.9" cy="452.1" r="1.36"/><circle cx="66.2" cy="455.5" r="1.36"/><circle cx="67.6" cy="458.2" r="1.36"/><circle cx="64.9" cy="458.9" r="1.36"/><circle cx="33.6" cy="458.9" r="1.36"/><circle cx="43.8" cy="459.6" r="1.36"/><circle cx="45.9" cy="460.3" r="1.36"/><circle cx="48.6" cy="459.6" r="1.36"/><circle cx="50.6" cy="460.9" r="1.36"/><circle cx="53.3" cy="460.9" r="1.36"/><circle cx="43.1" cy="462.3" r="1.36"/><circle cx="45.2" cy="463.7" r="1.36"/><circle cx="49.2" cy="463.7" r="1.36"/><circle cx="52.0" cy="465.0" r="1.36"/><circle cx="54.0" cy="465.7" r="1.36"/><circle cx="61.5" cy="462.3" r="1.36"/><circle cx="64.2" cy="463.0" r="1.36"/><circle cx="66.2" cy="463.7" r="1.36"/><circle cx="26.2" cy="468.4" r="1.36"/><circle cx="28.9" cy="467.7" r="1.36"/><circle cx="31.6" cy="467.1" r="1.36"/><circle cx="38.4" cy="467.1" r="1.36"/><circle cx="41.8" cy="466.4" r="1.36"/><circle cx="45.2" cy="467.1" r="1.36"/><circle cx="65.6" cy="467.7" r="1.36"/><circle cx="30.2" cy="471.1" r="1.36"/><circle cx="32.9" cy="471.8" r="1.36"/><circle cx="54.0" cy="471.1" r="1.36"/><circle cx="30.9" cy="473.9" r="1.36"/><circle cx="32.9" cy="475.2" r="1.36"/><circle cx="35.7" cy="473.9" r="1.36"/><circle cx="38.4" cy="474.5" r="1.36"/><circle cx="40.4" cy="475.9" r="1.36"/><circle cx="47.2" cy="474.5" r="1.36"/><circle cx="49.2" cy="473.9" r="1.36"/><circle cx="30.9" cy="477.9" r="1.36"/><circle cx="33.6" cy="477.2" r="1.36"/><circle cx="36.3" cy="477.9" r="1.36"/><circle cx="39.1" cy="478.6" r="1.36"/><circle cx="42.5" cy="477.9" r="1.36"/><circle cx="32.3" cy="480.6" r="1.36"/><circle cx="35.0" cy="481.3" r="1.36"/><circle cx="38.4" cy="480.6" r="1.36"/><circle cx="45.2" cy="482.7" r="1.36"/><circle cx="50.6" cy="482.4" r="1.36"/><circle cx="30.2" cy="484.7" r="1.36"/><circle cx="32.9" cy="484.0" r="1.36"/><circle cx="35.7" cy="485.4" r="1.36"/><circle cx="38.4" cy="484.7" r="1.36"/><circle cx="33.6" cy="487.4" r="1.36"/><circle cx="36.3" cy="488.1" r="1.36"/><circle cx="58.8" cy="486.8" r="1.36"/><circle cx="62.8" cy="488.1" r="1.36"/><circle cx="65.6" cy="486.1" r="1.36"/><circle cx="27.5" cy="490.2" r="1.36"/><circle cx="35.0" cy="490.2" r="1.36"/><circle cx="45.2" cy="489.5" r="1.36"/><circle cx="55.4" cy="490.2" r="1.36"/><circle cx="26.8" cy="491.7" r="1.36"/><circle cx="31.6" cy="492.4" r="1.36"/><circle cx="33.6" cy="493.7" r="1.36"/><circle cx="39.7" cy="496.4" r="1.36"/><circle cx="43.1" cy="495.8" r="1.36"/><circle cx="44.5" cy="498.5" r="1.36"/><circle cx="46.5" cy="499.8" r="1.36"/><circle cx="51.3" cy="493.0" r="1.36"/><circle cx="55.4" cy="491.7" r="1.36"/><circle cx="58.8" cy="493.7" r="1.36"/><circle cx="62.2" cy="494.4" r="1.36"/><circle cx="64.9" cy="492.4" r="1.36"/><circle cx="26.8" cy="500.5" r="1.36"/><circle cx="29.5" cy="499.2" r="1.36"/><circle cx="32.3" cy="498.5" r="1.36"/><circle cx="38.4" cy="499.8" r="1.36"/><circle cx="58.8" cy="497.8" r="1.36"/><circle cx="60.1" cy="501.9" r="1.36"/><circle cx="62.8" cy="501.2" r="1.36"/><circle cx="65.6" cy="498.5" r="1.36"/><circle cx="66.2" cy="503.9" r="1.36"/><circle cx="35.7" cy="503.9" r="1.36"/><circle cx="37.7" cy="503.2" r="1.36"/><circle cx="47.2" cy="503.2" r="1.36"/><circle cx="49.2" cy="504.6" r="1.36"/><circle cx="52.0" cy="503.9" r="1.36"/><circle cx="54.7" cy="505.9" r="1.36"/><circle cx="58.1" cy="503.9" r="1.36"/><circle cx="61.5" cy="503.2" r="1.36"/><circle cx="31.6" cy="507.3" r="1.36"/><circle cx="33.6" cy="508.0" r="1.36"/><circle cx="29.5" cy="510.0" r="1.36"/><circle cx="41.8" cy="508.7" r="1.36"/><circle cx="46.5" cy="509.3" r="1.36"/><circle cx="48.6" cy="508.0" r="1.36"/><circle cx="51.3" cy="510.7" r="1.36"/><circle cx="56.0" cy="508.7" r="1.36"/><circle cx="66.2" cy="508.7" r="1.36"/><circle cx="26.2" cy="511.4" r="1.36"/><circle cx="28.9" cy="512.1" r="1.36"/><circle cx="31.6" cy="512.7" r="1.36"/><circle cx="35.0" cy="512.1" r="1.36"/><circle cx="24.1" cy="514.8" r="1.36"/><circle cx="26.8" cy="515.5" r="1.36"/><circle cx="29.5" cy="514.8" r="1.36"/><circle cx="32.3" cy="515.5" r="1.36"/><circle cx="34.3" cy="517.5" r="1.36"/><circle cx="37.0" cy="515.5" r="1.36"/><circle cx="41.1" cy="516.8" r="1.36"/><circle cx="62.2" cy="515.5" r="1.36"/><circle cx="23.4" cy="518.2" r="1.36"/><circle cx="26.2" cy="518.9" r="1.36"/><circle cx="28.9" cy="519.5" r="1.36"/><circle cx="31.6" cy="518.9" r="1.36"/><circle cx="33.6" cy="520.2" r="1.36"/><circle cx="22.8" cy="521.6" r="1.36"/><circle cx="25.5" cy="522.2" r="1.36"/><circle cx="28.2" cy="521.6" r="1.36"/><circle cx="30.9" cy="522.9" r="1.36"/><circle cx="36.3" cy="521.6" r="1.36"/><circle cx="41.8" cy="520.2" r="1.36"/><circle cx="45.2" cy="522.9" r="1.36"/><circle cx="65.6" cy="519.5" r="1.36"/><circle cx="66.9" cy="521.6" r="1.36"/><circle cx="24.1" cy="525.0" r="1.36"/><circle cx="26.8" cy="525.6" r="1.36"/><circle cx="29.5" cy="525.0" r="1.36"/><circle cx="32.3" cy="526.3" r="1.36"/><circle cx="35.0" cy="524.3" r="1.36"/><circle cx="38.4" cy="525.0" r="1.36"/><circle cx="24.8" cy="527.7" r="1.36"/><circle cx="27.5" cy="528.4" r="1.36"/><circle cx="30.2" cy="527.7" r="1.36"/><circle cx="32.9" cy="529.0" r="1.36"/><circle cx="37.0" cy="528.4" r="1.36"/><circle cx="26.2" cy="530.4" r="1.36"/><circle cx="29.5" cy="531.1" r="1.36"/><circle cx="32.3" cy="530.4" r="1.36"/><circle cx="36.3" cy="530.4" r="1.36"/><circle cx="58.1" cy="528.8" r="1.36"/><circle cx="68.8" cy="452.5" r="1.36"/><circle cx="72.9" cy="454.2" r="1.36"/><circle cx="70.5" cy="455.8" r="1.36"/><circle cx="73.7" cy="456.6" r="1.36"/><circle cx="69.6" cy="459.1" r="1.36"/><circle cx="72.1" cy="459.9" r="1.36"/><circle cx="75.4" cy="458.3" r="1.36"/><circle cx="77.0" cy="457.5" r="1.36"/><circle cx="77.8" cy="455.8" r="1.36"/><circle cx="79.5" cy="456.6" r="1.36"/><circle cx="81.1" cy="457.5" r="1.36"/><circle cx="80.3" cy="459.1" r="1.36"/><circle cx="74.5" cy="461.5" r="1.36"/><circle cx="70.5" cy="462.4" r="1.36"/><circle cx="68.8" cy="463.2" r="1.36"/><circle cx="72.9" cy="463.2" r="1.36"/><circle cx="77.0" cy="462.4" r="1.36"/><circle cx="81.9" cy="463.2" r="1.36"/><circle cx="85.2" cy="451.7" r="1.36"/><circle cx="86.8" cy="457.5" r="1.36"/><circle cx="88.4" cy="460.7" r="1.36"/><circle cx="89.3" cy="462.4" r="1.36"/><circle cx="90.9" cy="463.2" r="1.36"/><circle cx="91.7" cy="466.4" r="1.36"/><circle cx="94.2" cy="461.5" r="1.36"/><circle cx="95.0" cy="459.9" r="1.36"/><circle cx="96.6" cy="459.1" r="1.36"/><circle cx="99.9" cy="454.2" r="1.36"/><circle cx="105.6" cy="458.3" r="1.36"/><circle cx="107.3" cy="456.6" r="1.36"/><circle cx="75.4" cy="465.6" r="1.36"/><circle cx="77.0" cy="467.3" r="1.36"/><circle cx="78.6" cy="468.9" r="1.36"/><circle cx="77.8" cy="471.4" r="1.36"/><circle cx="86.0" cy="470.5" r="1.36"/><circle cx="72.1" cy="474.6" r="1.36"/><circle cx="68.0" cy="466.4" r="1.36"/><circle cx="109.7" cy="467.3" r="1.36"/><circle cx="115.4" cy="472.2" r="1.36"/><circle cx="110.5" cy="474.6" r="1.36"/><circle cx="103.2" cy="474.6" r="1.36"/><circle cx="104.8" cy="474.6" r="1.36"/><circle cx="104.0" cy="477.9" r="1.36"/><circle cx="98.3" cy="482.0" r="1.36"/><circle cx="112.2" cy="481.2" r="1.36"/><circle cx="113.0" cy="485.3" r="1.36"/><circle cx="68.8" cy="482.0" r="1.36"/><circle cx="75.4" cy="483.6" r="1.36"/><circle cx="77.0" cy="485.3" r="1.36"/><circle cx="79.5" cy="486.1" r="1.36"/><circle cx="82.7" cy="487.7" r="1.36"/><circle cx="86.8" cy="488.9" r="1.36"/><circle cx="77.8" cy="489.8" r="1.36"/><circle cx="88.4" cy="494.3" r="1.36"/><circle cx="86.8" cy="496.7" r="1.36"/><circle cx="78.6" cy="496.4" r="1.36"/><circle cx="94.2" cy="504.6" r="1.36"/><circle cx="96.6" cy="508.5" r="1.36"/><circle cx="108.9" cy="509.8" r="1.36"/><circle cx="110.2" cy="513.9" r="1.36"/><circle cx="77.0" cy="505.2" r="1.36"/><circle cx="71.3" cy="509.0" r="1.36"/><circle cx="73.7" cy="515.5" r="1.36"/><circle cx="68.0" cy="522.1" r="1.36"/><circle cx="79.5" cy="524.5" r="1.36"/><circle cx="88.4" cy="521.6" r="1.36"/><circle cx="91.7" cy="530.2" r="1.36"/><circle cx="98.3" cy="531.1" r="1.36"/></g><polyline clip-path="url(#cm)" points="20.00,530.90 20.03,530.37 20.06,529.70 20.09,528.91 20.13,528.03 20.17,527.07 20.22,526.05 20.27,525.00 20.34,523.94 20.41,522.89 20.49,521.87 20.59,520.90 20.70,520.00 20.82,519.15 20.95,518.30 21.10,517.46 21.25,516.63 21.41,515.80 21.58,514.99 21.76,514.19 21.95,513.40 22.15,512.62 22.36,511.86 22.58,511.12 22.80,510.40 23.03,509.70 23.27,509.01 23.51,508.34 23.76,507.69 24.02,507.06 24.29,506.43 24.58,505.82 24.87,505.22 25.18,504.63 25.50,504.04 25.84,503.47 26.20,502.90 26.58,502.34 26.97,501.80 27.38,501.26 27.80,500.74 28.24,500.23 28.69,499.72 29.15,499.23 29.62,498.74 30.10,498.25 30.60,497.77 31.09,497.28 31.60,496.80 32.11,496.32 32.62,495.85 33.14,495.38 33.66,494.92 34.19,494.46 34.74,494.01 35.30,493.55 35.87,493.10 36.47,492.65 37.09,492.20 37.73,491.75 38.40,491.30 39.10,490.84 39.82,490.39 40.57,489.93 41.34,489.47 42.14,489.01 42.94,488.56 43.77,488.10 44.60,487.65 45.44,487.21 46.29,486.76 47.15,486.33 48.00,485.90 48.88,485.47 49.81,485.03 50.77,484.59 51.75,484.14 52.74,483.70 53.73,483.27 54.70,482.85 55.65,482.45 56.55,482.07 57.40,481.71 58.19,481.39 58.90,481.10 59.49,480.86 59.97,480.68 60.34,480.54 60.64,480.43 60.91,480.34 61.16,480.27 61.43,480.19 61.74,480.10 62.13,479.99 62.62,479.84 63.23,479.65 64.00,479.40 64.93,479.09 65.98,478.74 67.14,478.35 68.40,477.93 69.72,477.49 71.10,477.03 72.52,476.56 73.95,476.09 75.38,475.62 76.80,475.16 78.18,474.72 79.50,474.30 80.78,473.90 82.03,473.51 83.27,473.13 84.50,472.75 85.73,472.37 86.96,472.00 88.22,471.63 89.49,471.25 90.80,470.87 92.15,470.49 93.55,470.10 95.00,469.70 96.58,469.28 98.32,468.82 100.17,468.34 102.10,467.85 104.07,467.35 106.02,466.86 107.92,466.39 109.72,465.94 111.38,465.53 112.86,465.16 114.11,464.85 115.10,464.60" fill="none" stroke="#f36a6e" stroke-width="1.2" stroke-linejoin="round"/><rect x="16.30" y="446.50" width="104.20" height="88.80" fill="none" stroke="#c6c6c6" stroke-width="1.35"/><text class="tk" x="20.70" y="539.90" font-size="4.50" text-anchor="middle">0</text><text class="tk" x="39.80" y="539.90" font-size="4.50" text-anchor="middle">5</text><text class="tk" x="58.90" y="539.90" font-size="4.50" text-anchor="middle">10</text><text class="tk" x="78.00" y="539.90" font-size="4.50" text-anchor="middle">15</text><text class="tk" x="97.10" y="539.90" font-size="4.50" text-anchor="middle">20</text><text class="tk" x="116.20" y="539.90" font-size="4.50" text-anchor="middle">25</text><text class="tk" x="14.70" y="532.60" font-size="4.50" text-anchor="end">0.0</text><text class="tk" x="14.70" y="520.71" font-size="4.50" text-anchor="end">0.1</text><text class="tk" x="14.70" y="508.82" font-size="4.50" text-anchor="end">0.2</text><text class="tk" x="14.70" y="496.93" font-size="4.50" text-anchor="end">0.3</text><text class="tk" x="14.70" y="485.04" font-size="4.50" text-anchor="end">0.4</text><text class="tk" x="14.70" y="473.15" font-size="4.50" text-anchor="end">0.5</text><text class="tk" x="14.70" y="461.26" font-size="4.50" text-anchor="end">0.6</text><text class="tk" x="14.70" y="449.37" font-size="4.50" text-anchor="end">0.7</text><path d="M20.70 535.60v1.6M39.80 535.60v1.6M58.90 535.60v1.6M78.00 535.60v1.6M97.10 535.60v1.6M116.20 535.60v1.6M16.00 531.10h-1.6M16.00 519.21h-1.6M16.00 507.32h-1.6M16.00 495.43h-1.6M16.00 483.54h-1.6M16.00 471.65h-1.6M16.00 459.76h-1.6M16.00 447.87h-1.6" stroke="#8a8a8a" stroke-width="0.55" fill="none"/><text class="ti" x="70.00" y="445.90" font-size="5.40" text-anchor="middle">(m)US−Me5</text><text class="xl" x="68.40" y="545.88" font-size="4.80" text-anchor="middle">VPD(kPa)</text><text transform="translate(6.60 490.90) rotate(-90)" font-size="4.90" text-anchor="middle">T/ET</text></g><g><clipPath id="cn"><rect x="137.20" y="446.50" width="104.20" height="88.80"/></clipPath><text class="r2" x="236.90" y="527.70" font-size="4.25" text-anchor="end">R<tspan font-size="3.2" dy="-1.6">2</tspan><tspan dy="1.6"> = 0.04</tspan></text><g clip-path="url(#cn)" fill="#3266f4"><circle cx="163.5" cy="450.6" r="1.36"/><circle cx="167.3" cy="451.7" r="1.36"/><circle cx="169.4" cy="450.9" r="1.36"/><circle cx="172.2" cy="455.8" r="1.36"/><circle cx="175.9" cy="456.6" r="1.36"/><circle cx="177.6" cy="457.1" r="1.36"/><circle cx="184.4" cy="457.4" r="1.36"/><circle cx="162.3" cy="459.9" r="1.36"/><circle cx="165.1" cy="462.0" r="1.36"/><circle cx="174.3" cy="460.7" r="1.36"/><circle cx="171.0" cy="464.0" r="1.36"/><circle cx="173.0" cy="466.9" r="1.36"/><circle cx="175.4" cy="466.9" r="1.36"/><circle cx="183.6" cy="465.3" r="1.36"/><circle cx="184.8" cy="466.4" r="1.36"/><circle cx="160.7" cy="465.3" r="1.36"/><circle cx="159.1" cy="468.9" r="1.36"/><circle cx="159.9" cy="470.5" r="1.36"/><circle cx="163.2" cy="468.9" r="1.36"/><circle cx="167.3" cy="469.7" r="1.36"/><circle cx="160.7" cy="474.1" r="1.36"/><circle cx="178.7" cy="475.1" r="1.36"/><circle cx="188.0" cy="475.4" r="1.36"/><circle cx="180.8" cy="482.3" r="1.36"/><circle cx="168.1" cy="487.7" r="1.36"/><circle cx="169.4" cy="489.3" r="1.36"/><circle cx="175.9" cy="488.8" r="1.36"/><circle cx="156.3" cy="492.1" r="1.36"/><circle cx="161.2" cy="493.1" r="1.36"/><circle cx="175.4" cy="492.6" r="1.36"/><circle cx="163.5" cy="496.4" r="1.36"/><circle cx="159.9" cy="497.5" r="1.36"/><circle cx="160.2" cy="498.7" r="1.36"/><circle cx="159.6" cy="502.9" r="1.36"/><circle cx="157.9" cy="508.5" r="1.36"/><circle cx="189.0" cy="507.8" r="1.36"/><circle cx="162.8" cy="513.0" r="1.36"/><circle cx="165.6" cy="516.0" r="1.36"/><circle cx="186.9" cy="516.6" r="1.36"/><circle cx="159.1" cy="518.3" r="1.36"/><circle cx="156.3" cy="521.6" r="1.36"/><circle cx="163.2" cy="522.5" r="1.36"/><circle cx="156.6" cy="524.8" r="1.36"/><circle cx="158.3" cy="525.3" r="1.36"/><circle cx="159.1" cy="526.1" r="1.36"/><circle cx="163.5" cy="526.1" r="1.36"/><circle cx="155.0" cy="526.9" r="1.36"/><circle cx="172.2" cy="523.2" r="1.36"/><circle cx="175.4" cy="525.5" r="1.36"/><circle cx="177.9" cy="525.8" r="1.36"/><circle cx="158.6" cy="530.7" r="1.36"/><circle cx="164.0" cy="531.4" r="1.36"/><circle cx="195.5" cy="459.1" r="1.36"/><circle cx="196.4" cy="460.4" r="1.36"/><circle cx="191.9" cy="464.8" r="1.36"/><circle cx="189.0" cy="475.4" r="1.36"/><circle cx="202.1" cy="486.9" r="1.36"/><circle cx="203.7" cy="487.7" r="1.36"/><circle cx="207.8" cy="485.6" r="1.36"/><circle cx="205.0" cy="493.1" r="1.36"/><circle cx="220.4" cy="497.5" r="1.36"/><circle cx="189.8" cy="507.8" r="1.36"/><circle cx="231.2" cy="521.6" r="1.36"/><circle cx="224.2" cy="524.8" r="1.36"/></g><polyline clip-path="url(#cn)" points="141.20,531.10 141.21,530.62 141.21,530.02 141.22,529.31 141.23,528.52 141.23,527.66 141.24,526.74 141.26,525.80 141.27,524.85 141.30,523.90 141.32,522.98 141.36,522.11 141.40,521.30 141.45,520.53 141.50,519.76 141.55,519.00 141.60,518.24 141.66,517.49 141.73,516.74 141.80,516.01 141.89,515.30 141.97,514.59 142.07,513.91 142.18,513.24 142.30,512.60 142.43,511.97 142.57,511.37 142.71,510.77 142.87,510.19 143.03,509.63 143.20,509.08 143.38,508.55 143.57,508.03 143.76,507.53 143.97,507.04 144.18,506.56 144.40,506.10 144.63,505.66 144.86,505.24 145.09,504.85 145.33,504.47 145.58,504.11 145.84,503.76 146.12,503.42 146.40,503.08 146.70,502.74 147.01,502.40 147.35,502.06 147.70,501.70 148.07,501.34 148.45,500.97 148.85,500.61 149.26,500.24 149.69,499.88 150.13,499.51 150.59,499.15 151.06,498.79 151.55,498.44 152.05,498.09 152.57,497.74 153.10,497.40 153.65,497.06 154.23,496.72 154.82,496.39 155.43,496.06 156.06,495.73 156.69,495.40 157.34,495.08 158.00,494.77 158.67,494.46 159.34,494.16 160.02,493.88 160.70,493.60 161.38,493.34 162.08,493.09 162.78,492.85 163.49,492.62 164.20,492.40 164.92,492.18 165.66,491.97 166.39,491.76 167.14,491.55 167.89,491.34 168.64,491.12 169.40,490.90 170.17,490.67 170.94,490.45 171.73,490.22 172.52,490.00 173.32,489.77 174.12,489.54 174.93,489.32 175.74,489.09 176.55,488.87 177.37,488.64 178.18,488.42 179.00,488.20 179.77,487.99 180.48,487.79 181.13,487.60 181.77,487.42 182.40,487.24 183.07,487.06 183.79,486.86 184.58,486.66 185.47,486.43 186.49,486.18 187.66,485.91 189.00,485.60 190.54,485.25 192.25,484.85 194.12,484.42 196.12,483.96 198.22,483.48 200.39,482.99 202.61,482.51 204.85,482.03 207.08,481.57 209.29,481.14 211.44,480.75 213.50,480.40 215.58,480.09 217.78,479.80 220.06,479.53 222.37,479.27 224.67,479.04 226.93,478.82 229.11,478.63 231.16,478.45 233.04,478.29 234.72,478.14 236.15,478.01 237.30,477.90" fill="none" stroke="#f36a6e" stroke-width="1.2" stroke-linejoin="round"/><rect x="137.20" y="446.50" width="104.20" height="88.80" fill="none" stroke="#c6c6c6" stroke-width="1.35"/><text class="tk" x="141.40" y="539.90" font-size="4.50" text-anchor="middle">0</text><text class="tk" x="157.25" y="539.90" font-size="4.50" text-anchor="middle">2</text><text class="tk" x="173.10" y="539.90" font-size="4.50" text-anchor="middle">4</text><text class="tk" x="188.95" y="539.90" font-size="4.50" text-anchor="middle">6</text><text class="tk" x="204.80" y="539.90" font-size="4.50" text-anchor="middle">8</text><text class="tk" x="220.65" y="539.90" font-size="4.50" text-anchor="middle">10</text><text class="tk" x="236.50" y="539.90" font-size="4.50" text-anchor="middle">12</text><text class="tk" x="135.60" y="532.60" font-size="4.50" text-anchor="end">0.0</text><text class="tk" x="135.60" y="517.60" font-size="4.50" text-anchor="end">0.1</text><text class="tk" x="135.60" y="502.60" font-size="4.50" text-anchor="end">0.2</text><text class="tk" x="135.60" y="487.60" font-size="4.50" text-anchor="end">0.3</text><text class="tk" x="135.60" y="472.60" font-size="4.50" text-anchor="end">0.4</text><text class="tk" x="135.60" y="457.60" font-size="4.50" text-anchor="end">0.5</text><path d="M141.40 535.60v1.6M157.25 535.60v1.6M173.10 535.60v1.6M188.95 535.60v1.6M204.80 535.60v1.6M220.65 535.60v1.6M236.50 535.60v1.6M136.90 531.10h-1.6M136.90 516.10h-1.6M136.90 501.10h-1.6M136.90 486.10h-1.6M136.90 471.10h-1.6M136.90 456.10h-1.6" stroke="#8a8a8a" stroke-width="0.55" fill="none"/><text class="ti" x="190.90" y="445.90" font-size="5.40" text-anchor="middle">(n)US−Me6</text><text class="xl" x="189.30" y="545.88" font-size="4.80" text-anchor="middle">VPD(kPa)</text><text transform="translate(127.50 490.90) rotate(-90)" font-size="4.90" text-anchor="middle">T/ET</text></g></svg></body></html>
